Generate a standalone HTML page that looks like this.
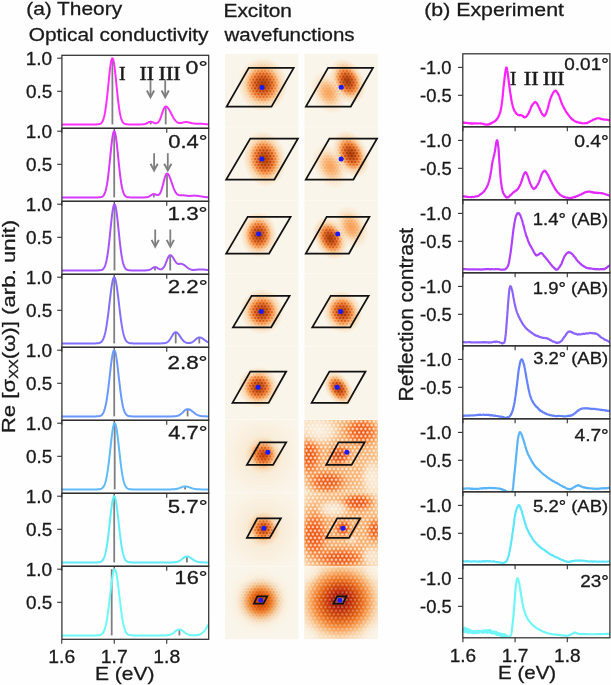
<!DOCTYPE html><html><head><meta charset="utf-8"><style>html,body{margin:0;padding:0;background:#fefefe;width:611px;height:685px;overflow:hidden}svg{display:block}</style></head><body><svg width="611" height="685" viewBox="0 0 611 685"><defs><clipPath id="lc0"><rect x="61.9" y="55.3" width="146.8" height="73"/></clipPath><clipPath id="lc1"><rect x="61.9" y="128.3" width="146.8" height="73"/></clipPath><clipPath id="lc2"><rect x="61.9" y="201.3" width="146.8" height="73"/></clipPath><clipPath id="lc3"><rect x="61.9" y="274.3" width="146.8" height="73"/></clipPath><clipPath id="lc4"><rect x="61.9" y="347.3" width="146.8" height="73"/></clipPath><clipPath id="lc5"><rect x="61.9" y="420.3" width="146.8" height="73"/></clipPath><clipPath id="lc6"><rect x="61.9" y="493.3" width="146.8" height="73"/></clipPath><clipPath id="lc7"><rect x="61.9" y="566.3" width="146.8" height="73"/></clipPath><clipPath id="rc0"><rect x="462.8" y="53.8" width="147.1" height="73"/></clipPath><clipPath id="rc1"><rect x="462.8" y="126.8" width="147.1" height="73"/></clipPath><clipPath id="rc2"><rect x="462.8" y="199.8" width="147.1" height="73"/></clipPath><clipPath id="rc3"><rect x="462.8" y="272.8" width="147.1" height="73"/></clipPath><clipPath id="rc4"><rect x="462.8" y="345.8" width="147.1" height="73"/></clipPath><clipPath id="rc5"><rect x="462.8" y="418.8" width="147.1" height="73"/></clipPath><clipPath id="rc6"><rect x="462.8" y="491.8" width="147.1" height="73"/></clipPath><clipPath id="rc7"><rect x="462.8" y="564.8" width="147.1" height="73"/></clipPath><pattern id="hexD" width="3.4" height="5.89" patternUnits="userSpaceOnUse"><circle cx="0" cy="0" r="1.05" fill="#7a2a05"/><circle cx="3.4" cy="0" r="1.05" fill="#7a2a05"/><circle cx="0" cy="5.89" r="1.05" fill="#7a2a05"/><circle cx="3.4" cy="5.89" r="1.05" fill="#7a2a05"/><circle cx="1.7" cy="2.945" r="1.05" fill="#7a2a05"/></pattern><pattern id="hexW" width="4.2" height="7.27" patternUnits="userSpaceOnUse"><circle cx="0" cy="0" r="1.3" fill="#fff8ef"/><circle cx="4.2" cy="0" r="1.3" fill="#fff8ef"/><circle cx="0" cy="7.27" r="1.3" fill="#fff8ef"/><circle cx="4.2" cy="7.27" r="1.3" fill="#fff8ef"/><circle cx="2.1" cy="3.635" r="1.3" fill="#fff8ef"/></pattern><pattern id="hexG" width="3.4" height="5.89" patternUnits="userSpaceOnUse"><path d="M0 0H3.4V5.89H0ZM-1.15 0a1.15 1.15 0 1 0 2.3 0a1.15 1.15 0 1 0 -2.3 0ZM2.25 0a1.15 1.15 0 1 0 2.3 0a1.15 1.15 0 1 0 -2.3 0ZM-1.15 5.89a1.15 1.15 0 1 0 2.3 0a1.15 1.15 0 1 0 -2.3 0ZM2.25 5.89a1.15 1.15 0 1 0 2.3 0a1.15 1.15 0 1 0 -2.3 0ZM0.55 2.94a1.15 1.15 0 1 0 2.3 0a1.15 1.15 0 1 0 -2.3 0Z" fill="#fff1e2" fill-rule="evenodd"/></pattern><clipPath id="ic0_0"><rect x="225" y="53.9" width="73.5" height="72.8"/></clipPath><clipPath id="ic0_1"><rect x="304.4" y="53.9" width="73.5" height="72.8"/></clipPath><clipPath id="ic1_0"><rect x="225" y="127.1" width="73.5" height="72.8"/></clipPath><clipPath id="ic1_1"><rect x="304.4" y="127.1" width="73.5" height="72.8"/></clipPath><clipPath id="ic2_0"><rect x="225" y="200.3" width="73.5" height="72.8"/></clipPath><clipPath id="ic2_1"><rect x="304.4" y="200.3" width="73.5" height="72.8"/></clipPath><clipPath id="ic3_0"><rect x="225" y="273.5" width="73.5" height="72.8"/></clipPath><clipPath id="ic3_1"><rect x="304.4" y="273.5" width="73.5" height="72.8"/></clipPath><clipPath id="ic4_0"><rect x="225" y="346.7" width="73.5" height="72.8"/></clipPath><clipPath id="ic4_1"><rect x="304.4" y="346.7" width="73.5" height="72.8"/></clipPath><clipPath id="ic5_0"><rect x="225" y="419.9" width="73.5" height="72.8"/></clipPath><clipPath id="ic5_1"><rect x="304.4" y="419.9" width="73.5" height="72.8"/></clipPath><clipPath id="ic6_0"><rect x="225" y="493.1" width="73.5" height="72.8"/></clipPath><clipPath id="ic6_1"><rect x="304.4" y="493.1" width="73.5" height="72.8"/></clipPath><clipPath id="ic7_0"><rect x="225" y="566.3" width="73.5" height="72.8"/></clipPath><clipPath id="ic7_1"><rect x="304.4" y="566.3" width="73.5" height="72.8"/></clipPath><radialGradient id="g1"><stop offset="0" stop-color="#bc4102"/><stop offset="0.07" stop-color="#bd4102"/><stop offset="0.14" stop-color="#c04202"/><stop offset="0.21" stop-color="#c74502"/><stop offset="0.29" stop-color="#d54a01"/><stop offset="0.36" stop-color="#e25709"/><stop offset="0.43" stop-color="#f06b14"/><stop offset="0.5" stop-color="#f98632"/><stop offset="0.57" stop-color="#fda359"/><stop offset="0.64" stop-color="#fdc085"/><stop offset="0.71" stop-color="#fddab2"/><stop offset="0.79" stop-color="#fee8d0"/><stop offset="0.86" stop-color="#fef3e6"/><stop offset="0.93" stop-color="#fff8f1"/><stop offset="1" stop-color="#ffffff"/></radialGradient><radialGradient id="gg2"><stop offset="0" stop-color="#fff" stop-opacity="0"/><stop offset="0.35" stop-color="#fff" stop-opacity="0.29"/><stop offset="0.75" stop-color="#fff" stop-opacity="0.42"/><stop offset="1" stop-color="#fff" stop-opacity="0"/></radialGradient><mask id="gm2" maskUnits="userSpaceOnUse" x="0" y="0" width="611" height="685"><ellipse cx="262.7" cy="84.5" rx="23.6" ry="25.65" fill="url(#gg2)"/></mask><radialGradient id="mg3"><stop offset="0" stop-color="#fff" stop-opacity="0.5"/><stop offset="0.55" stop-color="#fff" stop-opacity="0.23"/><stop offset="1" stop-color="#fff" stop-opacity="0"/></radialGradient><mask id="m3" maskUnits="userSpaceOnUse" x="0" y="0" width="611" height="685"><ellipse cx="262.7" cy="84.5" rx="17" ry="18" fill="url(#mg3)"/></mask><radialGradient id="g4"><stop offset="0" stop-color="#b83e02"/><stop offset="0.07" stop-color="#b93f02"/><stop offset="0.14" stop-color="#bc4102"/><stop offset="0.21" stop-color="#c34302"/><stop offset="0.29" stop-color="#d24801"/><stop offset="0.36" stop-color="#e05507"/><stop offset="0.43" stop-color="#ee6912"/><stop offset="0.5" stop-color="#f88430"/><stop offset="0.57" stop-color="#fda157"/><stop offset="0.64" stop-color="#fdbe83"/><stop offset="0.71" stop-color="#fdd8b1"/><stop offset="0.79" stop-color="#fee8d0"/><stop offset="0.86" stop-color="#fef3e5"/><stop offset="0.93" stop-color="#fff8f1"/><stop offset="1" stop-color="#ffffff"/></radialGradient><radialGradient id="g5"><stop offset="0" stop-color="#fdac66"/><stop offset="0.07" stop-color="#fdac66"/><stop offset="0.14" stop-color="#fdad67"/><stop offset="0.21" stop-color="#fdaf6b"/><stop offset="0.29" stop-color="#fdb472"/><stop offset="0.36" stop-color="#fdbb7f"/><stop offset="0.43" stop-color="#fdc690"/><stop offset="0.5" stop-color="#fdd2a6"/><stop offset="0.57" stop-color="#fddebb"/><stop offset="0.64" stop-color="#fee7ce"/><stop offset="0.71" stop-color="#feefe1"/><stop offset="0.79" stop-color="#fef5ea"/><stop offset="0.86" stop-color="#fff9f2"/><stop offset="0.93" stop-color="#fffcf7"/><stop offset="1" stop-color="#ffffff"/></radialGradient><radialGradient id="gg6"><stop offset="0" stop-color="#fff" stop-opacity="0"/><stop offset="0.35" stop-color="#fff" stop-opacity="0.29"/><stop offset="0.75" stop-color="#fff" stop-opacity="0.42"/><stop offset="1" stop-color="#fff" stop-opacity="0"/></radialGradient><mask id="gm6" maskUnits="userSpaceOnUse" x="0" y="0" width="611" height="685"><ellipse cx="347.5" cy="81.2" rx="15.9" ry="22.57" fill="url(#gg6)" transform="rotate(-26 347.5 81.2)"/></mask><radialGradient id="gg7"><stop offset="0" stop-color="#fff" stop-opacity="0"/><stop offset="0.35" stop-color="#fff" stop-opacity="0.29"/><stop offset="0.75" stop-color="#fff" stop-opacity="0.42"/><stop offset="1" stop-color="#fff" stop-opacity="0"/></radialGradient><mask id="gm7" maskUnits="userSpaceOnUse" x="0" y="0" width="611" height="685"><ellipse cx="328.3" cy="92.6" rx="15.9" ry="21.55" fill="url(#gg7)" transform="rotate(-26 328.3 92.6)"/></mask><radialGradient id="mg8"><stop offset="0" stop-color="#fff" stop-opacity="0.5"/><stop offset="0.55" stop-color="#fff" stop-opacity="0.23"/><stop offset="1" stop-color="#fff" stop-opacity="0"/></radialGradient><mask id="m8" maskUnits="userSpaceOnUse" x="0" y="0" width="611" height="685"><ellipse cx="347.5" cy="81.2" rx="11" ry="16" fill="url(#mg8)" transform="rotate(-26 347.5 81.2)"/></mask><radialGradient id="g9"><stop offset="0" stop-color="#bc4102"/><stop offset="0.07" stop-color="#bd4102"/><stop offset="0.14" stop-color="#c04202"/><stop offset="0.21" stop-color="#c74502"/><stop offset="0.29" stop-color="#d54a01"/><stop offset="0.36" stop-color="#e25709"/><stop offset="0.43" stop-color="#f06b14"/><stop offset="0.5" stop-color="#f98632"/><stop offset="0.57" stop-color="#fda359"/><stop offset="0.64" stop-color="#fdc085"/><stop offset="0.71" stop-color="#fddab2"/><stop offset="0.79" stop-color="#fee8d0"/><stop offset="0.86" stop-color="#fef3e6"/><stop offset="0.93" stop-color="#fff8f1"/><stop offset="1" stop-color="#ffffff"/></radialGradient><radialGradient id="gg10"><stop offset="0" stop-color="#fff" stop-opacity="0"/><stop offset="0.35" stop-color="#fff" stop-opacity="0.29"/><stop offset="0.75" stop-color="#fff" stop-opacity="0.42"/><stop offset="1" stop-color="#fff" stop-opacity="0"/></radialGradient><mask id="gm10" maskUnits="userSpaceOnUse" x="0" y="0" width="611" height="685"><ellipse cx="264.5" cy="159" rx="20.52" ry="26.68" fill="url(#gg10)" transform="rotate(-8 264.5 159)"/></mask><radialGradient id="mg11"><stop offset="0" stop-color="#fff" stop-opacity="0.5"/><stop offset="0.55" stop-color="#fff" stop-opacity="0.23"/><stop offset="1" stop-color="#fff" stop-opacity="0"/></radialGradient><mask id="m11" maskUnits="userSpaceOnUse" x="0" y="0" width="611" height="685"><ellipse cx="264.5" cy="158" rx="14" ry="18" fill="url(#mg11)" transform="rotate(-8 264.5 158)"/></mask><radialGradient id="g12"><stop offset="0" stop-color="#b83e02"/><stop offset="0.07" stop-color="#b93f02"/><stop offset="0.14" stop-color="#bc4102"/><stop offset="0.21" stop-color="#c34302"/><stop offset="0.29" stop-color="#d24801"/><stop offset="0.36" stop-color="#e05507"/><stop offset="0.43" stop-color="#ee6912"/><stop offset="0.5" stop-color="#f88430"/><stop offset="0.57" stop-color="#fda157"/><stop offset="0.64" stop-color="#fdbe83"/><stop offset="0.71" stop-color="#fdd8b1"/><stop offset="0.79" stop-color="#fee8d0"/><stop offset="0.86" stop-color="#fef3e5"/><stop offset="0.93" stop-color="#fff8f1"/><stop offset="1" stop-color="#ffffff"/></radialGradient><radialGradient id="g13"><stop offset="0" stop-color="#fdac66"/><stop offset="0.07" stop-color="#fdac66"/><stop offset="0.14" stop-color="#fdad67"/><stop offset="0.21" stop-color="#fdaf6b"/><stop offset="0.29" stop-color="#fdb472"/><stop offset="0.36" stop-color="#fdbb7f"/><stop offset="0.43" stop-color="#fdc690"/><stop offset="0.5" stop-color="#fdd2a6"/><stop offset="0.57" stop-color="#fddebb"/><stop offset="0.64" stop-color="#fee7ce"/><stop offset="0.71" stop-color="#feefe1"/><stop offset="0.79" stop-color="#fef5ea"/><stop offset="0.86" stop-color="#fff9f2"/><stop offset="0.93" stop-color="#fffcf7"/><stop offset="1" stop-color="#ffffff"/></radialGradient><radialGradient id="gg14"><stop offset="0" stop-color="#fff" stop-opacity="0"/><stop offset="0.35" stop-color="#fff" stop-opacity="0.29"/><stop offset="0.75" stop-color="#fff" stop-opacity="0.42"/><stop offset="1" stop-color="#fff" stop-opacity="0"/></radialGradient><mask id="gm14" maskUnits="userSpaceOnUse" x="0" y="0" width="611" height="685"><ellipse cx="350.8" cy="154" rx="15.9" ry="23.6" fill="url(#gg14)" transform="rotate(-26 350.8 154)"/></mask><radialGradient id="gg15"><stop offset="0" stop-color="#fff" stop-opacity="0"/><stop offset="0.35" stop-color="#fff" stop-opacity="0.29"/><stop offset="0.75" stop-color="#fff" stop-opacity="0.42"/><stop offset="1" stop-color="#fff" stop-opacity="0"/></radialGradient><mask id="gm15" maskUnits="userSpaceOnUse" x="0" y="0" width="611" height="685"><ellipse cx="330.3" cy="166.3" rx="15.9" ry="22.57" fill="url(#gg15)" transform="rotate(-26 330.3 166.3)"/></mask><radialGradient id="mg16"><stop offset="0" stop-color="#fff" stop-opacity="0.5"/><stop offset="0.55" stop-color="#fff" stop-opacity="0.23"/><stop offset="1" stop-color="#fff" stop-opacity="0"/></radialGradient><mask id="m16" maskUnits="userSpaceOnUse" x="0" y="0" width="611" height="685"><ellipse cx="350.8" cy="154" rx="11" ry="16" fill="url(#mg16)" transform="rotate(-26 350.8 154)"/></mask><radialGradient id="g17"><stop offset="0" stop-color="#b83e02"/><stop offset="0.07" stop-color="#b93f02"/><stop offset="0.14" stop-color="#bc4102"/><stop offset="0.21" stop-color="#c34302"/><stop offset="0.29" stop-color="#d24801"/><stop offset="0.36" stop-color="#e05507"/><stop offset="0.43" stop-color="#ee6912"/><stop offset="0.5" stop-color="#f88430"/><stop offset="0.57" stop-color="#fda157"/><stop offset="0.64" stop-color="#fdbe83"/><stop offset="0.71" stop-color="#fdd8b1"/><stop offset="0.79" stop-color="#fee8d0"/><stop offset="0.86" stop-color="#fef3e5"/><stop offset="0.93" stop-color="#fff8f1"/><stop offset="1" stop-color="#ffffff"/></radialGradient><radialGradient id="gg18"><stop offset="0" stop-color="#fff" stop-opacity="0"/><stop offset="0.35" stop-color="#fff" stop-opacity="0.29"/><stop offset="0.75" stop-color="#fff" stop-opacity="0.42"/><stop offset="1" stop-color="#fff" stop-opacity="0"/></radialGradient><mask id="gm18" maskUnits="userSpaceOnUse" x="0" y="0" width="611" height="685"><ellipse cx="258.7" cy="234.7" rx="17.44" ry="21.55" fill="url(#gg18)"/></mask><radialGradient id="mg19"><stop offset="0" stop-color="#fff" stop-opacity="0.45"/><stop offset="0.55" stop-color="#fff" stop-opacity="0.2"/><stop offset="1" stop-color="#fff" stop-opacity="0"/></radialGradient><mask id="m19" maskUnits="userSpaceOnUse" x="0" y="0" width="611" height="685"><ellipse cx="258.7" cy="234.1" rx="12" ry="15" fill="url(#mg19)"/></mask><radialGradient id="g20"><stop offset="0" stop-color="#b83e02"/><stop offset="0.07" stop-color="#b93f02"/><stop offset="0.14" stop-color="#bc4102"/><stop offset="0.21" stop-color="#c34302"/><stop offset="0.29" stop-color="#d24801"/><stop offset="0.36" stop-color="#e05507"/><stop offset="0.43" stop-color="#ee6912"/><stop offset="0.5" stop-color="#f88430"/><stop offset="0.57" stop-color="#fda157"/><stop offset="0.64" stop-color="#fdbe83"/><stop offset="0.71" stop-color="#fdd8b1"/><stop offset="0.79" stop-color="#fee8d0"/><stop offset="0.86" stop-color="#fef3e5"/><stop offset="0.93" stop-color="#fff8f1"/><stop offset="1" stop-color="#ffffff"/></radialGradient><radialGradient id="g21"><stop offset="0" stop-color="#fda55d"/><stop offset="0.07" stop-color="#fda75e"/><stop offset="0.14" stop-color="#fda85f"/><stop offset="0.21" stop-color="#fdaa64"/><stop offset="0.29" stop-color="#fdaf6a"/><stop offset="0.36" stop-color="#fdb676"/><stop offset="0.43" stop-color="#fdc289"/><stop offset="0.5" stop-color="#fdcfa0"/><stop offset="0.57" stop-color="#fddcb7"/><stop offset="0.64" stop-color="#fee6cb"/><stop offset="0.71" stop-color="#feeede"/><stop offset="0.79" stop-color="#fef5e9"/><stop offset="0.86" stop-color="#fff9f2"/><stop offset="0.93" stop-color="#fffbf7"/><stop offset="1" stop-color="#ffffff"/></radialGradient><radialGradient id="gg22"><stop offset="0" stop-color="#fff" stop-opacity="0"/><stop offset="0.35" stop-color="#fff" stop-opacity="0.29"/><stop offset="0.75" stop-color="#fff" stop-opacity="0.42"/><stop offset="1" stop-color="#fff" stop-opacity="0"/></radialGradient><mask id="gm22" maskUnits="userSpaceOnUse" x="0" y="0" width="611" height="685"><ellipse cx="330.3" cy="238.2" rx="15.39" ry="21.55" fill="url(#gg22)" transform="rotate(-26 330.3 238.2)"/></mask><radialGradient id="gg23"><stop offset="0" stop-color="#fff" stop-opacity="0"/><stop offset="0.35" stop-color="#fff" stop-opacity="0.29"/><stop offset="0.75" stop-color="#fff" stop-opacity="0.42"/><stop offset="1" stop-color="#fff" stop-opacity="0"/></radialGradient><mask id="gm23" maskUnits="userSpaceOnUse" x="0" y="0" width="611" height="685"><ellipse cx="351.3" cy="227" rx="15.39" ry="21.55" fill="url(#gg23)" transform="rotate(-26 351.3 227)"/></mask><radialGradient id="mg24"><stop offset="0" stop-color="#fff" stop-opacity="0.5"/><stop offset="0.55" stop-color="#fff" stop-opacity="0.23"/><stop offset="1" stop-color="#fff" stop-opacity="0"/></radialGradient><mask id="m24" maskUnits="userSpaceOnUse" x="0" y="0" width="611" height="685"><ellipse cx="330.5" cy="237.5" rx="10" ry="15" fill="url(#mg24)" transform="rotate(-26 330.5 237.5)"/></mask><radialGradient id="g25"><stop offset="0" stop-color="#bc4102"/><stop offset="0.07" stop-color="#bd4102"/><stop offset="0.14" stop-color="#c04202"/><stop offset="0.21" stop-color="#c74502"/><stop offset="0.29" stop-color="#d54a01"/><stop offset="0.36" stop-color="#e25709"/><stop offset="0.43" stop-color="#f06b14"/><stop offset="0.5" stop-color="#f98632"/><stop offset="0.57" stop-color="#fda359"/><stop offset="0.64" stop-color="#fdc085"/><stop offset="0.71" stop-color="#fddab2"/><stop offset="0.79" stop-color="#fee8d0"/><stop offset="0.86" stop-color="#fef3e6"/><stop offset="0.93" stop-color="#fff8f1"/><stop offset="1" stop-color="#ffffff"/></radialGradient><radialGradient id="gg26"><stop offset="0" stop-color="#fff" stop-opacity="0"/><stop offset="0.35" stop-color="#fff" stop-opacity="0.29"/><stop offset="0.75" stop-color="#fff" stop-opacity="0.42"/><stop offset="1" stop-color="#fff" stop-opacity="0"/></radialGradient><mask id="gm26" maskUnits="userSpaceOnUse" x="0" y="0" width="611" height="685"><ellipse cx="262" cy="311.6" rx="20.52" ry="21.55" fill="url(#gg26)"/></mask><radialGradient id="mg27"><stop offset="0" stop-color="#fff" stop-opacity="0.5"/><stop offset="0.55" stop-color="#fff" stop-opacity="0.23"/><stop offset="1" stop-color="#fff" stop-opacity="0"/></radialGradient><mask id="m27" maskUnits="userSpaceOnUse" x="0" y="0" width="611" height="685"><ellipse cx="261.3" cy="311.6" rx="14" ry="14" fill="url(#mg27)"/></mask><radialGradient id="g28"><stop offset="0" stop-color="#c14202"/><stop offset="0.07" stop-color="#c14302"/><stop offset="0.14" stop-color="#c44302"/><stop offset="0.21" stop-color="#cb4602"/><stop offset="0.29" stop-color="#d94b01"/><stop offset="0.36" stop-color="#e35a0a"/><stop offset="0.43" stop-color="#f16d15"/><stop offset="0.5" stop-color="#fa8835"/><stop offset="0.57" stop-color="#fda45b"/><stop offset="0.64" stop-color="#fdc188"/><stop offset="0.71" stop-color="#fddbb3"/><stop offset="0.79" stop-color="#fee9d1"/><stop offset="0.86" stop-color="#fef3e6"/><stop offset="0.93" stop-color="#fff8f1"/><stop offset="1" stop-color="#ffffff"/></radialGradient><radialGradient id="gg29"><stop offset="0" stop-color="#fff" stop-opacity="0"/><stop offset="0.35" stop-color="#fff" stop-opacity="0.29"/><stop offset="0.75" stop-color="#fff" stop-opacity="0.42"/><stop offset="1" stop-color="#fff" stop-opacity="0"/></radialGradient><mask id="gm29" maskUnits="userSpaceOnUse" x="0" y="0" width="611" height="685"><ellipse cx="342.4" cy="312" rx="18.47" ry="20.52" fill="url(#gg29)" transform="rotate(-20 342.4 312)"/></mask><radialGradient id="mg30"><stop offset="0" stop-color="#fff" stop-opacity="0.5"/><stop offset="0.55" stop-color="#fff" stop-opacity="0.23"/><stop offset="1" stop-color="#fff" stop-opacity="0"/></radialGradient><mask id="m30" maskUnits="userSpaceOnUse" x="0" y="0" width="611" height="685"><ellipse cx="343.5" cy="313" rx="13" ry="14" fill="url(#mg30)" transform="rotate(-20 343.5 313)"/></mask><radialGradient id="g31"><stop offset="0" stop-color="#bc4102"/><stop offset="0.07" stop-color="#bd4102"/><stop offset="0.14" stop-color="#c04202"/><stop offset="0.21" stop-color="#c74502"/><stop offset="0.29" stop-color="#d54a01"/><stop offset="0.36" stop-color="#e25709"/><stop offset="0.43" stop-color="#f06b14"/><stop offset="0.5" stop-color="#f98632"/><stop offset="0.57" stop-color="#fda359"/><stop offset="0.64" stop-color="#fdc085"/><stop offset="0.71" stop-color="#fddab2"/><stop offset="0.79" stop-color="#fee8d0"/><stop offset="0.86" stop-color="#fef3e6"/><stop offset="0.93" stop-color="#fff8f1"/><stop offset="1" stop-color="#ffffff"/></radialGradient><radialGradient id="gg32"><stop offset="0" stop-color="#fff" stop-opacity="0"/><stop offset="0.35" stop-color="#fff" stop-opacity="0.29"/><stop offset="0.75" stop-color="#fff" stop-opacity="0.42"/><stop offset="1" stop-color="#fff" stop-opacity="0"/></radialGradient><mask id="gm32" maskUnits="userSpaceOnUse" x="0" y="0" width="611" height="685"><ellipse cx="258.5" cy="387.2" rx="19.49" ry="19.49" fill="url(#gg32)"/></mask><radialGradient id="mg33"><stop offset="0" stop-color="#fff" stop-opacity="0.5"/><stop offset="0.55" stop-color="#fff" stop-opacity="0.23"/><stop offset="1" stop-color="#fff" stop-opacity="0"/></radialGradient><mask id="m33" maskUnits="userSpaceOnUse" x="0" y="0" width="611" height="685"><ellipse cx="258.3" cy="387.2" rx="13" ry="13" fill="url(#mg33)"/></mask><radialGradient id="g34"><stop offset="0" stop-color="#c14202"/><stop offset="0.07" stop-color="#c14302"/><stop offset="0.14" stop-color="#c44302"/><stop offset="0.21" stop-color="#cb4602"/><stop offset="0.29" stop-color="#d94b01"/><stop offset="0.36" stop-color="#e35a0a"/><stop offset="0.43" stop-color="#f16d15"/><stop offset="0.5" stop-color="#fa8835"/><stop offset="0.57" stop-color="#fda45b"/><stop offset="0.64" stop-color="#fdc188"/><stop offset="0.71" stop-color="#fddbb3"/><stop offset="0.79" stop-color="#fee9d1"/><stop offset="0.86" stop-color="#fef3e6"/><stop offset="0.93" stop-color="#fff8f1"/><stop offset="1" stop-color="#ffffff"/></radialGradient><radialGradient id="gg35"><stop offset="0" stop-color="#fff" stop-opacity="0"/><stop offset="0.35" stop-color="#fff" stop-opacity="0.29"/><stop offset="0.75" stop-color="#fff" stop-opacity="0.42"/><stop offset="1" stop-color="#fff" stop-opacity="0"/></radialGradient><mask id="gm35" maskUnits="userSpaceOnUse" x="0" y="0" width="611" height="685"><ellipse cx="338.5" cy="388.5" rx="12.31" ry="18.47" fill="url(#gg35)" transform="rotate(-35 338.5 388.5)"/></mask><radialGradient id="mg36"><stop offset="0" stop-color="#fff" stop-opacity="0.5"/><stop offset="0.55" stop-color="#fff" stop-opacity="0.23"/><stop offset="1" stop-color="#fff" stop-opacity="0"/></radialGradient><mask id="m36" maskUnits="userSpaceOnUse" x="0" y="0" width="611" height="685"><ellipse cx="338.5" cy="388.5" rx="9" ry="14" fill="url(#mg36)" transform="rotate(-35 338.5 388.5)"/></mask><radialGradient id="g37"><stop offset="0" stop-color="#fef3e6"/><stop offset="0.07" stop-color="#fef3e6"/><stop offset="0.14" stop-color="#fef3e6"/><stop offset="0.21" stop-color="#fef3e7"/><stop offset="0.29" stop-color="#fef4e8"/><stop offset="0.36" stop-color="#fef5e9"/><stop offset="0.43" stop-color="#fef6eb"/><stop offset="0.5" stop-color="#fef7ef"/><stop offset="0.57" stop-color="#fff9f2"/><stop offset="0.64" stop-color="#fffaf4"/><stop offset="0.71" stop-color="#fffbf7"/><stop offset="0.79" stop-color="#fffdfa"/><stop offset="0.86" stop-color="#fffefc"/><stop offset="0.93" stop-color="#fffefd"/><stop offset="1" stop-color="#ffffff"/></radialGradient><radialGradient id="g38"><stop offset="0" stop-color="#db4e02"/><stop offset="0.07" stop-color="#db4e03"/><stop offset="0.14" stop-color="#dc5003"/><stop offset="0.21" stop-color="#df5407"/><stop offset="0.29" stop-color="#e65d0b"/><stop offset="0.36" stop-color="#ef6a12"/><stop offset="0.43" stop-color="#f67e28"/><stop offset="0.5" stop-color="#fd9645"/><stop offset="0.57" stop-color="#fdaf6a"/><stop offset="0.64" stop-color="#fdc995"/><stop offset="0.71" stop-color="#fddebb"/><stop offset="0.79" stop-color="#feebd7"/><stop offset="0.86" stop-color="#fef4e8"/><stop offset="0.93" stop-color="#fff9f2"/><stop offset="1" stop-color="#ffffff"/></radialGradient><radialGradient id="gg39"><stop offset="0" stop-color="#fff" stop-opacity="0"/><stop offset="0.35" stop-color="#fff" stop-opacity="0.29"/><stop offset="0.75" stop-color="#fff" stop-opacity="0.42"/><stop offset="1" stop-color="#fff" stop-opacity="0"/></radialGradient><mask id="gm39" maskUnits="userSpaceOnUse" x="0" y="0" width="611" height="685"><ellipse cx="263.3" cy="455" rx="17.1" ry="17.57" fill="url(#gg39)"/></mask><radialGradient id="mg40"><stop offset="0" stop-color="#fff" stop-opacity="0.55"/><stop offset="0.55" stop-color="#fff" stop-opacity="0.25"/><stop offset="1" stop-color="#fff" stop-opacity="0"/></radialGradient><mask id="m40" maskUnits="userSpaceOnUse" x="0" y="0" width="611" height="685"><ellipse cx="263.3" cy="455" rx="12" ry="13" fill="url(#mg40)"/></mask><radialGradient id="g41"><stop offset="0" stop-color="#fdb97c"/><stop offset="0.07" stop-color="#fdb97c"/><stop offset="0.14" stop-color="#fdb97c"/><stop offset="0.21" stop-color="#fdb97c"/><stop offset="0.29" stop-color="#fdb97c"/><stop offset="0.36" stop-color="#fdba7d"/><stop offset="0.43" stop-color="#fdbc80"/><stop offset="0.5" stop-color="#fdc085"/><stop offset="0.57" stop-color="#fdc58e"/><stop offset="0.64" stop-color="#fdcc9b"/><stop offset="0.71" stop-color="#fdd7ae"/><stop offset="0.79" stop-color="#fde1c0"/><stop offset="0.86" stop-color="#feead5"/><stop offset="0.93" stop-color="#fef3e6"/><stop offset="1" stop-color="#ffffff"/></radialGradient><radialGradient id="g42"><stop offset="0" stop-color="#f3751d"/><stop offset="0.07" stop-color="#f3751d"/><stop offset="0.14" stop-color="#f4771f"/><stop offset="0.21" stop-color="#f57b25"/><stop offset="0.29" stop-color="#f8822e"/><stop offset="0.36" stop-color="#fb8e3c"/><stop offset="0.43" stop-color="#fd9d50"/><stop offset="0.5" stop-color="#fdaf6b"/><stop offset="0.57" stop-color="#fdc48d"/><stop offset="0.64" stop-color="#fdd8b1"/><stop offset="0.71" stop-color="#fee6cb"/><stop offset="0.79" stop-color="#fef0e1"/><stop offset="0.86" stop-color="#fef6ed"/><stop offset="0.93" stop-color="#fffaf4"/><stop offset="1" stop-color="#ffffff"/></radialGradient><radialGradient id="g43"><stop offset="0" stop-color="#f3751d"/><stop offset="0.07" stop-color="#f3751d"/><stop offset="0.14" stop-color="#f4771f"/><stop offset="0.21" stop-color="#f57b25"/><stop offset="0.29" stop-color="#f8822e"/><stop offset="0.36" stop-color="#fb8e3c"/><stop offset="0.43" stop-color="#fd9d50"/><stop offset="0.5" stop-color="#fdaf6b"/><stop offset="0.57" stop-color="#fdc48d"/><stop offset="0.64" stop-color="#fdd8b1"/><stop offset="0.71" stop-color="#fee6cb"/><stop offset="0.79" stop-color="#fef0e1"/><stop offset="0.86" stop-color="#fef6ed"/><stop offset="0.93" stop-color="#fffaf4"/><stop offset="1" stop-color="#ffffff"/></radialGradient><radialGradient id="g44"><stop offset="0" stop-color="#f3751d"/><stop offset="0.07" stop-color="#f3751d"/><stop offset="0.14" stop-color="#f4771f"/><stop offset="0.21" stop-color="#f57b25"/><stop offset="0.29" stop-color="#f8822e"/><stop offset="0.36" stop-color="#fb8e3c"/><stop offset="0.43" stop-color="#fd9d50"/><stop offset="0.5" stop-color="#fdaf6b"/><stop offset="0.57" stop-color="#fdc48d"/><stop offset="0.64" stop-color="#fdd8b1"/><stop offset="0.71" stop-color="#fee6cb"/><stop offset="0.79" stop-color="#fef0e1"/><stop offset="0.86" stop-color="#fef6ed"/><stop offset="0.93" stop-color="#fffaf4"/><stop offset="1" stop-color="#ffffff"/></radialGradient><radialGradient id="g45"><stop offset="0" stop-color="#ee6912"/><stop offset="0.07" stop-color="#ee6912"/><stop offset="0.14" stop-color="#ef6b14"/><stop offset="0.21" stop-color="#f26f17"/><stop offset="0.29" stop-color="#f47721"/><stop offset="0.36" stop-color="#f88430"/><stop offset="0.43" stop-color="#fd9544"/><stop offset="0.5" stop-color="#fda861"/><stop offset="0.57" stop-color="#fdbd83"/><stop offset="0.64" stop-color="#fdd4a9"/><stop offset="0.71" stop-color="#fde3c7"/><stop offset="0.79" stop-color="#feefde"/><stop offset="0.86" stop-color="#fef6eb"/><stop offset="0.93" stop-color="#fffaf4"/><stop offset="1" stop-color="#ffffff"/></radialGradient><radialGradient id="lg46"><stop offset="0" stop-color="#faf5ea" stop-opacity="0.9"/><stop offset="0.5" stop-color="#faf5ea" stop-opacity="0.68"/><stop offset="1" stop-color="#faf5ea" stop-opacity="0"/></radialGradient><radialGradient id="lg47"><stop offset="0" stop-color="#faf5ea" stop-opacity="0.8"/><stop offset="0.5" stop-color="#faf5ea" stop-opacity="0.6"/><stop offset="1" stop-color="#faf5ea" stop-opacity="0"/></radialGradient><radialGradient id="lg48"><stop offset="0" stop-color="#faf5ea" stop-opacity="0.6"/><stop offset="0.5" stop-color="#faf5ea" stop-opacity="0.45"/><stop offset="1" stop-color="#faf5ea" stop-opacity="0"/></radialGradient><radialGradient id="mg50"><stop offset="0" stop-color="#fff" stop-opacity="0.45"/><stop offset="0.55" stop-color="#fff" stop-opacity="0.2"/><stop offset="1" stop-color="#fff" stop-opacity="0"/></radialGradient><mask id="m50" maskUnits="userSpaceOnUse" x="0" y="0" width="611" height="685"><ellipse cx="339.3" cy="455.3" rx="9" ry="7" fill="url(#mg50)" transform="rotate(-20 339.3 455.3)"/></mask><radialGradient id="g51"><stop offset="0" stop-color="#fef3e6"/><stop offset="0.07" stop-color="#fef3e6"/><stop offset="0.14" stop-color="#fef3e6"/><stop offset="0.21" stop-color="#fef3e7"/><stop offset="0.29" stop-color="#fef4e8"/><stop offset="0.36" stop-color="#fef5e9"/><stop offset="0.43" stop-color="#fef6eb"/><stop offset="0.5" stop-color="#fef7ef"/><stop offset="0.57" stop-color="#fff9f2"/><stop offset="0.64" stop-color="#fffaf4"/><stop offset="0.71" stop-color="#fffbf7"/><stop offset="0.79" stop-color="#fffdfa"/><stop offset="0.86" stop-color="#fffefc"/><stop offset="0.93" stop-color="#fffefd"/><stop offset="1" stop-color="#ffffff"/></radialGradient><radialGradient id="g52"><stop offset="0" stop-color="#db4e02"/><stop offset="0.07" stop-color="#db4e03"/><stop offset="0.14" stop-color="#dc5003"/><stop offset="0.21" stop-color="#df5407"/><stop offset="0.29" stop-color="#e65d0b"/><stop offset="0.36" stop-color="#ef6a12"/><stop offset="0.43" stop-color="#f67e28"/><stop offset="0.5" stop-color="#fd9645"/><stop offset="0.57" stop-color="#fdaf6a"/><stop offset="0.64" stop-color="#fdc995"/><stop offset="0.71" stop-color="#fddebb"/><stop offset="0.79" stop-color="#feebd7"/><stop offset="0.86" stop-color="#fef4e8"/><stop offset="0.93" stop-color="#fff9f2"/><stop offset="1" stop-color="#ffffff"/></radialGradient><radialGradient id="gg53"><stop offset="0" stop-color="#fff" stop-opacity="0"/><stop offset="0.35" stop-color="#fff" stop-opacity="0.29"/><stop offset="0.75" stop-color="#fff" stop-opacity="0.42"/><stop offset="1" stop-color="#fff" stop-opacity="0"/></radialGradient><mask id="gm53" maskUnits="userSpaceOnUse" x="0" y="0" width="611" height="685"><ellipse cx="263.5" cy="528.8" rx="16.15" ry="16.62" fill="url(#gg53)"/></mask><radialGradient id="mg54"><stop offset="0" stop-color="#fff" stop-opacity="0.55"/><stop offset="0.55" stop-color="#fff" stop-opacity="0.25"/><stop offset="1" stop-color="#fff" stop-opacity="0"/></radialGradient><mask id="m54" maskUnits="userSpaceOnUse" x="0" y="0" width="611" height="685"><ellipse cx="263.5" cy="528.8" rx="12" ry="12" fill="url(#mg54)"/></mask><radialGradient id="g55"><stop offset="0" stop-color="#fdb472"/><stop offset="0.07" stop-color="#fdb472"/><stop offset="0.14" stop-color="#fdb472"/><stop offset="0.21" stop-color="#fdb472"/><stop offset="0.29" stop-color="#fdb473"/><stop offset="0.36" stop-color="#fdb574"/><stop offset="0.43" stop-color="#fdb676"/><stop offset="0.5" stop-color="#fdb97c"/><stop offset="0.57" stop-color="#fdc085"/><stop offset="0.64" stop-color="#fdc894"/><stop offset="0.71" stop-color="#fdd3a7"/><stop offset="0.79" stop-color="#fddfbc"/><stop offset="0.86" stop-color="#fee9d1"/><stop offset="0.93" stop-color="#fef1e5"/><stop offset="1" stop-color="#ffffff"/></radialGradient><radialGradient id="g56"><stop offset="0" stop-color="#f3751d"/><stop offset="0.07" stop-color="#f3751d"/><stop offset="0.14" stop-color="#f4771f"/><stop offset="0.21" stop-color="#f57b25"/><stop offset="0.29" stop-color="#f8822e"/><stop offset="0.36" stop-color="#fb8e3c"/><stop offset="0.43" stop-color="#fd9d50"/><stop offset="0.5" stop-color="#fdaf6b"/><stop offset="0.57" stop-color="#fdc48d"/><stop offset="0.64" stop-color="#fdd8b1"/><stop offset="0.71" stop-color="#fee6cb"/><stop offset="0.79" stop-color="#fef0e1"/><stop offset="0.86" stop-color="#fef6ed"/><stop offset="0.93" stop-color="#fffaf4"/><stop offset="1" stop-color="#ffffff"/></radialGradient><radialGradient id="g57"><stop offset="0" stop-color="#f3751d"/><stop offset="0.07" stop-color="#f3751d"/><stop offset="0.14" stop-color="#f4771f"/><stop offset="0.21" stop-color="#f57b25"/><stop offset="0.29" stop-color="#f8822e"/><stop offset="0.36" stop-color="#fb8e3c"/><stop offset="0.43" stop-color="#fd9d50"/><stop offset="0.5" stop-color="#fdaf6b"/><stop offset="0.57" stop-color="#fdc48d"/><stop offset="0.64" stop-color="#fdd8b1"/><stop offset="0.71" stop-color="#fee6cb"/><stop offset="0.79" stop-color="#fef0e1"/><stop offset="0.86" stop-color="#fef6ed"/><stop offset="0.93" stop-color="#fffaf4"/><stop offset="1" stop-color="#ffffff"/></radialGradient><radialGradient id="g58"><stop offset="0" stop-color="#ee6912"/><stop offset="0.07" stop-color="#ee6912"/><stop offset="0.14" stop-color="#ef6b14"/><stop offset="0.21" stop-color="#f26f17"/><stop offset="0.29" stop-color="#f47721"/><stop offset="0.36" stop-color="#f88430"/><stop offset="0.43" stop-color="#fd9544"/><stop offset="0.5" stop-color="#fda861"/><stop offset="0.57" stop-color="#fdbd83"/><stop offset="0.64" stop-color="#fdd4a9"/><stop offset="0.71" stop-color="#fde3c7"/><stop offset="0.79" stop-color="#feefde"/><stop offset="0.86" stop-color="#fef6eb"/><stop offset="0.93" stop-color="#fffaf4"/><stop offset="1" stop-color="#ffffff"/></radialGradient><radialGradient id="g59"><stop offset="0" stop-color="#f57b25"/><stop offset="0.07" stop-color="#f57b25"/><stop offset="0.14" stop-color="#f67d27"/><stop offset="0.21" stop-color="#f7802b"/><stop offset="0.29" stop-color="#f98734"/><stop offset="0.36" stop-color="#fd9342"/><stop offset="0.43" stop-color="#fda157"/><stop offset="0.5" stop-color="#fdb371"/><stop offset="0.57" stop-color="#fdc792"/><stop offset="0.64" stop-color="#fddbb4"/><stop offset="0.71" stop-color="#fee7cd"/><stop offset="0.79" stop-color="#fef0e2"/><stop offset="0.86" stop-color="#fef6ed"/><stop offset="0.93" stop-color="#fffaf5"/><stop offset="1" stop-color="#ffffff"/></radialGradient><radialGradient id="g60"><stop offset="0" stop-color="#ea640f"/><stop offset="0.07" stop-color="#ea640f"/><stop offset="0.14" stop-color="#ec6510"/><stop offset="0.21" stop-color="#ee6912"/><stop offset="0.29" stop-color="#f2711a"/><stop offset="0.36" stop-color="#f77f29"/><stop offset="0.43" stop-color="#fc913e"/><stop offset="0.5" stop-color="#fda45b"/><stop offset="0.57" stop-color="#fdba7e"/><stop offset="0.64" stop-color="#fdd2a5"/><stop offset="0.71" stop-color="#fde2c4"/><stop offset="0.79" stop-color="#feeedd"/><stop offset="0.86" stop-color="#fef5ea"/><stop offset="0.93" stop-color="#fff9f3"/><stop offset="1" stop-color="#ffffff"/></radialGradient><radialGradient id="lg61"><stop offset="0" stop-color="#faf5ea" stop-opacity="0.85"/><stop offset="0.5" stop-color="#faf5ea" stop-opacity="0.64"/><stop offset="1" stop-color="#faf5ea" stop-opacity="0"/></radialGradient><radialGradient id="lg62"><stop offset="0" stop-color="#faf5ea" stop-opacity="0.7"/><stop offset="0.5" stop-color="#faf5ea" stop-opacity="0.52"/><stop offset="1" stop-color="#faf5ea" stop-opacity="0"/></radialGradient><radialGradient id="lg63"><stop offset="0" stop-color="#faf5ea" stop-opacity="0.5"/><stop offset="0.5" stop-color="#faf5ea" stop-opacity="0.38"/><stop offset="1" stop-color="#faf5ea" stop-opacity="0"/></radialGradient><radialGradient id="mg65"><stop offset="0" stop-color="#fff" stop-opacity="0.45"/><stop offset="0.55" stop-color="#fff" stop-opacity="0.2"/><stop offset="1" stop-color="#fff" stop-opacity="0"/></radialGradient><mask id="m65" maskUnits="userSpaceOnUse" x="0" y="0" width="611" height="685"><ellipse cx="343" cy="528" rx="8" ry="7" fill="url(#mg65)"/></mask><radialGradient id="g66"><stop offset="0" stop-color="#db4e02"/><stop offset="0.07" stop-color="#dd5004"/><stop offset="0.14" stop-color="#e35a0a"/><stop offset="0.21" stop-color="#f06b14"/><stop offset="0.29" stop-color="#f98733"/><stop offset="0.36" stop-color="#fda75d"/><stop offset="0.43" stop-color="#fdc58f"/><stop offset="0.5" stop-color="#fddfbc"/><stop offset="0.57" stop-color="#feedda"/><stop offset="0.64" stop-color="#fef5eb"/><stop offset="0.71" stop-color="#fffaf4"/><stop offset="0.79" stop-color="#fffdfa"/><stop offset="0.86" stop-color="#fffefd"/><stop offset="0.93" stop-color="#fffffe"/><stop offset="1" stop-color="#ffffff"/></radialGradient><radialGradient id="mg67"><stop offset="0" stop-color="#fff" stop-opacity="0.4"/><stop offset="0.55" stop-color="#fff" stop-opacity="0.18"/><stop offset="1" stop-color="#fff" stop-opacity="0"/></radialGradient><mask id="m67" maskUnits="userSpaceOnUse" x="0" y="0" width="611" height="685"><ellipse cx="260.7" cy="601" rx="24" ry="24" fill="url(#mg67)"/></mask><radialGradient id="g68"><stop offset="0" stop-color="#c54402"/><stop offset="0.07" stop-color="#c54402"/><stop offset="0.14" stop-color="#c94502"/><stop offset="0.21" stop-color="#d24901"/><stop offset="0.29" stop-color="#de5205"/><stop offset="0.36" stop-color="#eb640f"/><stop offset="0.43" stop-color="#f67e28"/><stop offset="0.5" stop-color="#fd9c4e"/><stop offset="0.57" stop-color="#fdba7c"/><stop offset="0.64" stop-color="#fdd7ae"/><stop offset="0.71" stop-color="#fee8cf"/><stop offset="0.79" stop-color="#fef3e6"/><stop offset="0.86" stop-color="#fff9f2"/><stop offset="0.93" stop-color="#fffcf8"/><stop offset="1" stop-color="#ffffff"/></radialGradient><radialGradient id="g69"><stop offset="0" stop-color="#c54402"/><stop offset="0.07" stop-color="#c54402"/><stop offset="0.14" stop-color="#c84502"/><stop offset="0.21" stop-color="#cf4801"/><stop offset="0.29" stop-color="#db4e02"/><stop offset="0.36" stop-color="#e55c0b"/><stop offset="0.43" stop-color="#f27018"/><stop offset="0.5" stop-color="#fa8a37"/><stop offset="0.57" stop-color="#fda55d"/><stop offset="0.64" stop-color="#fdc289"/><stop offset="0.71" stop-color="#fddbb4"/><stop offset="0.79" stop-color="#fee9d3"/><stop offset="0.86" stop-color="#fef3e6"/><stop offset="0.93" stop-color="#fff8f1"/><stop offset="1" stop-color="#ffffff"/></radialGradient><radialGradient id="lg70"><stop offset="0" stop-color="#faf5ea" stop-opacity="0.5"/><stop offset="0.5" stop-color="#faf5ea" stop-opacity="0.38"/><stop offset="1" stop-color="#faf5ea" stop-opacity="0"/></radialGradient><radialGradient id="lg71"><stop offset="0" stop-color="#faf5ea" stop-opacity="0.7"/><stop offset="0.5" stop-color="#faf5ea" stop-opacity="0.52"/><stop offset="1" stop-color="#faf5ea" stop-opacity="0"/></radialGradient><radialGradient id="lg72"><stop offset="0" stop-color="#faf5ea" stop-opacity="0.5"/><stop offset="0.5" stop-color="#faf5ea" stop-opacity="0.38"/><stop offset="1" stop-color="#faf5ea" stop-opacity="0"/></radialGradient><radialGradient id="lg73"><stop offset="0" stop-color="#faf5ea" stop-opacity="0.6"/><stop offset="0.5" stop-color="#faf5ea" stop-opacity="0.45"/><stop offset="1" stop-color="#faf5ea" stop-opacity="0"/></radialGradient><radialGradient id="lg74"><stop offset="0" stop-color="#faf5ea" stop-opacity="0.6"/><stop offset="0.5" stop-color="#faf5ea" stop-opacity="0.45"/><stop offset="1" stop-color="#faf5ea" stop-opacity="0"/></radialGradient><radialGradient id="mg76"><stop offset="0" stop-color="#fff" stop-opacity="0.45"/><stop offset="0.55" stop-color="#fff" stop-opacity="0.2"/><stop offset="1" stop-color="#fff" stop-opacity="0"/></radialGradient><mask id="m76" maskUnits="userSpaceOnUse" x="0" y="0" width="611" height="685"><ellipse cx="340" cy="600" rx="32" ry="30" fill="url(#mg76)" transform="rotate(-10 340 600)"/></mask></defs><rect width="611" height="685" fill="#fefefe"/><line x1="112.4" y1="58.2" x2="112.4" y2="124.4" stroke="#7f7f7f" stroke-width="1.8"/>
<line x1="150.8" y1="121.75" x2="150.8" y2="124.4" stroke="#7f7f7f" stroke-width="1.8"/>
<line x1="165.7" y1="106.53" x2="165.7" y2="124.4" stroke="#7f7f7f" stroke-width="1.8"/>
<path d="M60.9 124.4 L61.4 124.4 L61.9 124.4 L62.4 124.4 L62.9 124.4 L63.4 124.4 L63.9 124.4 L64.4 124.4 L64.9 124.4 L65.4 124.4 L65.9 124.4 L66.4 124.4 L66.9 124.4 L67.4 124.4 L67.9 124.4 L68.4 124.4 L68.9 124.4 L69.4 124.4 L69.9 124.4 L70.4 124.4 L70.9 124.4 L71.4 124.4 L71.9 124.4 L72.4 124.4 L72.9 124.4 L73.4 124.4 L73.9 124.4 L74.4 124.4 L74.9 124.4 L75.4 124.4 L75.9 124.4 L76.4 124.4 L76.9 124.4 L77.4 124.4 L77.9 124.4 L78.4 124.4 L78.9 124.4 L79.4 124.4 L79.9 124.4 L80.4 124.4 L80.9 124.4 L81.4 124.4 L81.9 124.4 L82.4 124.4 L82.9 124.4 L83.4 124.4 L83.9 124.4 L84.4 124.4 L84.9 124.4 L85.4 124.4 L85.9 124.4 L86.4 124.4 L86.9 124.4 L87.4 124.4 L87.9 124.4 L88.4 124.4 L88.9 124.4 L89.4 124.4 L89.9 124.4 L90.4 124.4 L90.9 124.4 L91.4 124.4 L91.9 124.4 L92.4 124.4 L92.9 124.4 L93.4 124.4 L93.9 124.4 L94.4 124.4 L94.9 124.4 L95.4 124.39 L95.9 124.39 L96.4 124.38 L96.9 124.36 L97.4 124.34 L97.9 124.31 L98.4 124.26 L98.9 124.18 L99.4 124.06 L99.9 123.9 L100.4 123.66 L100.9 123.34 L101.4 122.89 L101.9 122.29 L102.4 121.49 L102.9 120.46 L103.4 119.13 L103.9 117.48 L104.4 115.44 L104.9 112.99 L105.4 110.08 L105.9 106.72 L106.4 102.91 L106.9 98.68 L107.4 94.09 L107.9 89.24 L108.4 84.25 L108.9 79.26 L109.4 74.43 L109.9 69.95 L110.4 65.98 L110.9 62.69 L111.4 60.24 L111.9 58.72 L112.4 58.2 L112.9 58.72 L113.4 60.24 L113.9 62.69 L114.4 65.98 L114.9 69.95 L115.4 74.43 L115.9 79.26 L116.4 84.25 L116.9 89.24 L117.4 94.09 L117.9 98.68 L118.4 102.91 L118.9 106.72 L119.4 110.08 L119.9 112.99 L120.4 115.44 L120.9 117.48 L121.4 119.13 L121.9 120.46 L122.4 121.49 L122.9 122.29 L123.4 122.89 L123.9 123.34 L124.4 123.66 L124.9 123.9 L125.4 124.06 L125.9 124.18 L126.4 124.26 L126.9 124.31 L127.4 124.34 L127.9 124.36 L128.4 124.38 L128.9 124.39 L129.4 124.39 L129.9 124.4 L130.4 124.4 L130.9 124.4 L131.4 124.4 L131.9 124.4 L132.4 124.4 L132.9 124.4 L133.4 124.4 L133.9 124.4 L134.4 124.4 L134.9 124.4 L135.4 124.4 L135.9 124.4 L136.4 124.4 L136.9 124.4 L137.4 124.4 L137.9 124.4 L138.4 124.4 L138.9 124.4 L139.4 124.4 L139.9 124.4 L140.4 124.39 L140.9 124.39 L141.4 124.38 L141.9 124.37 L142.4 124.35 L142.9 124.32 L143.4 124.27 L143.9 124.21 L144.4 124.13 L144.9 124.02 L145.4 123.88 L145.9 123.7 L146.4 123.5 L146.9 123.26 L147.4 123.01 L147.9 122.74 L148.4 122.48 L148.9 122.23 L149.4 122.02 L149.9 121.87 L150.4 121.77 L150.9 121.75 L151.4 121.8 L151.9 121.91 L152.4 122.08 L152.9 122.3 L153.4 122.53 L153.9 122.76 L154.4 122.98 L154.9 123.16 L155.4 123.28 L155.9 123.34 L156.4 123.3 L156.9 123.16 L157.4 122.91 L157.9 122.53 L158.4 122.01 L158.9 121.33 L159.4 120.49 L159.9 119.49 L160.4 118.34 L160.9 117.04 L161.4 115.64 L161.9 114.16 L162.4 112.66 L162.9 111.19 L163.4 109.83 L163.9 108.63 L164.4 107.65 L164.9 106.96 L165.4 106.59 L165.9 106.54 L166.4 106.67 L166.9 106.95 L167.4 107.36 L167.9 107.9 L168.4 108.55 L168.9 109.31 L169.4 110.15 L169.9 111.05 L170.4 111.99 L170.9 112.97 L171.4 113.95 L171.9 114.93 L172.4 115.88 L172.9 116.8 L173.4 117.68 L173.9 118.49 L174.4 119.25 L174.9 119.94 L175.4 120.56 L175.9 121.1 L176.4 121.58 L176.9 121.98 L177.4 122.31 L177.9 122.58 L178.4 122.78 L178.9 122.92 L179.4 123 L179.9 123.04 L180.4 123.03 L180.9 122.98 L181.4 122.9 L181.9 122.8 L182.4 122.68 L182.9 122.55 L183.4 122.42 L183.9 122.31 L184.4 122.21 L184.9 122.13 L185.4 122.08 L185.9 122.06 L186.4 122.07 L186.9 122.11 L187.4 122.16 L187.9 122.23 L188.4 122.32 L188.9 122.43 L189.4 122.54 L189.9 122.66 L190.4 122.79 L190.9 122.92 L191.4 123.04 L191.9 123.16 L192.4 123.27 L192.9 123.37 L193.4 123.46 L193.9 123.53 L194.4 123.59 L194.9 123.63 L195.4 123.66 L195.9 123.68 L196.4 123.69 L196.9 123.69 L197.4 123.69 L197.9 123.69 L198.4 123.68 L198.9 123.68 L199.4 123.68 L199.9 123.69 L200.4 123.7 L200.9 123.73 L201.4 123.76 L201.9 123.79 L202.4 123.84 L202.9 123.88 L203.4 123.93 L203.9 123.98 L204.4 124.04 L204.9 124.09 L205.4 124.13 L205.9 124.18 L206.4 124.22 L206.9 124.25 L207.4 124.28 L207.9 124.31 L208.4 124.33 L208.9 124.34 L209.4 124.36" fill="none" stroke="#ff30ff" stroke-width="2" stroke-linejoin="round" stroke-linecap="round" clip-path="url(#lc0)"/>
<rect x="61.9" y="55.3" width="146.8" height="73" fill="none" stroke="#303030" stroke-width="1.25"/>
<line x1="57.2" y1="58.2" x2="61.9" y2="58.2" stroke="#303030" stroke-width="1.1"/>
<line x1="57.2" y1="91.3" x2="61.9" y2="91.3" stroke="#303030" stroke-width="1.1"/>
<line x1="61.75" y1="128.3" x2="61.75" y2="132.8" stroke="#303030" stroke-width="1.1"/>
<line x1="114.25" y1="128.3" x2="114.25" y2="132.8" stroke="#303030" stroke-width="1.1"/>
<line x1="166.75" y1="128.3" x2="166.75" y2="132.8" stroke="#303030" stroke-width="1.1"/>
<text x="25.7" y="65.1" font-family="Liberation Sans" font-size="17.44" fill="#1a1a1a" text-anchor="start" textLength="26.39" lengthAdjust="spacingAndGlyphs" stroke="#1a1a1a" stroke-width="0.3">1.0</text>
<text x="25.91" y="97.6" font-family="Liberation Sans" font-size="17.44" fill="#1a1a1a" text-anchor="start" textLength="26.23" lengthAdjust="spacingAndGlyphs" stroke="#1a1a1a" stroke-width="0.3">0.5</text>
<text x="185.55" y="73.7" font-family="Liberation Sans" font-size="18.75" fill="#1a1a1a" text-anchor="start" textLength="22.09" lengthAdjust="spacingAndGlyphs" stroke="#1a1a1a" stroke-width="0.3">0°</text>
<line x1="114.2" y1="131.2" x2="114.2" y2="197.4" stroke="#7f7f7f" stroke-width="1.8"/>
<line x1="153.8" y1="194.09" x2="153.8" y2="197.4" stroke="#7f7f7f" stroke-width="1.8"/>
<line x1="167" y1="173.57" x2="167" y2="197.4" stroke="#7f7f7f" stroke-width="1.8"/>
<path d="M60.9 197.4 L61.4 197.4 L61.9 197.4 L62.4 197.4 L62.9 197.4 L63.4 197.4 L63.9 197.4 L64.4 197.4 L64.9 197.4 L65.4 197.4 L65.9 197.4 L66.4 197.4 L66.9 197.4 L67.4 197.4 L67.9 197.4 L68.4 197.4 L68.9 197.4 L69.4 197.4 L69.9 197.4 L70.4 197.4 L70.9 197.4 L71.4 197.4 L71.9 197.4 L72.4 197.4 L72.9 197.4 L73.4 197.4 L73.9 197.4 L74.4 197.4 L74.9 197.4 L75.4 197.4 L75.9 197.4 L76.4 197.4 L76.9 197.4 L77.4 197.4 L77.9 197.4 L78.4 197.4 L78.9 197.4 L79.4 197.4 L79.9 197.4 L80.4 197.4 L80.9 197.4 L81.4 197.4 L81.9 197.4 L82.4 197.4 L82.9 197.4 L83.4 197.4 L83.9 197.4 L84.4 197.4 L84.9 197.4 L85.4 197.4 L85.9 197.4 L86.4 197.4 L86.9 197.4 L87.4 197.4 L87.9 197.4 L88.4 197.4 L88.9 197.4 L89.4 197.4 L89.9 197.4 L90.4 197.4 L90.9 197.4 L91.4 197.4 L91.9 197.4 L92.4 197.4 L92.9 197.4 L93.4 197.4 L93.9 197.4 L94.4 197.4 L94.9 197.4 L95.4 197.4 L95.9 197.4 L96.4 197.4 L96.9 197.39 L97.4 197.39 L97.9 197.38 L98.4 197.37 L98.9 197.36 L99.4 197.33 L99.9 197.29 L100.4 197.23 L100.9 197.14 L101.4 197 L101.9 196.81 L102.4 196.55 L102.9 196.18 L103.4 195.67 L103.9 195 L104.4 194.11 L104.9 192.96 L105.4 191.51 L105.9 189.71 L106.4 187.51 L106.9 184.88 L107.4 181.79 L107.9 178.25 L108.4 174.26 L108.9 169.88 L109.4 165.18 L109.9 160.25 L110.4 155.24 L110.9 150.3 L111.4 145.58 L111.9 141.29 L112.4 137.57 L112.9 134.61 L113.4 132.51 L113.9 131.39 L114.4 131.28 L114.9 132.21 L115.4 134.11 L115.9 136.92 L116.4 140.49 L116.9 144.69 L117.4 149.33 L117.9 154.24 L118.4 159.25 L118.9 164.21 L119.4 168.96 L119.9 173.42 L120.4 177.49 L120.9 181.12 L121.4 184.3 L121.9 187.02 L122.4 189.3 L122.9 191.18 L123.4 192.7 L123.9 193.9 L124.4 194.84 L124.9 195.55 L125.4 196.09 L125.9 196.48 L126.4 196.77 L126.9 196.97 L127.4 197.11 L127.9 197.21 L128.4 197.28 L128.9 197.32 L129.4 197.35 L129.9 197.37 L130.4 197.38 L130.9 197.39 L131.4 197.39 L131.9 197.4 L132.4 197.4 L132.9 197.4 L133.4 197.4 L133.9 197.4 L134.4 197.4 L134.9 197.4 L135.4 197.4 L135.9 197.4 L136.4 197.4 L136.9 197.4 L137.4 197.4 L137.9 197.4 L138.4 197.4 L138.9 197.4 L139.4 197.4 L139.9 197.4 L140.4 197.4 L140.9 197.4 L141.4 197.4 L141.9 197.4 L142.4 197.4 L142.9 197.4 L143.4 197.39 L143.9 197.39 L144.4 197.38 L144.9 197.36 L145.4 197.33 L145.9 197.3 L146.4 197.24 L146.9 197.16 L147.4 197.06 L147.9 196.92 L148.4 196.74 L148.9 196.53 L149.4 196.27 L149.9 195.98 L150.4 195.66 L150.9 195.32 L151.4 194.99 L151.9 194.69 L152.4 194.43 L152.9 194.22 L153.4 194.1 L153.9 194.06 L154.4 194.1 L154.9 194.22 L155.4 194.4 L155.9 194.6 L156.4 194.81 L156.9 194.99 L157.4 195.11 L157.9 195.12 L158.4 195 L158.9 194.72 L159.4 194.25 L159.9 193.57 L160.4 192.67 L160.9 191.53 L161.4 190.16 L161.9 188.58 L162.4 186.81 L162.9 184.91 L163.4 182.93 L163.9 180.94 L164.4 179.03 L164.9 177.29 L165.4 175.81 L165.9 174.65 L166.4 173.9 L166.9 173.58 L167.4 173.65 L167.9 173.98 L168.4 174.56 L168.9 175.36 L169.4 176.36 L169.9 177.53 L170.4 178.84 L170.9 180.25 L171.4 181.71 L171.9 183.2 L172.4 184.68 L172.9 186.12 L173.4 187.49 L173.9 188.77 L174.4 189.94 L174.9 190.99 L175.4 191.92 L175.9 192.72 L176.4 193.39 L176.9 193.94 L177.4 194.38 L177.9 194.71 L178.4 194.95 L178.9 195.12 L179.4 195.23 L179.9 195.28 L180.4 195.31 L180.9 195.31 L181.4 195.3 L181.9 195.29 L182.4 195.29 L182.9 195.3 L183.4 195.33 L183.9 195.36 L184.4 195.41 L184.9 195.46 L185.4 195.52 L185.9 195.59 L186.4 195.65 L186.9 195.72 L187.4 195.78 L187.9 195.83 L188.4 195.87 L188.9 195.89 L189.4 195.9 L189.9 195.9 L190.4 195.88 L190.9 195.85 L191.4 195.81 L191.9 195.77 L192.4 195.72 L192.9 195.68 L193.4 195.64 L193.9 195.62 L194.4 195.62 L194.9 195.63 L195.4 195.66 L195.9 195.69 L196.4 195.73 L196.9 195.78 L197.4 195.84 L197.9 195.9 L198.4 195.97 L198.9 196.05 L199.4 196.13 L199.9 196.21 L200.4 196.29 L200.9 196.38 L201.4 196.46 L201.9 196.54 L202.4 196.63 L202.9 196.7 L203.4 196.78 L203.9 196.85 L204.4 196.91 L204.9 196.98 L205.4 197.03 L205.9 197.08 L206.4 197.13 L206.9 197.17 L207.4 197.2 L207.9 197.24 L208.4 197.26 L208.9 197.29 L209.4 197.31" fill="none" stroke="#d838ff" stroke-width="2" stroke-linejoin="round" stroke-linecap="round" clip-path="url(#lc1)"/>
<rect x="61.9" y="128.3" width="146.8" height="73" fill="none" stroke="#303030" stroke-width="1.25"/>
<line x1="57.2" y1="131.2" x2="61.9" y2="131.2" stroke="#303030" stroke-width="1.1"/>
<line x1="57.2" y1="164.3" x2="61.9" y2="164.3" stroke="#303030" stroke-width="1.1"/>
<line x1="61.75" y1="201.3" x2="61.75" y2="205.8" stroke="#303030" stroke-width="1.1"/>
<line x1="114.25" y1="201.3" x2="114.25" y2="205.8" stroke="#303030" stroke-width="1.1"/>
<line x1="166.75" y1="201.3" x2="166.75" y2="205.8" stroke="#303030" stroke-width="1.1"/>
<text x="25.7" y="138.1" font-family="Liberation Sans" font-size="17.44" fill="#1a1a1a" text-anchor="start" textLength="26.39" lengthAdjust="spacingAndGlyphs" stroke="#1a1a1a" stroke-width="0.3">1.0</text>
<text x="25.91" y="170.6" font-family="Liberation Sans" font-size="17.44" fill="#1a1a1a" text-anchor="start" textLength="26.23" lengthAdjust="spacingAndGlyphs" stroke="#1a1a1a" stroke-width="0.3">0.5</text>
<text x="168.29" y="148.4" font-family="Liberation Sans" font-size="18.75" fill="#1a1a1a" text-anchor="start" textLength="39.27" lengthAdjust="spacingAndGlyphs" stroke="#1a1a1a" stroke-width="0.3">0.4°</text>
<line x1="114.5" y1="204.2" x2="114.5" y2="270.4" stroke="#7f7f7f" stroke-width="1.8"/>
<line x1="155" y1="267.09" x2="155" y2="270.4" stroke="#7f7f7f" stroke-width="1.8"/>
<line x1="170.2" y1="255.17" x2="170.2" y2="270.4" stroke="#7f7f7f" stroke-width="1.8"/>
<path d="M60.9 270.4 L61.4 270.4 L61.9 270.4 L62.4 270.4 L62.9 270.4 L63.4 270.4 L63.9 270.4 L64.4 270.4 L64.9 270.4 L65.4 270.4 L65.9 270.4 L66.4 270.4 L66.9 270.4 L67.4 270.4 L67.9 270.4 L68.4 270.4 L68.9 270.4 L69.4 270.4 L69.9 270.4 L70.4 270.4 L70.9 270.4 L71.4 270.4 L71.9 270.4 L72.4 270.4 L72.9 270.4 L73.4 270.4 L73.9 270.4 L74.4 270.4 L74.9 270.4 L75.4 270.4 L75.9 270.4 L76.4 270.4 L76.9 270.4 L77.4 270.4 L77.9 270.4 L78.4 270.4 L78.9 270.4 L79.4 270.4 L79.9 270.4 L80.4 270.4 L80.9 270.4 L81.4 270.4 L81.9 270.4 L82.4 270.4 L82.9 270.4 L83.4 270.4 L83.9 270.4 L84.4 270.4 L84.9 270.4 L85.4 270.4 L85.9 270.4 L86.4 270.4 L86.9 270.4 L87.4 270.4 L87.9 270.4 L88.4 270.4 L88.9 270.4 L89.4 270.4 L89.9 270.4 L90.4 270.4 L90.9 270.4 L91.4 270.4 L91.9 270.4 L92.4 270.4 L92.9 270.4 L93.4 270.4 L93.9 270.4 L94.4 270.4 L94.9 270.4 L95.4 270.4 L95.9 270.4 L96.4 270.4 L96.9 270.39 L97.4 270.39 L97.9 270.38 L98.4 270.37 L98.9 270.35 L99.4 270.32 L99.9 270.28 L100.4 270.22 L100.9 270.13 L101.4 270 L101.9 269.81 L102.4 269.55 L102.9 269.19 L103.4 268.7 L103.9 268.06 L104.4 267.21 L104.9 266.13 L105.4 264.76 L105.9 263.06 L106.4 261 L106.9 258.52 L107.4 255.62 L107.9 252.28 L108.4 248.51 L108.9 244.35 L109.4 239.86 L109.9 235.12 L110.4 230.25 L110.9 225.38 L111.4 220.66 L111.9 216.26 L112.4 212.34 L112.9 209.05 L113.4 206.54 L113.9 204.91 L114.4 204.22 L114.9 204.51 L115.4 205.78 L115.9 207.95 L116.4 210.94 L116.9 214.62 L117.4 218.85 L117.9 223.46 L118.4 228.29 L118.9 233.18 L119.4 237.99 L119.9 242.59 L120.4 246.89 L120.9 250.82 L121.4 254.34 L121.9 257.41 L122.4 260.06 L122.9 262.28 L123.4 264.12 L123.9 265.62 L124.4 266.81 L124.9 267.75 L125.4 268.47 L125.9 269.01 L126.4 269.42 L126.9 269.72 L127.4 269.93 L127.9 270.08 L128.4 270.19 L128.9 270.26 L129.4 270.31 L129.9 270.34 L130.4 270.36 L130.9 270.38 L131.4 270.39 L131.9 270.39 L132.4 270.4 L132.9 270.4 L133.4 270.4 L133.9 270.4 L134.4 270.4 L134.9 270.4 L135.4 270.4 L135.9 270.4 L136.4 270.4 L136.9 270.4 L137.4 270.4 L137.9 270.4 L138.4 270.4 L138.9 270.4 L139.4 270.4 L139.9 270.4 L140.4 270.4 L140.9 270.4 L141.4 270.4 L141.9 270.4 L142.4 270.4 L142.9 270.4 L143.4 270.4 L143.9 270.4 L144.4 270.39 L144.9 270.39 L145.4 270.38 L145.9 270.37 L146.4 270.35 L146.9 270.31 L147.4 270.27 L147.9 270.2 L148.4 270.11 L148.9 269.98 L149.4 269.82 L149.9 269.62 L150.4 269.38 L150.9 269.1 L151.4 268.79 L151.9 268.46 L152.4 268.13 L152.9 267.81 L153.4 267.53 L153.9 267.3 L154.4 267.15 L154.9 267.09 L155.4 267.12 L155.9 267.23 L156.4 267.42 L156.9 267.67 L157.4 267.97 L157.9 268.28 L158.4 268.59 L158.9 268.87 L159.4 269.1 L159.9 269.27 L160.4 269.37 L160.9 269.38 L161.4 269.29 L161.9 269.1 L162.4 268.79 L162.9 268.35 L163.4 267.78 L163.9 267.07 L164.4 266.22 L164.9 265.23 L165.4 264.13 L165.9 262.93 L166.4 261.67 L166.9 260.4 L167.4 259.15 L167.9 257.98 L168.4 256.96 L168.9 256.13 L169.4 255.54 L169.9 255.21 L170.4 255.16 L170.9 255.31 L171.4 255.64 L171.9 256.12 L172.4 256.74 L172.9 257.46 L173.4 258.26 L173.9 259.1 L174.4 259.95 L174.9 260.77 L175.4 261.53 L175.9 262.2 L176.4 262.77 L176.9 263.23 L177.4 263.56 L177.9 263.78 L178.4 263.89 L178.9 263.92 L179.4 263.9 L179.9 263.85 L180.4 263.8 L180.9 263.78 L181.4 263.81 L181.9 263.92 L182.4 264.09 L182.9 264.3 L183.4 264.56 L183.9 264.85 L184.4 265.19 L184.9 265.56 L185.4 265.95 L185.9 266.35 L186.4 266.76 L186.9 267.17 L187.4 267.56 L187.9 267.93 L188.4 268.28 L188.9 268.6 L189.4 268.88 L189.9 269.13 L190.4 269.34 L190.9 269.52 L191.4 269.66 L191.9 269.77 L192.4 269.84 L192.9 269.89 L193.4 269.92 L193.9 269.92 L194.4 269.9 L194.9 269.87 L195.4 269.82 L195.9 269.77 L196.4 269.7 L196.9 269.64 L197.4 269.58 L197.9 269.52 L198.4 269.48 L198.9 269.44 L199.4 269.42 L199.9 269.41 L200.4 269.41 L200.9 269.42 L201.4 269.43 L201.9 269.46 L202.4 269.48 L202.9 269.52 L203.4 269.55 L203.9 269.6 L204.4 269.64 L204.9 269.69 L205.4 269.74 L205.9 269.79 L206.4 269.84 L206.9 269.89 L207.4 269.94 L207.9 269.98 L208.4 270.03 L208.9 270.07 L209.4 270.11" fill="none" stroke="#a455ff" stroke-width="2" stroke-linejoin="round" stroke-linecap="round" clip-path="url(#lc2)"/>
<rect x="61.9" y="201.3" width="146.8" height="73" fill="none" stroke="#303030" stroke-width="1.25"/>
<line x1="57.2" y1="204.2" x2="61.9" y2="204.2" stroke="#303030" stroke-width="1.1"/>
<line x1="57.2" y1="237.3" x2="61.9" y2="237.3" stroke="#303030" stroke-width="1.1"/>
<line x1="61.75" y1="274.3" x2="61.75" y2="278.8" stroke="#303030" stroke-width="1.1"/>
<line x1="114.25" y1="274.3" x2="114.25" y2="278.8" stroke="#303030" stroke-width="1.1"/>
<line x1="166.75" y1="274.3" x2="166.75" y2="278.8" stroke="#303030" stroke-width="1.1"/>
<text x="25.7" y="211.1" font-family="Liberation Sans" font-size="17.44" fill="#1a1a1a" text-anchor="start" textLength="26.39" lengthAdjust="spacingAndGlyphs" stroke="#1a1a1a" stroke-width="0.3">1.0</text>
<text x="25.91" y="243.6" font-family="Liberation Sans" font-size="17.44" fill="#1a1a1a" text-anchor="start" textLength="26.23" lengthAdjust="spacingAndGlyphs" stroke="#1a1a1a" stroke-width="0.3">0.5</text>
<text x="167.44" y="219.7" font-family="Liberation Sans" font-size="18.75" fill="#1a1a1a" text-anchor="start" textLength="40.16" lengthAdjust="spacingAndGlyphs" stroke="#1a1a1a" stroke-width="0.3">1.3°</text>
<line x1="114.2" y1="277.2" x2="114.2" y2="343.4" stroke="#7f7f7f" stroke-width="1.8"/>
<line x1="175.7" y1="332.15" x2="175.7" y2="343.4" stroke="#7f7f7f" stroke-width="1.8"/>
<line x1="199.3" y1="337.44" x2="199.3" y2="343.4" stroke="#7f7f7f" stroke-width="1.8"/>
<path d="M60.9 343.4 L61.4 343.4 L61.9 343.4 L62.4 343.4 L62.9 343.4 L63.4 343.4 L63.9 343.4 L64.4 343.4 L64.9 343.4 L65.4 343.4 L65.9 343.4 L66.4 343.4 L66.9 343.4 L67.4 343.4 L67.9 343.4 L68.4 343.4 L68.9 343.4 L69.4 343.4 L69.9 343.4 L70.4 343.4 L70.9 343.4 L71.4 343.4 L71.9 343.4 L72.4 343.4 L72.9 343.4 L73.4 343.4 L73.9 343.4 L74.4 343.4 L74.9 343.4 L75.4 343.4 L75.9 343.4 L76.4 343.4 L76.9 343.4 L77.4 343.4 L77.9 343.4 L78.4 343.4 L78.9 343.4 L79.4 343.4 L79.9 343.4 L80.4 343.4 L80.9 343.4 L81.4 343.4 L81.9 343.4 L82.4 343.4 L82.9 343.4 L83.4 343.4 L83.9 343.4 L84.4 343.4 L84.9 343.4 L85.4 343.4 L85.9 343.4 L86.4 343.4 L86.9 343.4 L87.4 343.4 L87.9 343.4 L88.4 343.4 L88.9 343.4 L89.4 343.4 L89.9 343.4 L90.4 343.4 L90.9 343.4 L91.4 343.4 L91.9 343.4 L92.4 343.4 L92.9 343.4 L93.4 343.4 L93.9 343.39 L94.4 343.39 L94.9 343.39 L95.4 343.38 L95.9 343.37 L96.4 343.35 L96.9 343.32 L97.4 343.29 L97.9 343.24 L98.4 343.17 L98.9 343.07 L99.4 342.93 L99.9 342.75 L100.4 342.51 L100.9 342.19 L101.4 341.78 L101.9 341.24 L102.4 340.57 L102.9 339.72 L103.4 338.68 L103.9 337.4 L104.4 335.87 L104.9 334.05 L105.4 331.93 L105.9 329.48 L106.4 326.7 L106.9 323.58 L107.4 320.16 L107.9 316.44 L108.4 312.48 L108.9 308.35 L109.4 304.1 L109.9 299.84 L110.4 295.66 L110.9 291.66 L111.4 287.96 L111.9 284.67 L112.4 281.88 L112.9 279.68 L113.4 278.15 L113.9 277.33 L114.4 277.26 L114.9 277.93 L115.4 279.32 L115.9 281.39 L116.4 284.07 L116.9 287.27 L117.4 290.9 L117.9 294.84 L118.4 298.99 L118.9 303.25 L119.4 307.5 L119.9 311.67 L120.4 315.67 L120.9 319.43 L121.4 322.92 L121.9 326.1 L122.4 328.95 L122.9 331.47 L123.4 333.65 L123.9 335.53 L124.4 337.12 L124.9 338.44 L125.4 339.53 L125.9 340.41 L126.4 341.12 L126.9 341.68 L127.4 342.12 L127.9 342.45 L128.4 342.71 L128.9 342.9 L129.4 343.05 L129.9 343.15 L130.4 343.23 L130.9 343.28 L131.4 343.32 L131.9 343.34 L132.4 343.36 L132.9 343.38 L133.4 343.38 L133.9 343.39 L134.4 343.39 L134.9 343.4 L135.4 343.4 L135.9 343.4 L136.4 343.4 L136.9 343.4 L137.4 343.4 L137.9 343.4 L138.4 343.4 L138.9 343.4 L139.4 343.4 L139.9 343.4 L140.4 343.4 L140.9 343.4 L141.4 343.4 L141.9 343.4 L142.4 343.4 L142.9 343.4 L143.4 343.4 L143.9 343.4 L144.4 343.4 L144.9 343.4 L145.4 343.4 L145.9 343.4 L146.4 343.4 L146.9 343.4 L147.4 343.4 L147.9 343.4 L148.4 343.4 L148.9 343.4 L149.4 343.4 L149.9 343.4 L150.4 343.4 L150.9 343.4 L151.4 343.4 L151.9 343.4 L152.4 343.4 L152.9 343.4 L153.4 343.4 L153.9 343.4 L154.4 343.4 L154.9 343.4 L155.4 343.4 L155.9 343.4 L156.4 343.4 L156.9 343.4 L157.4 343.4 L157.9 343.4 L158.4 343.4 L158.9 343.4 L159.4 343.4 L159.9 343.4 L160.4 343.39 L160.9 343.39 L161.4 343.38 L161.9 343.37 L162.4 343.36 L162.9 343.33 L163.4 343.3 L163.9 343.25 L164.4 343.19 L164.9 343.11 L165.4 342.99 L165.9 342.84 L166.4 342.65 L166.9 342.4 L167.4 342.09 L167.9 341.72 L168.4 341.27 L168.9 340.75 L169.4 340.14 L169.9 339.47 L170.4 338.72 L170.9 337.92 L171.4 337.09 L171.9 336.23 L172.4 335.39 L172.9 334.59 L173.4 333.86 L173.9 333.23 L174.4 332.72 L174.9 332.37 L175.4 332.18 L175.9 332.16 L176.4 332.28 L176.9 332.54 L177.4 332.92 L177.9 333.41 L178.4 334 L178.9 334.66 L179.4 335.37 L179.9 336.12 L180.4 336.88 L180.9 337.63 L181.4 338.35 L181.9 339.04 L182.4 339.68 L182.9 340.27 L183.4 340.79 L183.9 341.26 L184.4 341.66 L184.9 342 L185.4 342.28 L185.9 342.52 L186.4 342.7 L186.9 342.84 L187.4 342.95 L187.9 343.01 L188.4 343.04 L188.9 343.04 L189.4 343.01 L189.9 342.95 L190.4 342.84 L190.9 342.71 L191.4 342.53 L191.9 342.31 L192.4 342.04 L192.9 341.74 L193.4 341.39 L193.9 341 L194.4 340.58 L194.9 340.15 L195.4 339.7 L195.9 339.25 L196.4 338.82 L196.9 338.42 L197.4 338.08 L197.9 337.8 L198.4 337.59 L198.9 337.47 L199.4 337.44 L199.9 337.48 L200.4 337.58 L200.9 337.74 L201.4 337.94 L201.9 338.2 L202.4 338.48 L202.9 338.8 L203.4 339.14 L203.9 339.5 L204.4 339.86 L204.9 340.22 L205.4 340.57 L205.9 340.91 L206.4 341.23 L206.9 341.52 L207.4 341.8 L207.9 342.04 L208.4 342.26 L208.9 342.46 L209.4 342.63" fill="none" stroke="#8070ff" stroke-width="2" stroke-linejoin="round" stroke-linecap="round" clip-path="url(#lc3)"/>
<rect x="61.9" y="274.3" width="146.8" height="73" fill="none" stroke="#303030" stroke-width="1.25"/>
<line x1="57.2" y1="277.2" x2="61.9" y2="277.2" stroke="#303030" stroke-width="1.1"/>
<line x1="57.2" y1="310.3" x2="61.9" y2="310.3" stroke="#303030" stroke-width="1.1"/>
<line x1="61.75" y1="347.3" x2="61.75" y2="351.8" stroke="#303030" stroke-width="1.1"/>
<line x1="114.25" y1="347.3" x2="114.25" y2="351.8" stroke="#303030" stroke-width="1.1"/>
<line x1="166.75" y1="347.3" x2="166.75" y2="351.8" stroke="#303030" stroke-width="1.1"/>
<text x="25.7" y="284.1" font-family="Liberation Sans" font-size="17.44" fill="#1a1a1a" text-anchor="start" textLength="26.39" lengthAdjust="spacingAndGlyphs" stroke="#1a1a1a" stroke-width="0.3">1.0</text>
<text x="25.91" y="316.6" font-family="Liberation Sans" font-size="17.44" fill="#1a1a1a" text-anchor="start" textLength="26.23" lengthAdjust="spacingAndGlyphs" stroke="#1a1a1a" stroke-width="0.3">0.5</text>
<text x="167.73" y="293.4" font-family="Liberation Sans" font-size="18.75" fill="#1a1a1a" text-anchor="start" textLength="39.86" lengthAdjust="spacingAndGlyphs" stroke="#1a1a1a" stroke-width="0.3">2.2°</text>
<line x1="114.2" y1="350.2" x2="114.2" y2="416.4" stroke="#7f7f7f" stroke-width="1.8"/>
<line x1="187.6" y1="409.12" x2="187.6" y2="416.4" stroke="#7f7f7f" stroke-width="1.8"/>
<path d="M60.9 416.4 L61.4 416.4 L61.9 416.4 L62.4 416.4 L62.9 416.4 L63.4 416.4 L63.9 416.4 L64.4 416.4 L64.9 416.4 L65.4 416.4 L65.9 416.4 L66.4 416.4 L66.9 416.4 L67.4 416.4 L67.9 416.4 L68.4 416.4 L68.9 416.4 L69.4 416.4 L69.9 416.4 L70.4 416.4 L70.9 416.4 L71.4 416.4 L71.9 416.4 L72.4 416.4 L72.9 416.4 L73.4 416.4 L73.9 416.4 L74.4 416.4 L74.9 416.4 L75.4 416.4 L75.9 416.4 L76.4 416.4 L76.9 416.4 L77.4 416.4 L77.9 416.4 L78.4 416.4 L78.9 416.4 L79.4 416.4 L79.9 416.4 L80.4 416.4 L80.9 416.4 L81.4 416.4 L81.9 416.4 L82.4 416.4 L82.9 416.4 L83.4 416.4 L83.9 416.4 L84.4 416.4 L84.9 416.4 L85.4 416.4 L85.9 416.4 L86.4 416.4 L86.9 416.4 L87.4 416.4 L87.9 416.4 L88.4 416.4 L88.9 416.4 L89.4 416.4 L89.9 416.4 L90.4 416.4 L90.9 416.4 L91.4 416.4 L91.9 416.4 L92.4 416.4 L92.9 416.4 L93.4 416.4 L93.9 416.4 L94.4 416.4 L94.9 416.39 L95.4 416.39 L95.9 416.38 L96.4 416.37 L96.9 416.36 L97.4 416.34 L97.9 416.31 L98.4 416.26 L98.9 416.2 L99.4 416.1 L99.9 415.98 L100.4 415.8 L100.9 415.56 L101.4 415.24 L101.9 414.82 L102.4 414.27 L102.9 413.57 L103.4 412.68 L103.9 411.58 L104.4 410.22 L104.9 408.58 L105.4 406.62 L105.9 404.32 L106.4 401.66 L106.9 398.64 L107.4 395.26 L107.9 391.55 L108.4 387.55 L108.9 383.31 L109.4 378.92 L109.9 374.46 L110.4 370.05 L110.9 365.81 L111.4 361.85 L111.9 358.31 L112.4 355.29 L112.9 352.91 L113.4 351.24 L113.9 350.35 L114.4 350.27 L114.9 351 L115.4 352.51 L115.9 354.76 L116.4 357.66 L116.9 361.11 L117.4 364.99 L117.9 369.19 L118.4 373.57 L118.9 378.03 L119.4 382.45 L119.9 386.72 L120.4 390.78 L120.9 394.55 L121.4 397.99 L121.9 401.09 L122.4 403.82 L122.9 406.19 L123.4 408.21 L123.9 409.92 L124.4 411.33 L124.9 412.48 L125.4 413.41 L125.9 414.15 L126.4 414.72 L126.9 415.17 L127.4 415.5 L127.9 415.76 L128.4 415.94 L128.9 416.08 L129.4 416.18 L129.9 416.25 L130.4 416.3 L130.9 416.33 L131.4 416.36 L131.9 416.37 L132.4 416.38 L132.9 416.39 L133.4 416.39 L133.9 416.4 L134.4 416.4 L134.9 416.4 L135.4 416.4 L135.9 416.4 L136.4 416.4 L136.9 416.4 L137.4 416.4 L137.9 416.4 L138.4 416.4 L138.9 416.4 L139.4 416.4 L139.9 416.4 L140.4 416.4 L140.9 416.4 L141.4 416.4 L141.9 416.4 L142.4 416.4 L142.9 416.4 L143.4 416.4 L143.9 416.4 L144.4 416.4 L144.9 416.4 L145.4 416.4 L145.9 416.4 L146.4 416.4 L146.9 416.4 L147.4 416.4 L147.9 416.4 L148.4 416.4 L148.9 416.4 L149.4 416.4 L149.9 416.4 L150.4 416.4 L150.9 416.4 L151.4 416.4 L151.9 416.4 L152.4 416.4 L152.9 416.4 L153.4 416.4 L153.9 416.4 L154.4 416.4 L154.9 416.4 L155.4 416.4 L155.9 416.4 L156.4 416.4 L156.9 416.4 L157.4 416.4 L157.9 416.4 L158.4 416.4 L158.9 416.4 L159.4 416.4 L159.9 416.4 L160.4 416.4 L160.9 416.4 L161.4 416.4 L161.9 416.4 L162.4 416.4 L162.9 416.4 L163.4 416.4 L163.9 416.4 L164.4 416.4 L164.9 416.4 L165.4 416.4 L165.9 416.4 L166.4 416.4 L166.9 416.4 L167.4 416.4 L167.9 416.4 L168.4 416.4 L168.9 416.4 L169.4 416.4 L169.9 416.4 L170.4 416.4 L170.9 416.39 L171.4 416.39 L171.9 416.38 L172.4 416.38 L172.9 416.36 L173.4 416.35 L173.9 416.33 L174.4 416.3 L174.9 416.26 L175.4 416.22 L175.9 416.15 L176.4 416.07 L176.9 415.97 L177.4 415.84 L177.9 415.69 L178.4 415.5 L178.9 415.28 L179.4 415.02 L179.9 414.72 L180.4 414.38 L180.9 414 L181.4 413.58 L181.9 413.14 L182.4 412.66 L182.9 412.18 L183.4 411.69 L183.9 411.21 L184.4 410.74 L184.9 410.32 L185.4 409.94 L185.9 409.62 L186.4 409.37 L186.9 409.21 L187.4 409.13 L187.9 409.13 L188.4 409.19 L188.9 409.32 L189.4 409.5 L189.9 409.73 L190.4 410 L190.9 410.32 L191.4 410.66 L191.9 411.04 L192.4 411.42 L192.9 411.82 L193.4 412.22 L193.9 412.62 L194.4 413.01 L194.9 413.38 L195.4 413.74 L195.9 414.07 L196.4 414.38 L196.9 414.66 L197.4 414.91 L197.9 415.14 L198.4 415.34 L198.9 415.52 L199.4 415.67 L199.9 415.8 L200.4 415.91 L200.9 416.01 L201.4 416.09 L201.9 416.15 L202.4 416.21 L202.9 416.25 L203.4 416.28 L203.9 416.31 L204.4 416.33 L204.9 416.35 L205.4 416.36 L205.9 416.37 L206.4 416.38 L206.9 416.38 L207.4 416.39 L207.9 416.39 L208.4 416.39 L208.9 416.4 L209.4 416.4" fill="none" stroke="#6a98ff" stroke-width="2" stroke-linejoin="round" stroke-linecap="round" clip-path="url(#lc4)"/>
<rect x="61.9" y="347.3" width="146.8" height="73" fill="none" stroke="#303030" stroke-width="1.25"/>
<line x1="57.2" y1="350.2" x2="61.9" y2="350.2" stroke="#303030" stroke-width="1.1"/>
<line x1="57.2" y1="383.3" x2="61.9" y2="383.3" stroke="#303030" stroke-width="1.1"/>
<line x1="61.75" y1="420.3" x2="61.75" y2="424.8" stroke="#303030" stroke-width="1.1"/>
<line x1="114.25" y1="420.3" x2="114.25" y2="424.8" stroke="#303030" stroke-width="1.1"/>
<line x1="166.75" y1="420.3" x2="166.75" y2="424.8" stroke="#303030" stroke-width="1.1"/>
<text x="25.7" y="357.1" font-family="Liberation Sans" font-size="17.44" fill="#1a1a1a" text-anchor="start" textLength="26.39" lengthAdjust="spacingAndGlyphs" stroke="#1a1a1a" stroke-width="0.3">1.0</text>
<text x="25.91" y="389.6" font-family="Liberation Sans" font-size="17.44" fill="#1a1a1a" text-anchor="start" textLength="26.23" lengthAdjust="spacingAndGlyphs" stroke="#1a1a1a" stroke-width="0.3">0.5</text>
<text x="167.52" y="369.1" font-family="Liberation Sans" font-size="18.75" fill="#1a1a1a" text-anchor="start" textLength="40.07" lengthAdjust="spacingAndGlyphs" stroke="#1a1a1a" stroke-width="0.3">2.8°</text>
<line x1="114.7" y1="423.2" x2="114.7" y2="489.4" stroke="#7f7f7f" stroke-width="1.8"/>
<line x1="185.1" y1="486.42" x2="185.1" y2="489.4" stroke="#7f7f7f" stroke-width="1.8"/>
<path d="M60.9 489.4 L61.4 489.4 L61.9 489.4 L62.4 489.4 L62.9 489.4 L63.4 489.4 L63.9 489.4 L64.4 489.4 L64.9 489.4 L65.4 489.4 L65.9 489.4 L66.4 489.4 L66.9 489.4 L67.4 489.4 L67.9 489.4 L68.4 489.4 L68.9 489.4 L69.4 489.4 L69.9 489.4 L70.4 489.4 L70.9 489.4 L71.4 489.4 L71.9 489.4 L72.4 489.4 L72.9 489.4 L73.4 489.4 L73.9 489.4 L74.4 489.4 L74.9 489.4 L75.4 489.4 L75.9 489.4 L76.4 489.4 L76.9 489.4 L77.4 489.4 L77.9 489.4 L78.4 489.4 L78.9 489.4 L79.4 489.4 L79.9 489.4 L80.4 489.4 L80.9 489.4 L81.4 489.4 L81.9 489.4 L82.4 489.4 L82.9 489.4 L83.4 489.4 L83.9 489.4 L84.4 489.4 L84.9 489.4 L85.4 489.4 L85.9 489.4 L86.4 489.4 L86.9 489.4 L87.4 489.4 L87.9 489.4 L88.4 489.4 L88.9 489.4 L89.4 489.4 L89.9 489.4 L90.4 489.4 L90.9 489.4 L91.4 489.4 L91.9 489.4 L92.4 489.4 L92.9 489.4 L93.4 489.4 L93.9 489.4 L94.4 489.4 L94.9 489.4 L95.4 489.4 L95.9 489.39 L96.4 489.39 L96.9 489.38 L97.4 489.37 L97.9 489.35 L98.4 489.33 L98.9 489.3 L99.4 489.24 L99.9 489.17 L100.4 489.06 L100.9 488.92 L101.4 488.71 L101.9 488.44 L102.4 488.07 L102.9 487.58 L103.4 486.95 L103.9 486.14 L104.4 485.13 L104.9 483.86 L105.4 482.31 L105.9 480.44 L106.4 478.23 L106.9 475.65 L107.4 472.68 L107.9 469.35 L108.4 465.65 L108.9 461.63 L109.4 457.35 L109.9 452.89 L110.4 448.34 L110.9 443.81 L111.4 439.43 L111.9 435.33 L112.4 431.65 L112.9 428.51 L113.4 426.03 L113.9 424.29 L114.4 423.35 L114.9 423.27 L115.4 424.03 L115.9 425.62 L116.4 427.96 L116.9 430.98 L117.4 434.56 L117.9 438.58 L118.4 442.92 L118.9 447.42 L119.4 451.98 L119.9 456.47 L120.4 460.8 L120.9 464.87 L121.4 468.63 L121.9 472.05 L122.4 475.08 L122.9 477.74 L123.4 480.03 L123.9 481.96 L124.4 483.57 L124.9 484.89 L125.4 485.96 L125.9 486.81 L126.4 487.47 L126.9 487.98 L127.4 488.37 L127.9 488.66 L128.4 488.88 L128.9 489.04 L129.4 489.15 L129.9 489.23 L130.4 489.29 L130.9 489.32 L131.4 489.35 L131.9 489.37 L132.4 489.38 L132.9 489.39 L133.4 489.39 L133.9 489.4 L134.4 489.4 L134.9 489.4 L135.4 489.4 L135.9 489.4 L136.4 489.4 L136.9 489.4 L137.4 489.4 L137.9 489.4 L138.4 489.4 L138.9 489.4 L139.4 489.4 L139.9 489.4 L140.4 489.4 L140.9 489.4 L141.4 489.4 L141.9 489.4 L142.4 489.4 L142.9 489.4 L143.4 489.4 L143.9 489.4 L144.4 489.4 L144.9 489.4 L145.4 489.4 L145.9 489.4 L146.4 489.4 L146.9 489.4 L147.4 489.4 L147.9 489.4 L148.4 489.4 L148.9 489.4 L149.4 489.4 L149.9 489.4 L150.4 489.4 L150.9 489.4 L151.4 489.4 L151.9 489.4 L152.4 489.4 L152.9 489.4 L153.4 489.4 L153.9 489.4 L154.4 489.4 L154.9 489.4 L155.4 489.4 L155.9 489.4 L156.4 489.4 L156.9 489.4 L157.4 489.4 L157.9 489.4 L158.4 489.4 L158.9 489.4 L159.4 489.4 L159.9 489.4 L160.4 489.4 L160.9 489.4 L161.4 489.4 L161.9 489.4 L162.4 489.4 L162.9 489.4 L163.4 489.4 L163.9 489.4 L164.4 489.4 L164.9 489.4 L165.4 489.4 L165.9 489.4 L166.4 489.4 L166.9 489.4 L167.4 489.4 L167.9 489.4 L168.4 489.4 L168.9 489.4 L169.4 489.39 L169.9 489.39 L170.4 489.39 L170.9 489.38 L171.4 489.37 L171.9 489.36 L172.4 489.34 L172.9 489.32 L173.4 489.3 L173.9 489.27 L174.4 489.22 L174.9 489.17 L175.4 489.11 L175.9 489.03 L176.4 488.94 L176.9 488.83 L177.4 488.71 L177.9 488.57 L178.4 488.42 L178.9 488.25 L179.4 488.06 L179.9 487.87 L180.4 487.67 L180.9 487.47 L181.4 487.28 L181.9 487.09 L182.4 486.91 L182.9 486.76 L183.4 486.63 L183.9 486.53 L184.4 486.46 L184.9 486.42 L185.4 486.43 L185.9 486.46 L186.4 486.52 L186.9 486.61 L187.4 486.72 L187.9 486.85 L188.4 487 L188.9 487.17 L189.4 487.34 L189.9 487.52 L190.4 487.7 L190.9 487.88 L191.4 488.05 L191.9 488.22 L192.4 488.37 L192.9 488.52 L193.4 488.65 L193.9 488.77 L194.4 488.87 L194.9 488.96 L195.4 489.04 L195.9 489.11 L196.4 489.17 L196.9 489.22 L197.4 489.26 L197.9 489.29 L198.4 489.31 L198.9 489.33 L199.4 489.35 L199.9 489.36 L200.4 489.37 L200.9 489.38 L201.4 489.39 L201.9 489.39 L202.4 489.39 L202.9 489.39 L203.4 489.4 L203.9 489.4 L204.4 489.4 L204.9 489.4 L205.4 489.4 L205.9 489.4 L206.4 489.4 L206.9 489.4 L207.4 489.4 L207.9 489.4 L208.4 489.4 L208.9 489.4 L209.4 489.4" fill="none" stroke="#5fb9fa" stroke-width="2" stroke-linejoin="round" stroke-linecap="round" clip-path="url(#lc5)"/>
<rect x="61.9" y="420.3" width="146.8" height="73" fill="none" stroke="#303030" stroke-width="1.25"/>
<line x1="57.2" y1="423.2" x2="61.9" y2="423.2" stroke="#303030" stroke-width="1.1"/>
<line x1="57.2" y1="456.3" x2="61.9" y2="456.3" stroke="#303030" stroke-width="1.1"/>
<line x1="61.75" y1="493.3" x2="61.75" y2="497.8" stroke="#303030" stroke-width="1.1"/>
<line x1="114.25" y1="493.3" x2="114.25" y2="497.8" stroke="#303030" stroke-width="1.1"/>
<line x1="166.75" y1="493.3" x2="166.75" y2="497.8" stroke="#303030" stroke-width="1.1"/>
<text x="25.7" y="430.1" font-family="Liberation Sans" font-size="17.44" fill="#1a1a1a" text-anchor="start" textLength="26.39" lengthAdjust="spacingAndGlyphs" stroke="#1a1a1a" stroke-width="0.3">1.0</text>
<text x="25.91" y="462.6" font-family="Liberation Sans" font-size="17.44" fill="#1a1a1a" text-anchor="start" textLength="26.23" lengthAdjust="spacingAndGlyphs" stroke="#1a1a1a" stroke-width="0.3">0.5</text>
<text x="168.35" y="439.2" font-family="Liberation Sans" font-size="18.75" fill="#1a1a1a" text-anchor="start" textLength="39.22" lengthAdjust="spacingAndGlyphs" stroke="#1a1a1a" stroke-width="0.3">4.7°</text>
<line x1="114.2" y1="496.2" x2="114.2" y2="562.4" stroke="#7f7f7f" stroke-width="1.8"/>
<line x1="186.9" y1="556.44" x2="186.9" y2="562.4" stroke="#7f7f7f" stroke-width="1.8"/>
<path d="M60.9 562.4 L61.4 562.4 L61.9 562.4 L62.4 562.4 L62.9 562.4 L63.4 562.4 L63.9 562.4 L64.4 562.4 L64.9 562.4 L65.4 562.4 L65.9 562.4 L66.4 562.4 L66.9 562.4 L67.4 562.4 L67.9 562.4 L68.4 562.4 L68.9 562.4 L69.4 562.4 L69.9 562.4 L70.4 562.4 L70.9 562.4 L71.4 562.4 L71.9 562.4 L72.4 562.4 L72.9 562.4 L73.4 562.4 L73.9 562.4 L74.4 562.4 L74.9 562.4 L75.4 562.4 L75.9 562.4 L76.4 562.4 L76.9 562.4 L77.4 562.4 L77.9 562.4 L78.4 562.4 L78.9 562.4 L79.4 562.4 L79.9 562.4 L80.4 562.4 L80.9 562.4 L81.4 562.4 L81.9 562.4 L82.4 562.4 L82.9 562.4 L83.4 562.4 L83.9 562.4 L84.4 562.4 L84.9 562.4 L85.4 562.4 L85.9 562.4 L86.4 562.4 L86.9 562.4 L87.4 562.4 L87.9 562.4 L88.4 562.4 L88.9 562.4 L89.4 562.4 L89.9 562.4 L90.4 562.4 L90.9 562.4 L91.4 562.4 L91.9 562.4 L92.4 562.4 L92.9 562.4 L93.4 562.4 L93.9 562.4 L94.4 562.4 L94.9 562.4 L95.4 562.39 L95.9 562.39 L96.4 562.38 L96.9 562.37 L97.4 562.35 L97.9 562.33 L98.4 562.3 L98.9 562.24 L99.4 562.17 L99.9 562.06 L100.4 561.92 L100.9 561.71 L101.4 561.44 L101.9 561.07 L102.4 560.58 L102.9 559.95 L103.4 559.14 L103.9 558.13 L104.4 556.86 L104.9 555.31 L105.4 553.44 L105.9 551.23 L106.4 548.65 L106.9 545.68 L107.4 542.35 L107.9 538.65 L108.4 534.63 L108.9 530.35 L109.4 525.89 L109.9 521.34 L110.4 516.81 L110.9 512.43 L111.4 508.33 L111.9 504.65 L112.4 501.51 L112.9 499.03 L113.4 497.29 L113.9 496.35 L114.4 496.27 L114.9 497.03 L115.4 498.62 L115.9 500.96 L116.4 503.98 L116.9 507.56 L117.4 511.58 L117.9 515.92 L118.4 520.42 L118.9 524.98 L119.4 529.47 L119.9 533.8 L120.4 537.87 L120.9 541.63 L121.4 545.05 L121.9 548.08 L122.4 550.74 L122.9 553.03 L123.4 554.96 L123.9 556.57 L124.4 557.89 L124.9 558.96 L125.4 559.81 L125.9 560.47 L126.4 560.98 L126.9 561.37 L127.4 561.66 L127.9 561.88 L128.4 562.04 L128.9 562.15 L129.4 562.23 L129.9 562.29 L130.4 562.32 L130.9 562.35 L131.4 562.37 L131.9 562.38 L132.4 562.39 L132.9 562.39 L133.4 562.4 L133.9 562.4 L134.4 562.4 L134.9 562.4 L135.4 562.4 L135.9 562.4 L136.4 562.4 L136.9 562.4 L137.4 562.4 L137.9 562.4 L138.4 562.4 L138.9 562.4 L139.4 562.4 L139.9 562.4 L140.4 562.4 L140.9 562.4 L141.4 562.4 L141.9 562.4 L142.4 562.4 L142.9 562.4 L143.4 562.4 L143.9 562.4 L144.4 562.4 L144.9 562.4 L145.4 562.4 L145.9 562.4 L146.4 562.4 L146.9 562.4 L147.4 562.4 L147.9 562.4 L148.4 562.4 L148.9 562.4 L149.4 562.4 L149.9 562.4 L150.4 562.4 L150.9 562.4 L151.4 562.4 L151.9 562.4 L152.4 562.4 L152.9 562.4 L153.4 562.4 L153.9 562.4 L154.4 562.4 L154.9 562.4 L155.4 562.4 L155.9 562.4 L156.4 562.4 L156.9 562.4 L157.4 562.4 L157.9 562.4 L158.4 562.4 L158.9 562.4 L159.4 562.4 L159.9 562.4 L160.4 562.4 L160.9 562.4 L161.4 562.4 L161.9 562.4 L162.4 562.4 L162.9 562.4 L163.4 562.4 L163.9 562.4 L164.4 562.4 L164.9 562.4 L165.4 562.4 L165.9 562.4 L166.4 562.4 L166.9 562.4 L167.4 562.4 L167.9 562.4 L168.4 562.4 L168.9 562.4 L169.4 562.4 L169.9 562.4 L170.4 562.39 L170.9 562.39 L171.4 562.38 L171.9 562.38 L172.4 562.37 L172.9 562.35 L173.4 562.33 L173.9 562.31 L174.4 562.27 L174.9 562.23 L175.4 562.17 L175.9 562.1 L176.4 562.01 L176.9 561.9 L177.4 561.76 L177.9 561.59 L178.4 561.4 L178.9 561.17 L179.4 560.91 L179.9 560.62 L180.4 560.3 L180.9 559.95 L181.4 559.58 L181.9 559.19 L182.4 558.79 L182.9 558.39 L183.4 558 L183.9 557.63 L184.4 557.29 L184.9 557 L185.4 556.76 L185.9 556.59 L186.4 556.48 L186.9 556.44 L187.4 556.47 L187.9 556.56 L188.4 556.7 L188.9 556.9 L189.4 557.14 L189.9 557.42 L190.4 557.74 L190.9 558.07 L191.4 558.43 L191.9 558.79 L192.4 559.15 L192.9 559.5 L193.4 559.84 L193.9 560.16 L194.4 560.47 L194.9 560.74 L195.4 561 L195.9 561.22 L196.4 561.42 L196.9 561.59 L197.4 561.74 L197.9 561.87 L198.4 561.98 L198.9 562.07 L199.4 562.14 L199.9 562.2 L200.4 562.24 L200.9 562.28 L201.4 562.31 L201.9 562.33 L202.4 562.35 L202.9 562.36 L203.4 562.37 L203.9 562.38 L204.4 562.39 L204.9 562.39 L205.4 562.39 L205.9 562.4 L206.4 562.4 L206.9 562.4 L207.4 562.4 L207.9 562.4 L208.4 562.4 L208.9 562.4 L209.4 562.4" fill="none" stroke="#60ecfa" stroke-width="2" stroke-linejoin="round" stroke-linecap="round" clip-path="url(#lc6)"/>
<rect x="61.9" y="493.3" width="146.8" height="73" fill="none" stroke="#303030" stroke-width="1.25"/>
<line x1="57.2" y1="496.2" x2="61.9" y2="496.2" stroke="#303030" stroke-width="1.1"/>
<line x1="57.2" y1="529.3" x2="61.9" y2="529.3" stroke="#303030" stroke-width="1.1"/>
<line x1="61.75" y1="566.3" x2="61.75" y2="570.8" stroke="#303030" stroke-width="1.1"/>
<line x1="114.25" y1="566.3" x2="114.25" y2="570.8" stroke="#303030" stroke-width="1.1"/>
<line x1="166.75" y1="566.3" x2="166.75" y2="570.8" stroke="#303030" stroke-width="1.1"/>
<text x="25.7" y="503.1" font-family="Liberation Sans" font-size="17.44" fill="#1a1a1a" text-anchor="start" textLength="26.39" lengthAdjust="spacingAndGlyphs" stroke="#1a1a1a" stroke-width="0.3">1.0</text>
<text x="25.91" y="535.6" font-family="Liberation Sans" font-size="17.44" fill="#1a1a1a" text-anchor="start" textLength="26.23" lengthAdjust="spacingAndGlyphs" stroke="#1a1a1a" stroke-width="0.3">0.5</text>
<text x="167.76" y="513.4" font-family="Liberation Sans" font-size="18.75" fill="#1a1a1a" text-anchor="start" textLength="39.83" lengthAdjust="spacingAndGlyphs" stroke="#1a1a1a" stroke-width="0.3">5.7°</text>
<line x1="111.7" y1="569.2" x2="111.7" y2="635.4" stroke="#7f7f7f" stroke-width="1.8"/>
<line x1="179.4" y1="629.44" x2="179.4" y2="635.4" stroke="#7f7f7f" stroke-width="1.8"/>
<path d="M60.9 635.4 L61.4 635.4 L61.9 635.4 L62.4 635.4 L62.9 635.4 L63.4 635.4 L63.9 635.4 L64.4 635.4 L64.9 635.4 L65.4 635.4 L65.9 635.4 L66.4 635.4 L66.9 635.4 L67.4 635.4 L67.9 635.4 L68.4 635.4 L68.9 635.4 L69.4 635.4 L69.9 635.4 L70.4 635.4 L70.9 635.4 L71.4 635.4 L71.9 635.4 L72.4 635.4 L72.9 635.4 L73.4 635.4 L73.9 635.4 L74.4 635.4 L74.9 635.4 L75.4 635.4 L75.9 635.4 L76.4 635.4 L76.9 635.4 L77.4 635.4 L77.9 635.4 L78.4 635.4 L78.9 635.4 L79.4 635.4 L79.9 635.4 L80.4 635.4 L80.9 635.4 L81.4 635.4 L81.9 635.4 L82.4 635.4 L82.9 635.4 L83.4 635.4 L83.9 635.4 L84.4 635.4 L84.9 635.4 L85.4 635.4 L85.9 635.4 L86.4 635.4 L86.9 635.4 L87.4 635.4 L87.9 635.4 L88.4 635.4 L88.9 635.4 L89.4 635.4 L89.9 635.4 L90.4 635.4 L90.9 635.4 L91.4 635.4 L91.9 635.4 L92.4 635.4 L92.9 635.4 L93.4 635.4 L93.9 635.4 L94.4 635.4 L94.9 635.39 L95.4 635.39 L95.9 635.38 L96.4 635.38 L96.9 635.36 L97.4 635.34 L97.9 635.32 L98.4 635.28 L98.9 635.22 L99.4 635.14 L99.9 635.03 L100.4 634.87 L100.9 634.66 L101.4 634.39 L101.9 634.02 L102.4 633.55 L102.9 632.93 L103.4 632.16 L103.9 631.19 L104.4 630 L104.9 628.56 L105.4 626.82 L105.9 624.78 L106.4 622.4 L106.9 619.68 L107.4 616.61 L107.9 613.2 L108.4 609.48 L108.9 605.5 L109.4 601.31 L109.9 596.99 L110.4 592.63 L110.9 588.34 L111.4 584.22 L111.9 580.39 L112.4 576.98 L112.9 574.08 L113.4 571.79 L113.9 570.19 L114.4 569.34 L114.9 569.26 L115.4 569.96 L115.9 571.41 L116.4 573.57 L116.9 576.35 L117.4 579.68 L117.9 583.43 L118.4 587.5 L118.9 591.77 L119.4 596.12 L119.9 600.46 L120.4 604.68 L120.9 608.71 L121.4 612.48 L121.9 615.95 L122.4 619.09 L122.9 621.88 L123.4 624.33 L123.9 626.44 L124.4 628.23 L124.9 629.74 L125.4 630.97 L125.9 631.98 L126.4 632.79 L126.9 633.43 L127.4 633.94 L127.9 634.32 L128.4 634.62 L128.9 634.84 L129.4 635 L129.9 635.12 L130.4 635.2 L130.9 635.27 L131.4 635.31 L131.9 635.34 L132.4 635.36 L132.9 635.37 L133.4 635.38 L133.9 635.39 L134.4 635.39 L134.9 635.4 L135.4 635.4 L135.9 635.4 L136.4 635.4 L136.9 635.4 L137.4 635.4 L137.9 635.4 L138.4 635.4 L138.9 635.4 L139.4 635.4 L139.9 635.4 L140.4 635.4 L140.9 635.4 L141.4 635.4 L141.9 635.4 L142.4 635.4 L142.9 635.4 L143.4 635.4 L143.9 635.4 L144.4 635.4 L144.9 635.4 L145.4 635.4 L145.9 635.4 L146.4 635.4 L146.9 635.4 L147.4 635.4 L147.9 635.4 L148.4 635.4 L148.9 635.4 L149.4 635.4 L149.9 635.4 L150.4 635.4 L150.9 635.4 L151.4 635.4 L151.9 635.4 L152.4 635.4 L152.9 635.4 L153.4 635.4 L153.9 635.4 L154.4 635.4 L154.9 635.4 L155.4 635.4 L155.9 635.4 L156.4 635.4 L156.9 635.4 L157.4 635.4 L157.9 635.4 L158.4 635.4 L158.9 635.4 L159.4 635.4 L159.9 635.4 L160.4 635.4 L160.9 635.4 L161.4 635.4 L161.9 635.4 L162.4 635.4 L162.9 635.39 L163.4 635.39 L163.9 635.38 L164.4 635.38 L164.9 635.37 L165.4 635.35 L165.9 635.33 L166.4 635.31 L166.9 635.27 L167.4 635.23 L167.9 635.17 L168.4 635.1 L168.9 635.01 L169.4 634.9 L169.9 634.76 L170.4 634.59 L170.9 634.4 L171.4 634.17 L171.9 633.91 L172.4 633.62 L172.9 633.3 L173.4 632.95 L173.9 632.58 L174.4 632.19 L174.9 631.79 L175.4 631.39 L175.9 631 L176.4 630.63 L176.9 630.29 L177.4 630 L177.9 629.76 L178.4 629.59 L178.9 629.48 L179.4 629.44 L179.9 629.48 L180.4 629.59 L180.9 629.76 L181.4 630 L181.9 630.29 L182.4 630.63 L182.9 631 L183.4 631.39 L183.9 631.79 L184.4 632.19 L184.9 632.58 L185.4 632.95 L185.9 633.3 L186.4 633.62 L186.9 633.91 L187.4 634.17 L187.9 634.4 L188.4 634.59 L188.9 634.76 L189.4 634.89 L189.9 635 L190.4 635.09 L190.9 635.16 L191.4 635.22 L191.9 635.26 L192.4 635.28 L192.9 635.3 L193.4 635.31 L193.9 635.31 L194.4 635.3 L194.9 635.28 L195.4 635.25 L195.9 635.22 L196.4 635.17 L196.9 635.11 L197.4 635.04 L197.9 634.95 L198.4 634.84 L198.9 634.7 L199.4 634.54 L199.9 634.35 L200.4 634.13 L200.9 633.87 L201.4 633.58 L201.9 633.23 L202.4 632.85 L202.9 632.41 L203.4 631.92 L203.9 631.39 L204.4 630.8 L204.9 630.16 L205.4 629.48 L205.9 628.75 L206.4 627.98 L206.9 627.18 L207.4 626.36 L207.9 625.53 L208.4 624.69 L208.9 623.87 L209.4 623.06" fill="none" stroke="#6cf8f8" stroke-width="2" stroke-linejoin="round" stroke-linecap="round" clip-path="url(#lc7)"/>
<rect x="61.9" y="566.3" width="146.8" height="73" fill="none" stroke="#303030" stroke-width="1.25"/>
<line x1="57.2" y1="569.2" x2="61.9" y2="569.2" stroke="#303030" stroke-width="1.1"/>
<line x1="57.2" y1="602.3" x2="61.9" y2="602.3" stroke="#303030" stroke-width="1.1"/>
<line x1="61.75" y1="639.3" x2="61.75" y2="643.8" stroke="#303030" stroke-width="1.1"/>
<line x1="114.25" y1="639.3" x2="114.25" y2="643.8" stroke="#303030" stroke-width="1.1"/>
<line x1="166.75" y1="639.3" x2="166.75" y2="643.8" stroke="#303030" stroke-width="1.1"/>
<text x="25.7" y="576.1" font-family="Liberation Sans" font-size="17.44" fill="#1a1a1a" text-anchor="start" textLength="26.39" lengthAdjust="spacingAndGlyphs" stroke="#1a1a1a" stroke-width="0.3">1.0</text>
<text x="25.91" y="608.6" font-family="Liberation Sans" font-size="17.44" fill="#1a1a1a" text-anchor="start" textLength="26.23" lengthAdjust="spacingAndGlyphs" stroke="#1a1a1a" stroke-width="0.3">0.5</text>
<text x="174.59" y="584.2" font-family="Liberation Sans" font-size="18.75" fill="#1a1a1a" text-anchor="start" textLength="32.97" lengthAdjust="spacingAndGlyphs" stroke="#1a1a1a" stroke-width="0.3">16°</text>
<path d="M463 122.47 L463.47 122.67 L464.07 122.66 L464.78 122.86 L465.58 122.96 L466.44 122.78 L467.34 122.86 L468.27 123.36 L469.21 123.16 L470.12 123.22 L471 123.65 L471.87 123.41 L472.77 123.6 L473.7 123.41 L474.64 123.47 L475.59 123.21 L476.52 123.43 L477.44 123.53 L478.34 123.35 L479.19 123.48 L480 123.49 L480.77 123.26 L481.51 123.71 L482.23 123.76 L482.92 123.77 L483.59 123.78 L484.24 124.35 L484.86 124.28 L485.47 124.51 L486.04 124.66 L486.6 124.61 L487.12 124.7 L487.61 124.39 L488.06 124.53 L488.48 124.27 L488.89 124.41 L489.28 124.25 L489.68 123.72 L490.07 123.58 L490.48 123.44 L490.9 123.63 L491.34 123.17 L491.79 123.05 L492.25 122.66 L492.71 122.52 L493.16 122.2 L493.61 121.9 L494.06 121.73 L494.49 121.42 L494.9 121.25 L495.3 120.79 L495.68 120.55 L496.05 120.14 L496.41 119.82 L496.75 119.25 L497.09 118.58 L497.41 118.48 L497.73 118.07 L498.03 117.55 L498.32 116.87 L498.6 116.41 L498.87 115.6 L499.12 115.36 L499.36 114.65 L499.59 113.92 L499.81 113.19 L500.02 112.93 L500.22 112.31 L500.42 111.12 L500.61 110.69 L500.8 109.66 L500.99 108.61 L501.17 107.69 L501.34 106.88 L501.51 105.84 L501.67 104.3 L501.82 103.43 L501.98 101.99 L502.12 101.16 L502.26 99.83 L502.4 98.99 L502.53 97.95 L502.65 96.64 L502.75 95.82 L502.86 94.41 L502.96 93.23 L503.06 92.41 L503.16 91.02 L503.26 89.98 L503.38 88.94 L503.5 87.86 L503.63 86.38 L503.78 84.99 L503.93 84.02 L504.08 82.33 L504.24 81.24 L504.4 79.81 L504.55 78.19 L504.71 76.95 L504.86 75.79 L505 74.77 L505.14 73.74 L505.27 72.73 L505.4 71.81 L505.53 71.07 L505.66 70.03 L505.79 69.25 L505.92 68.77 L506.04 68.02 L506.17 67.7 L506.3 67.84 L506.43 67.59 L506.56 67.74 L506.69 67.75 L506.82 68.36 L506.94 68.96 L507.07 69.28 L507.2 70.26 L507.33 71 L507.47 71.49 L507.6 72.56 L507.73 73.33 L507.87 74.38 L508 75.25 L508.14 76.52 L508.28 77.68 L508.41 78.5 L508.55 79.71 L508.7 81.23 L508.85 82.56 L509 83.38 L509.16 84.65 L509.32 85.93 L509.49 87.04 L509.66 88.31 L509.84 89.54 L510.01 90.82 L510.19 92.15 L510.36 93.19 L510.53 94.36 L510.7 95.64 L510.86 96.28 L511.02 97.54 L511.17 98.57 L511.32 99.27 L511.47 100.11 L511.62 101.25 L511.78 101.8 L511.94 102.58 L512.12 103.5 L512.3 104.4 L512.49 104.86 L512.68 105.7 L512.88 106.42 L513.08 107.36 L513.29 107.83 L513.51 108.68 L513.74 108.95 L513.98 109.62 L514.23 110.34 L514.5 110.99 L514.78 111.29 L515.08 111.66 L515.39 112.07 L515.72 112.72 L516.05 112.96 L516.39 113.65 L516.74 114.02 L517.09 114.01 L517.44 114.34 L517.8 114.85 L518.16 114.97 L518.54 115.18 L518.92 115.03 L519.31 114.97 L519.7 115.08 L520.09 115.34 L520.48 115.1 L520.86 115.16 L521.24 115.26 L521.6 115.36 L521.95 115.51 L522.29 115.98 L522.63 115.84 L522.96 116.03 L523.28 116.76 L523.6 116.97 L523.93 117.23 L524.25 117.1 L524.57 117.44 L524.9 117.41 L525.23 116.97 L525.56 117.09 L525.89 116.94 L526.22 116.61 L526.55 116.25 L526.88 115.79 L527.21 115.44 L527.54 114.95 L527.87 114.4 L528.2 114.14 L528.53 113.4 L528.85 112.97 L529.17 111.82 L529.5 111.43 L529.82 110.48 L530.14 109.74 L530.47 108.88 L530.81 108.09 L531.15 107.19 L531.5 106.26 L531.86 106.01 L532.24 105.11 L532.62 104.57 L533.01 104.17 L533.4 103.56 L533.79 103.03 L534.18 102.89 L534.56 102.42 L534.94 102.09 L535.3 101.98 L535.65 102.35 L535.99 102.36 L536.33 102.83 L536.66 103.03 L536.99 103.44 L537.31 104.15 L537.63 104.87 L537.95 105.15 L538.28 106.06 L538.6 106.71 L538.93 107.27 L539.25 107.97 L539.58 108.31 L539.9 109.41 L540.23 110.32 L540.55 110.7 L540.87 111.56 L541.18 112.25 L541.49 113 L541.8 113.46 L542.1 113.94 L542.4 114.52 L542.7 114.52 L542.99 114.9 L543.28 115.23 L543.57 115.45 L543.85 115.58 L544.14 116.1 L544.42 116.01 L544.7 115.49 L544.98 115.46 L545.25 115.02 L545.51 114.57 L545.78 114.07 L546.04 113.61 L546.3 112.91 L546.57 112.07 L546.84 111.21 L547.11 110.46 L547.4 109.51 L547.69 108.8 L547.97 107.84 L548.26 106.55 L548.55 105.22 L548.84 104.05 L549.15 102.91 L549.46 101.82 L549.79 100.74 L550.14 99.44 L550.5 98.65 L550.89 97.6 L551.31 96.51 L551.75 95.5 L552.2 94.6 L552.66 93.8 L553.13 92.83 L553.59 92.24 L554.04 91.52 L554.48 90.95 L554.9 90.82 L555.3 90.8 L555.68 90.54 L556.06 90.91 L556.43 91.23 L556.79 91.88 L557.15 92.42 L557.5 92.73 L557.86 93.63 L558.23 94.25 L558.6 94.68 L558.97 95.54 L559.34 96.25 L559.7 97.56 L560.06 98.51 L560.42 99.7 L560.8 100.75 L561.18 101.79 L561.57 102.9 L561.98 103.86 L562.4 104.6 L562.84 105.78 L563.29 106.41 L563.75 107.39 L564.21 108.6 L564.69 109.12 L565.19 110.02 L565.69 110.87 L566.21 112.09 L566.75 112.55 L567.3 113.26 L567.87 114.45 L568.47 114.86 L569.09 115.99 L569.72 116.65 L570.37 117.46 L571.02 118.21 L571.67 118.68 L572.32 119.39 L572.97 119.57 L573.6 120.43 L574.22 120.74 L574.85 121.22 L575.47 121.24 L576.09 121.83 L576.71 122.17 L577.32 121.94 L577.94 122.25 L578.56 122.54 L579.18 122.82 L579.8 122.67 L580.43 122.78 L581.06 122.93 L581.7 123.22 L582.34 123.37 L582.97 123.25 L583.61 123.27 L584.23 123.29 L584.84 123.25 L585.43 123.24 L586 122.99 L586.54 123.08 L587.06 123.15 L587.55 122.67 L588.03 122.61 L588.5 122.06 L588.97 122.06 L589.45 121.82 L589.94 121.5 L590.46 121.16 L591 120.89 L591.57 120.71 L592.16 120.56 L592.77 119.88 L593.39 119.54 L594.02 119.57 L594.66 119.37 L595.3 118.91 L595.94 118.65 L596.57 118.62 L597.2 118.24 L597.82 118.24 L598.44 118.23 L599.05 118.49 L599.67 118.46 L600.28 118.55 L600.9 118.93 L601.52 119.22 L602.14 119.05 L602.77 119.39 L603.4 119.36 L604.07 119.67 L604.78 119.64 L605.53 119.59 L606.29 119.67 L607.04 119.67 L607.75 120 L608.42 120.04 L609.01 120.02 L609.51 120.18 L609.9 120.21" fill="none" stroke="#ff20ff" stroke-width="2.2" stroke-linejoin="round" stroke-linecap="round" clip-path="url(#rc0)"/>
<rect x="462.8" y="53.8" width="147.1" height="73" fill="none" stroke="#303030" stroke-width="1.25"/>
<line x1="458" y1="67.4" x2="462.8" y2="67.4" stroke="#303030" stroke-width="1.1"/>
<line x1="458" y1="95.3" x2="462.8" y2="95.3" stroke="#303030" stroke-width="1.1"/>
<line x1="462.9" y1="126.8" x2="462.9" y2="131.3" stroke="#303030" stroke-width="1.1"/>
<line x1="515.1" y1="126.8" x2="515.1" y2="131.3" stroke="#303030" stroke-width="1.1"/>
<line x1="567.3" y1="126.8" x2="567.3" y2="131.3" stroke="#303030" stroke-width="1.1"/>
<text x="420.04" y="74.3" font-family="Liberation Sans" font-size="17.44" fill="#1a1a1a" text-anchor="start" textLength="31.53" lengthAdjust="spacingAndGlyphs" stroke="#1a1a1a" stroke-width="0.3">-1.0</text>
<text x="420.04" y="102.3" font-family="Liberation Sans" font-size="17.44" fill="#1a1a1a" text-anchor="start" textLength="31.58" lengthAdjust="spacingAndGlyphs" stroke="#1a1a1a" stroke-width="0.3">-0.5</text>
<text x="564.31" y="69.7" font-family="Liberation Sans" font-size="16.13" fill="#1a1a1a" text-anchor="start" textLength="44.48" lengthAdjust="spacingAndGlyphs" stroke="#1a1a1a" stroke-width="0.3">0.01°</text>
<path d="M463 196.34 L463.46 196.08 L464.05 196.59 L464.75 196.43 L465.54 196.61 L466.38 196.66 L467.26 196.95 L468.16 197.04 L469.05 196.98 L469.9 196.99 L470.7 197.11 L471.46 197.16 L472.23 196.9 L473.01 197.02 L473.78 197.08 L474.54 196.75 L475.3 196.51 L476.05 196.37 L476.79 196.42 L477.5 196.17 L478.2 196.03 L478.88 195.64 L479.56 194.94 L480.23 194.48 L480.89 194.04 L481.54 193.49 L482.16 193.21 L482.76 192.73 L483.34 192.18 L483.89 191.27 L484.4 190.98 L484.88 190.11 L485.32 189.57 L485.73 189.11 L486.12 188.16 L486.48 187.51 L486.83 187.2 L487.16 186.23 L487.48 185.52 L487.79 184.86 L488.1 184.09 L488.4 182.89 L488.69 182.16 L488.96 181.28 L489.22 180.34 L489.46 179.21 L489.7 178.37 L489.93 177.5 L490.16 176.15 L490.38 175.13 L490.6 173.81 L490.81 172.73 L491.02 171.7 L491.21 170.15 L491.39 169.23 L491.58 167.92 L491.75 166.21 L491.93 165.34 L492.12 163.82 L492.3 162.84 L492.5 161.73 L492.7 160.5 L492.91 159.77 L493.11 158.91 L493.32 158.19 L493.53 157.14 L493.74 156.6 L493.96 155.9 L494.17 154.91 L494.39 153.93 L494.6 152.71 L494.82 151.72 L495.04 150.27 L495.27 148.95 L495.51 147.36 L495.74 145.75 L495.97 144.07 L496.19 142.96 L496.4 141.82 L496.61 140.75 L496.8 140.59 L496.98 140.31 L497.15 140.15 L497.32 140.89 L497.47 141.04 L497.62 141.83 L497.77 142.86 L497.91 143.73 L498.04 144.7 L498.17 145.76 L498.3 146.68 L498.42 147.65 L498.53 148.73 L498.63 149.9 L498.72 151.54 L498.81 152.93 L498.9 154.25 L498.99 155.82 L499.09 157.14 L499.19 158.63 L499.3 160.24 L499.42 162.1 L499.53 163.4 L499.65 165.43 L499.77 167.14 L499.9 169.26 L500.03 170.91 L500.16 172.72 L500.3 174.52 L500.45 176.26 L500.6 177.94 L500.76 179.2 L500.92 180.89 L501.08 181.92 L501.25 183.34 L501.43 184.54 L501.61 185.78 L501.79 187.28 L501.99 188.35 L502.19 189.1 L502.4 190.04 L502.62 191.01 L502.86 191.94 L503.1 192.66 L503.35 193.25 L503.61 193.72 L503.87 194 L504.13 194.58 L504.39 194.89 L504.65 195.45 L504.9 195.83 L505.15 195.99 L505.39 196.31 L505.63 196.83 L505.87 196.68 L506.11 197.24 L506.36 197.42 L506.61 197.55 L506.86 197.33 L507.13 197.44 L507.4 197.44 L507.68 197.41 L507.97 197.46 L508.27 197.15 L508.57 196.76 L508.87 196.8 L509.19 196.35 L509.51 196.13 L509.83 195.9 L510.16 195.24 L510.5 195.34 L510.85 194.98 L511.21 194.56 L511.58 194.21 L511.97 193.81 L512.35 193.29 L512.73 193.08 L513.12 192.46 L513.49 192.33 L513.85 192.07 L514.2 191.67 L514.53 191.48 L514.86 191.48 L515.17 191.27 L515.48 190.74 L515.78 190.93 L516.08 190.69 L516.38 190.22 L516.68 190.15 L516.99 189.81 L517.3 189.39 L517.62 189.22 L517.94 188.97 L518.26 188.19 L518.58 187.95 L518.9 187.31 L519.22 186.45 L519.54 186.2 L519.86 185.42 L520.18 184.91 L520.5 184.11 L520.82 183.35 L521.14 182.29 L521.47 181.59 L521.8 180.69 L522.12 179.67 L522.44 178.49 L522.75 177.72 L523.05 176.72 L523.33 175.76 L523.6 175.07 L523.85 174.52 L524.08 174.05 L524.3 173.56 L524.51 173.3 L524.71 173.04 L524.9 172.66 L525.09 172.37 L525.29 172.33 L525.49 172.09 L525.7 172.18 L525.91 172.44 L526.13 172.49 L526.34 172.69 L526.56 173.43 L526.78 173.8 L526.99 174.13 L527.21 174.68 L527.44 175.33 L527.67 175.96 L527.9 176.36 L528.13 176.88 L528.36 177.69 L528.59 178.74 L528.82 179.22 L529.06 180.19 L529.3 180.88 L529.55 181.69 L529.82 182.45 L530.1 183.29 L530.4 183.83 L530.72 184.41 L531.05 185.13 L531.39 185.84 L531.75 186.68 L532.12 187.09 L532.5 187.63 L532.89 188.3 L533.28 188.63 L533.69 188.97 L534.1 188.68 L534.53 188.69 L534.99 188.36 L535.46 187.7 L535.95 187.57 L536.44 186.51 L536.92 185.69 L537.4 185.08 L537.86 184.11 L538.3 183.53 L538.7 182.62 L539.07 181.72 L539.42 180.81 L539.75 180.21 L540.06 179.02 L540.36 178.3 L540.65 177.18 L540.93 176.49 L541.22 175.32 L541.5 174.53 L541.8 173.88 L542.1 173.59 L542.4 172.99 L542.69 172.39 L542.98 171.86 L543.27 171.8 L543.56 171.66 L543.85 171.24 L544.14 170.79 L544.42 170.7 L544.7 170.7 L544.97 170.77 L545.24 170.82 L545.49 171.01 L545.74 171.56 L545.99 171.99 L546.25 172 L546.52 172.79 L546.79 172.99 L547.09 173.64 L547.4 174.21 L547.73 174.79 L548.07 174.97 L548.42 175.79 L548.79 176.68 L549.16 177.62 L549.55 178 L549.94 178.92 L550.35 180.03 L550.77 180.49 L551.2 181.44 L551.64 182.25 L552.1 183.3 L552.57 184.33 L553.05 184.88 L553.54 186.09 L554.04 187 L554.54 187.95 L555.06 188.67 L555.58 189.66 L556.1 190.13 L556.63 190.86 L557.15 191.44 L557.69 192.36 L558.23 192.82 L558.78 193.3 L559.33 193.8 L559.9 194.59 L560.49 195.01 L561.08 195.5 L561.7 195.74 L562.34 196.16 L563.01 196.32 L563.7 196.89 L564.4 196.8 L565.11 197.24 L565.83 197.57 L566.54 197.69 L567.24 197.53 L567.93 197.7 L568.6 198.07 L569.25 198.01 L569.88 198.13 L570.51 198.09 L571.13 197.81 L571.74 197.94 L572.35 197.74 L572.96 197.4 L573.57 197.27 L574.18 196.95 L574.8 196.95 L575.42 197.04 L576.04 196.41 L576.66 196.41 L577.28 195.93 L577.9 195.66 L578.52 195.67 L579.14 195.19 L579.76 194.82 L580.38 194.6 L581 194.57 L581.61 194.26 L582.22 193.65 L582.82 193.43 L583.42 193.45 L584.02 192.74 L584.63 192.59 L585.24 192.23 L585.88 192.16 L586.53 191.88 L587.2 191.84 L587.9 191.67 L588.62 191.51 L589.35 191.57 L590.11 191.64 L590.87 192.15 L591.64 191.95 L592.41 192.07 L593.18 192.7 L593.94 192.45 L594.7 192.9 L595.45 192.56 L596.2 192.8 L596.94 192.71 L597.69 193.04 L598.44 192.96 L599.19 193.01 L599.94 193.12 L600.69 193.25 L601.44 193.09 L602.2 193.35 L603 193.46 L603.85 193.52 L604.74 194.16 L605.64 194.33 L606.52 194.74 L607.36 194.74 L608.15 195.19 L608.85 195.41 L609.44 195.76 L609.9 195.59" fill="none" stroke="#e028ff" stroke-width="2.2" stroke-linejoin="round" stroke-linecap="round" clip-path="url(#rc1)"/>
<rect x="462.8" y="126.8" width="147.1" height="73" fill="none" stroke="#303030" stroke-width="1.25"/>
<line x1="458" y1="140.4" x2="462.8" y2="140.4" stroke="#303030" stroke-width="1.1"/>
<line x1="458" y1="168.3" x2="462.8" y2="168.3" stroke="#303030" stroke-width="1.1"/>
<line x1="462.9" y1="199.8" x2="462.9" y2="204.3" stroke="#303030" stroke-width="1.1"/>
<line x1="515.1" y1="199.8" x2="515.1" y2="204.3" stroke="#303030" stroke-width="1.1"/>
<line x1="567.3" y1="199.8" x2="567.3" y2="204.3" stroke="#303030" stroke-width="1.1"/>
<text x="420.04" y="147.3" font-family="Liberation Sans" font-size="17.44" fill="#1a1a1a" text-anchor="start" textLength="31.53" lengthAdjust="spacingAndGlyphs" stroke="#1a1a1a" stroke-width="0.3">-1.0</text>
<text x="420.04" y="175.3" font-family="Liberation Sans" font-size="17.44" fill="#1a1a1a" text-anchor="start" textLength="31.58" lengthAdjust="spacingAndGlyphs" stroke="#1a1a1a" stroke-width="0.3">-0.5</text>
<text x="574.19" y="146.7" font-family="Liberation Sans" font-size="16.13" fill="#1a1a1a" text-anchor="start" textLength="34.62" lengthAdjust="spacingAndGlyphs" stroke="#1a1a1a" stroke-width="0.3">0.4°</text>
<path d="M463 269.12 L464.07 269.21 L465.45 269.02 L467.1 269.29 L468.94 269.41 L470.92 269.29 L472.97 269.43 L475.04 269.43 L477.06 269.25 L478.96 269.33 L480.7 269.65 L482.33 269.3 L483.96 269.31 L485.57 269.09 L487.16 269.1 L488.71 269.02 L490.22 269.35 L491.67 269.19 L493.06 269.23 L494.37 269.25 L495.6 269.06 L496.74 269.24 L497.82 269.11 L498.82 269.15 L499.77 269.52 L500.65 269.61 L501.48 269.72 L502.25 269.55 L502.98 269.71 L503.66 269.48 L504.3 269.65 L504.88 269.43 L505.39 268.9 L505.83 268.97 L506.23 268.3 L506.57 267.92 L506.89 267.85 L507.18 267.2 L507.46 266.84 L507.73 266.36 L508 265.47 L508.26 265.18 L508.5 264.25 L508.7 263.58 L508.89 262.74 L509.06 262.1 L509.23 261.2 L509.39 260.03 L509.55 258.94 L509.72 257.99 L509.9 256.96 L510.09 255.63 L510.28 254.43 L510.47 253.43 L510.66 252.04 L510.86 250.78 L511.05 249.35 L511.24 247.84 L511.43 246.13 L511.61 244.57 L511.8 243.21 L511.98 241.83 L512.16 240.37 L512.33 238.86 L512.49 237.24 L512.66 235.95 L512.83 234.14 L513.01 232.71 L513.2 231.44 L513.39 229.95 L513.6 228.3 L513.82 226.88 L514.06 225.74 L514.3 223.91 L514.55 222.56 L514.81 221.39 L515.07 220.08 L515.33 218.67 L515.59 217.5 L515.85 216.59 L516.1 216.03 L516.35 215.2 L516.6 214.9 L516.85 214.36 L517.1 214.12 L517.35 213.4 L517.6 213.31 L517.85 213.13 L518.1 213.3 L518.35 213.27 L518.6 213.18 L518.85 213.53 L519.1 213.48 L519.35 213.83 L519.6 214.1 L519.85 214.75 L520.1 214.98 L520.35 215.38 L520.6 215.8 L520.85 216.56 L521.1 217.26 L521.35 217.96 L521.6 218.83 L521.85 219.6 L522.1 220.2 L522.36 221.06 L522.61 222.31 L522.86 223.28 L523.11 224.09 L523.35 225.17 L523.6 225.93 L523.84 226.66 L524.07 227.47 L524.3 228.27 L524.53 229.45 L524.76 230.45 L524.99 231.32 L525.22 231.97 L525.47 232.94 L525.73 233.94 L526 234.76 L526.29 235.54 L526.59 236.35 L526.9 237.32 L527.23 238.06 L527.56 238.99 L527.89 240.14 L528.22 241.16 L528.55 241.78 L528.88 242.51 L529.2 243.23 L529.51 243.96 L529.83 244.77 L530.14 245.18 L530.45 245.99 L530.76 246.12 L531.06 246.72 L531.37 247.33 L531.68 247.79 L531.99 248.53 L532.3 249.06 L532.61 249.7 L532.94 250.16 L533.26 250.5 L533.59 251.42 L533.91 252.04 L534.23 252.61 L534.54 253.08 L534.84 253.8 L535.13 254.35 L535.4 254.3 L535.64 254.86 L535.86 254.92 L536.05 255.13 L536.24 255.42 L536.41 255.5 L536.59 255.35 L536.78 255.11 L536.99 255.43 L537.23 255 L537.5 255.04 L537.8 255.15 L538.14 254.7 L538.49 254.42 L538.86 254.47 L539.24 254.17 L539.64 253.58 L540.03 253.38 L540.43 253.15 L540.82 252.99 L541.2 253.08 L541.57 253.58 L541.94 253.35 L542.3 253.71 L542.66 254.04 L543.03 254.38 L543.4 255.05 L543.78 255.63 L544.17 256.16 L544.58 256.56 L545 257.16 L545.45 257.28 L545.92 258 L546.4 258.95 L546.9 259.15 L547.41 259.91 L547.92 260.68 L548.43 261.24 L548.93 262.02 L549.43 262.39 L549.9 263.07 L550.37 263.99 L550.83 264.16 L551.3 265.11 L551.76 265.31 L552.21 266.26 L552.66 266.62 L553.09 267.09 L553.51 267.28 L553.91 267.64 L554.3 268.33 L554.66 268.34 L554.99 268.63 L555.31 269.2 L555.6 269.44 L555.89 269.2 L556.18 269.78 L556.47 269.63 L556.76 269.56 L557.07 269.35 L557.4 269.34 L557.75 269.41 L558.1 268.75 L558.46 268.29 L558.83 267.85 L559.21 267.33 L559.58 266.89 L559.96 266.57 L560.34 265.52 L560.72 264.92 L561.1 264.62 L561.47 263.9 L561.85 263.05 L562.22 261.77 L562.59 260.86 L562.96 260.18 L563.34 258.98 L563.72 258.15 L564.11 257.07 L564.5 256.14 L564.9 255.62 L565.31 255.23 L565.73 254.7 L566.15 254.08 L566.58 253.57 L567.01 253.21 L567.45 252.82 L567.89 252.59 L568.33 252.54 L568.76 252.09 L569.2 252.25 L569.63 252.47 L570.07 252.58 L570.5 252.49 L570.93 253.2 L571.36 253.51 L571.8 253.6 L572.24 254.11 L572.69 254.57 L573.14 254.99 L573.6 255.94 L574.06 256.17 L574.53 256.97 L574.99 257.21 L575.46 257.8 L575.93 258.89 L576.42 259.52 L576.91 260.29 L577.42 260.79 L577.95 261.33 L578.5 262.03 L579.07 262.26 L579.65 263.05 L580.25 263.56 L580.87 263.96 L581.49 264.72 L582.13 265.09 L582.79 265.67 L583.45 266.05 L584.12 266.44 L584.8 266.83 L585.49 267.27 L586.21 267.74 L586.94 267.96 L587.68 268.14 L588.42 268.31 L589.18 268.19 L589.94 268.68 L590.7 268.45 L591.45 268.5 L592.2 268.8 L592.96 269.02 L593.73 268.91 L594.52 269.13 L595.31 269 L596.1 269.38 L596.88 269.15 L597.63 269.17 L598.36 269.21 L599.05 269.39 L599.7 269.44 L600.31 269.22 L600.88 269.18 L601.42 269.26 L601.94 268.98 L602.44 269.14 L602.91 269.32 L603.37 269.24 L603.82 268.81 L604.26 269.11 L604.7 268.74 L605.13 268.87 L605.54 268.35 L605.94 268.02 L606.33 267.92 L606.7 267.8 L607.06 267.28 L607.41 267.21 L607.75 266.86 L608.08 266.44 L608.4 266.2 L608.72 266.12 L609.03 265.89 L609.34 265.72 L609.64 265.71 L609.93 265.68 L610.2 265.41 L610.45 265.08 L610.66 265.02 L610.85 265.01 L611 265.06" fill="none" stroke="#b040ff" stroke-width="2.2" stroke-linejoin="round" stroke-linecap="round" clip-path="url(#rc2)"/>
<rect x="462.8" y="199.8" width="147.1" height="73" fill="none" stroke="#303030" stroke-width="1.25"/>
<line x1="458" y1="213.4" x2="462.8" y2="213.4" stroke="#303030" stroke-width="1.1"/>
<line x1="458" y1="241.3" x2="462.8" y2="241.3" stroke="#303030" stroke-width="1.1"/>
<line x1="462.9" y1="272.8" x2="462.9" y2="277.3" stroke="#303030" stroke-width="1.1"/>
<line x1="515.1" y1="272.8" x2="515.1" y2="277.3" stroke="#303030" stroke-width="1.1"/>
<line x1="567.3" y1="272.8" x2="567.3" y2="277.3" stroke="#303030" stroke-width="1.1"/>
<text x="420.04" y="220.3" font-family="Liberation Sans" font-size="17.44" fill="#1a1a1a" text-anchor="start" textLength="31.53" lengthAdjust="spacingAndGlyphs" stroke="#1a1a1a" stroke-width="0.3">-1.0</text>
<text x="420.04" y="248.3" font-family="Liberation Sans" font-size="17.44" fill="#1a1a1a" text-anchor="start" textLength="31.58" lengthAdjust="spacingAndGlyphs" stroke="#1a1a1a" stroke-width="0.3">-0.5</text>
<text x="532.84" y="224.6" font-family="Liberation Sans" font-size="16.13" fill="#1a1a1a" text-anchor="start" textLength="75.26" lengthAdjust="spacingAndGlyphs" stroke="#1a1a1a" stroke-width="0.3">1.4° (AB)</text>
<path d="M463 342.22 L464.09 342.18 L465.53 342.28 L467.25 342.23 L469.18 342.08 L471.23 342.31 L473.33 342.47 L475.41 342.25 L477.38 342.34 L479.17 342.37 L480.7 342.37 L482.02 342.41 L483.23 342.2 L484.34 342.35 L485.37 342.1 L486.33 342.51 L487.24 342.3 L488.1 342.37 L488.94 342.6 L489.77 342.3 L490.6 342.24 L491.41 342.53 L492.17 342.35 L492.88 342.01 L493.57 341.9 L494.23 341.96 L494.86 341.7 L495.49 342.04 L496.12 341.66 L496.75 341.68 L497.4 341.74 L498.07 341.89 L498.76 342.02 L499.47 342.34 L500.17 342.61 L500.86 342.76 L501.53 342.81 L502.16 343.41 L502.74 343.34 L503.25 342.99 L503.7 342.97 L504.06 342.81 L504.36 342.53 L504.59 341.59 L504.77 341 L504.91 340.6 L505.03 339.85 L505.14 339.28 L505.24 338.37 L505.36 337.16 L505.5 336.16 L505.65 335.09 L505.79 333.95 L505.93 332.22 L506.06 330.83 L506.19 329.13 L506.31 327.81 L506.43 325.88 L506.55 324.71 L506.68 322.89 L506.8 321.34 L506.92 319.52 L507.04 317.99 L507.16 316.48 L507.28 315.03 L507.4 313.22 L507.52 311.44 L507.64 310.15 L507.76 308.36 L507.88 306.69 L508 304.95 L508.13 303.41 L508.26 302.06 L508.39 300 L508.52 298.53 L508.65 296.93 L508.78 295.23 L508.91 293.95 L509.04 292.65 L509.17 291.41 L509.3 290.32 L509.42 289.19 L509.54 288.39 L509.65 287.97 L509.77 287.42 L509.88 286.98 L510 287.03 L510.11 286.49 L510.24 286.66 L510.36 286.64 L510.5 286.21 L510.64 286.65 L510.79 286.5 L510.93 286.6 L511.09 286.86 L511.24 287.13 L511.4 287.78 L511.57 288.22 L511.74 289.02 L511.92 289.65 L512.1 289.98 L512.29 290.98 L512.48 291.93 L512.68 292.9 L512.88 294.08 L513.09 295.3 L513.31 296.76 L513.52 297.82 L513.75 298.93 L513.97 300.16 L514.2 301.37 L514.43 302.48 L514.65 303.36 L514.88 304.6 L515.11 305.37 L515.34 306.59 L515.59 307.54 L515.84 308.3 L516.11 309.54 L516.4 310.31 L516.7 311.32 L517.02 312.27 L517.36 313.2 L517.71 314.01 L518.07 314.7 L518.45 315.94 L518.84 316.84 L519.24 317.51 L519.65 318.4 L520.07 319.07 L520.5 320.2 L520.94 320.91 L521.41 321.49 L521.89 322.6 L522.38 323.48 L522.88 323.95 L523.38 325.04 L523.89 325.51 L524.4 326.06 L524.9 326.99 L525.4 327.42 L525.9 328.18 L526.4 328.63 L526.91 328.87 L527.41 329.52 L527.92 330.1 L528.42 330.31 L528.93 330.72 L529.42 331.25 L529.92 331.41 L530.4 331.8 L530.87 332.2 L531.32 332.67 L531.76 332.69 L532.19 332.95 L532.62 333.59 L533.06 333.79 L533.51 333.95 L533.98 334.53 L534.48 334.81 L535 334.92 L535.56 335.43 L536.15 335.63 L536.76 335.87 L537.39 335.91 L538.04 336.04 L538.69 336.63 L539.33 336.9 L539.97 336.93 L540.6 337.2 L541.2 337.43 L541.79 337.43 L542.38 337.78 L542.96 337.81 L543.54 337.8 L544.11 337.73 L544.68 338.02 L545.23 337.98 L545.77 338.27 L546.29 338.1 L546.8 338.35 L547.28 338.41 L547.74 338.7 L548.17 338.98 L548.59 338.96 L549 339.15 L549.41 339.59 L549.83 339.68 L550.26 340.06 L550.72 340.11 L551.2 340.3 L551.72 340.75 L552.26 341.2 L552.83 341.45 L553.42 341.56 L554.01 341.77 L554.6 341.86 L555.18 342.2 L555.74 342.4 L556.29 342.85 L556.8 342.51 L557.28 342.94 L557.75 342.68 L558.2 342.6 L558.64 342.42 L559.06 342.63 L559.48 342.07 L559.89 342.06 L560.29 341.79 L560.7 341.36 L561.1 341.06 L561.5 341.08 L561.89 340.56 L562.28 340.06 L562.66 339.63 L563.04 338.69 L563.41 338.44 L563.78 337.91 L564.15 337.09 L564.53 336.68 L564.9 336.44 L565.27 335.61 L565.65 335.3 L566.02 334.45 L566.39 334.15 L566.76 333.42 L567.12 333.03 L567.49 332.5 L567.86 332.35 L568.23 331.96 L568.6 331.6 L568.96 331.56 L569.32 331.38 L569.67 331.59 L570.02 331.4 L570.37 331.67 L570.73 331.85 L571.09 331.93 L571.48 331.95 L571.88 332.18 L572.3 332.57 L572.74 332.51 L573.18 332.97 L573.63 333.05 L574.09 333.5 L574.56 333.67 L575.06 333.82 L575.58 333.84 L576.12 333.85 L576.69 334.24 L577.3 334.42 L577.95 334.55 L578.64 334.18 L579.37 334.13 L580.12 334.47 L580.9 334.27 L581.69 334.05 L582.48 334.07 L583.27 333.68 L584.04 333.79 L584.8 333.78 L585.55 333.68 L586.32 333.38 L587.1 333.28 L587.88 333.44 L588.66 333.48 L589.42 333.03 L590.16 332.9 L590.88 332.9 L591.56 333.23 L592.2 333.05 L592.8 333.11 L593.35 333.43 L593.88 333.3 L594.37 333.21 L594.85 333.53 L595.32 333.3 L595.78 333.58 L596.24 333.96 L596.71 333.9 L597.2 334.07 L597.69 334.58 L598.16 334.8 L598.61 335.48 L599.07 335.42 L599.53 336.17 L600.01 336.38 L600.5 337.01 L601.03 337.25 L601.59 337.78 L602.2 338.01 L602.9 338.38 L603.69 338.94 L604.55 339.59 L605.46 339.84 L606.36 340.25 L607.24 340.8 L608.07 341.06 L608.81 341.55 L609.43 341.99 L609.9 342.22" fill="none" stroke="#8c64ff" stroke-width="2.2" stroke-linejoin="round" stroke-linecap="round" clip-path="url(#rc3)"/>
<rect x="462.8" y="272.8" width="147.1" height="73" fill="none" stroke="#303030" stroke-width="1.25"/>
<line x1="458" y1="286.4" x2="462.8" y2="286.4" stroke="#303030" stroke-width="1.1"/>
<line x1="458" y1="314.3" x2="462.8" y2="314.3" stroke="#303030" stroke-width="1.1"/>
<line x1="462.9" y1="345.8" x2="462.9" y2="350.3" stroke="#303030" stroke-width="1.1"/>
<line x1="515.1" y1="345.8" x2="515.1" y2="350.3" stroke="#303030" stroke-width="1.1"/>
<line x1="567.3" y1="345.8" x2="567.3" y2="350.3" stroke="#303030" stroke-width="1.1"/>
<text x="420.04" y="293.3" font-family="Liberation Sans" font-size="17.44" fill="#1a1a1a" text-anchor="start" textLength="31.53" lengthAdjust="spacingAndGlyphs" stroke="#1a1a1a" stroke-width="0.3">-1.0</text>
<text x="420.04" y="321.3" font-family="Liberation Sans" font-size="17.44" fill="#1a1a1a" text-anchor="start" textLength="31.58" lengthAdjust="spacingAndGlyphs" stroke="#1a1a1a" stroke-width="0.3">-0.5</text>
<text x="532.84" y="293.9" font-family="Liberation Sans" font-size="16.13" fill="#1a1a1a" text-anchor="start" textLength="75.26" lengthAdjust="spacingAndGlyphs" stroke="#1a1a1a" stroke-width="0.3">1.9° (AB)</text>
<path d="M463 416.05 L463.68 415.85 L464.55 415.65 L465.59 415.57 L466.75 415.64 L468 415.47 L469.31 415.56 L470.64 415.32 L471.95 415.48 L473.22 415.32 L474.4 415.28 L475.53 415.25 L476.65 415.08 L477.77 414.96 L478.89 414.84 L480.01 414.66 L481.13 414.97 L482.25 414.79 L483.36 414.57 L484.48 414.99 L485.6 414.84 L486.73 414.92 L487.86 414.9 L489 414.84 L490.14 415.4 L491.28 415.11 L492.41 415.35 L493.53 415.81 L494.64 415.52 L495.73 415.86 L496.8 415.99 L497.87 416.04 L498.97 416.59 L500.07 416.57 L501.16 416.61 L502.23 417.07 L503.27 417.05 L504.26 417.58 L505.18 417.78 L506.04 417.84 L506.8 417.37 L507.47 417.58 L508.04 417.25 L508.55 417.14 L508.99 416.82 L509.38 416.53 L509.74 416.09 L510.08 415.93 L510.41 415.18 L510.74 415.06 L511.1 413.97 L511.46 413.73 L511.81 412.59 L512.14 411.71 L512.46 411.15 L512.76 410.09 L513.06 409.18 L513.35 407.96 L513.64 406.84 L513.92 405.32 L514.2 404.29 L514.48 402.77 L514.74 401.45 L515 399.32 L515.25 397.62 L515.5 396.13 L515.74 394.42 L515.98 392.31 L516.22 390.59 L516.46 388.66 L516.7 386.75 L516.94 384.92 L517.17 383.03 L517.4 380.73 L517.62 378.84 L517.85 377.03 L518.08 374.8 L518.3 373 L518.53 371.1 L518.76 369.5 L519 368.18 L519.24 366.88 L519.48 365.71 L519.73 364.27 L519.98 363.03 L520.23 362.11 L520.48 361.1 L520.73 360.46 L520.98 360.06 L521.24 359.67 L521.5 359.27 L521.76 359.23 L522.03 359.38 L522.3 359.8 L522.58 360.49 L522.85 361.03 L523.12 362.13 L523.4 362.83 L523.67 363.65 L523.94 364.67 L524.2 365.47 L524.46 366.87 L524.7 368.06 L524.95 369.13 L525.19 370.66 L525.42 371.84 L525.67 373.27 L525.91 374.75 L526.16 376.22 L526.43 377.9 L526.7 379.37 L526.98 380.89 L527.27 382.11 L527.57 384.03 L527.87 385.49 L528.17 387.05 L528.49 388.69 L528.81 390.19 L529.13 391.53 L529.46 393 L529.8 394.37 L530.14 395.55 L530.49 396.71 L530.84 397.33 L531.2 398.6 L531.56 399.41 L531.93 400.18 L532.31 401.09 L532.7 401.4 L533.09 402.44 L533.5 403.2 L533.92 403.48 L534.37 404.35 L534.83 405.11 L535.3 405.34 L535.78 406.14 L536.26 406.66 L536.72 406.89 L537.17 407.19 L537.6 407.65 L538 408.36 L538.35 408.54 L538.65 408.82 L538.92 409.19 L539.17 409.7 L539.41 409.62 L539.67 409.75 L539.96 410.47 L540.31 410.41 L540.71 410.73 L541.2 411.34 L541.77 411.34 L542.41 411.62 L543.1 412.42 L543.83 412.51 L544.61 412.92 L545.41 413.68 L546.23 413.71 L547.05 414.41 L547.88 414.44 L548.7 414.7 L549.51 414.88 L550.32 415.24 L551.14 415.41 L551.97 415.47 L552.82 415.63 L553.68 415.63 L554.57 415.98 L555.48 416.09 L556.42 416.07 L557.4 416.16 L558.45 415.84 L559.58 415.98 L560.77 416 L562 416 L563.23 416.42 L564.45 416.39 L565.62 416.38 L566.72 416.16 L567.72 415.89 L568.6 415.96 L569.35 415.68 L570 415.99 L570.56 415.54 L571.05 415.4 L571.49 415.56 L571.9 415 L572.3 415.15 L572.71 414.62 L573.13 414.55 L573.6 414 L574.09 414.09 L574.58 413.49 L575.07 413.08 L575.56 412.82 L576.05 412.37 L576.54 411.77 L577.03 411.29 L577.52 411.12 L578.01 410.48 L578.5 410.59 L578.98 410.03 L579.45 409.66 L579.91 409.48 L580.37 409.12 L580.84 408.99 L581.32 408.89 L581.81 408.64 L582.34 408.44 L582.9 408.29 L583.5 408.29 L584.14 408.38 L584.82 408.2 L585.53 408.38 L586.26 408.29 L587.02 408.18 L587.79 408.29 L588.58 408.72 L589.38 408.63 L590.19 408.67 L591 408.81 L591.81 409.04 L592.64 408.87 L593.47 408.93 L594.32 409 L595.18 408.89 L596.05 409.24 L596.94 409.29 L597.84 409.39 L598.76 409.47 L599.7 409.59 L600.71 409.84 L601.81 409.72 L602.97 410.29 L604.16 410.03 L605.34 410.58 L606.48 410.41 L607.54 410.89 L608.49 410.77 L609.29 410.8 L609.9 411.12" fill="none" stroke="#6482ff" stroke-width="2.2" stroke-linejoin="round" stroke-linecap="round" clip-path="url(#rc4)"/>
<rect x="462.8" y="345.8" width="147.1" height="73" fill="none" stroke="#303030" stroke-width="1.25"/>
<line x1="458" y1="359.4" x2="462.8" y2="359.4" stroke="#303030" stroke-width="1.1"/>
<line x1="458" y1="387.3" x2="462.8" y2="387.3" stroke="#303030" stroke-width="1.1"/>
<line x1="462.9" y1="418.8" x2="462.9" y2="423.3" stroke="#303030" stroke-width="1.1"/>
<line x1="515.1" y1="418.8" x2="515.1" y2="423.3" stroke="#303030" stroke-width="1.1"/>
<line x1="567.3" y1="418.8" x2="567.3" y2="423.3" stroke="#303030" stroke-width="1.1"/>
<text x="420.04" y="366.3" font-family="Liberation Sans" font-size="17.44" fill="#1a1a1a" text-anchor="start" textLength="31.53" lengthAdjust="spacingAndGlyphs" stroke="#1a1a1a" stroke-width="0.3">-1.0</text>
<text x="420.04" y="394.3" font-family="Liberation Sans" font-size="17.44" fill="#1a1a1a" text-anchor="start" textLength="31.58" lengthAdjust="spacingAndGlyphs" stroke="#1a1a1a" stroke-width="0.3">-0.5</text>
<text x="533.15" y="363.8" font-family="Liberation Sans" font-size="16.13" fill="#1a1a1a" text-anchor="start" textLength="74.94" lengthAdjust="spacingAndGlyphs" stroke="#1a1a1a" stroke-width="0.3">3.2° (AB)</text>
<path d="M463 488.57 L463.67 488.59 L464.53 488.64 L465.55 488.73 L466.69 488.31 L467.92 488.52 L469.21 488.43 L470.54 488.79 L471.87 488.66 L473.16 488.82 L474.4 488.85 L475.62 488.93 L476.87 488.73 L478.15 488.78 L479.45 488.56 L480.74 488.26 L482.03 488.6 L483.31 488.13 L484.55 488.07 L485.75 488.4 L486.9 488.09 L488.01 488.25 L489.11 487.91 L490.18 487.97 L491.22 488.2 L492.24 487.84 L493.23 488.07 L494.18 488.29 L495.1 487.95 L495.97 488.24 L496.8 488.32 L497.58 488.35 L498.32 488.53 L499.01 488.63 L499.66 488.43 L500.28 488.68 L500.87 489.02 L501.43 489.41 L501.97 489.21 L502.49 489.57 L503 489.51 L503.48 490.05 L503.93 490.03 L504.35 490.27 L504.75 490.54 L505.12 490.47 L505.47 490.97 L505.82 491.2 L506.15 491.43 L506.48 491.32 L506.8 491.47 L507.11 491.61 L507.41 492.16 L507.68 492.13 L507.95 492.3 L508.21 492.55 L508.46 492.8 L508.71 492.75 L508.96 492.86 L509.23 493.13 L509.5 493.14 L509.79 492.9 L510.08 492.83 L510.39 493.3 L510.7 493.23 L511.01 493.13 L511.31 492.92 L511.6 492.97 L511.89 492.34 L512.15 491.7 L512.4 490.9 L512.62 490.07 L512.83 489.03 L513.02 487.59 L513.19 486.41 L513.36 484.67 L513.53 482.91 L513.69 481.29 L513.85 479.51 L514.02 477.77 L514.2 476 L514.39 474.29 L514.57 472.48 L514.76 470.82 L514.95 468.62 L515.14 467.01 L515.34 464.84 L515.53 463.19 L515.72 460.88 L515.91 459.17 L516.1 457.27 L516.29 455.49 L516.48 453.23 L516.67 451.21 L516.86 449.08 L517.06 447.26 L517.25 445.29 L517.44 443.12 L517.63 441.47 L517.81 439.91 L518 438.93 L518.18 437.51 L518.36 436.54 L518.54 435.52 L518.72 434.95 L518.9 434.39 L519.08 433.78 L519.26 433.01 L519.44 432.87 L519.62 432.61 L519.8 432.17 L519.98 432.42 L520.16 432.17 L520.34 432.24 L520.52 432.59 L520.71 432.83 L520.89 433.12 L521.08 433.68 L521.28 433.95 L521.49 434.33 L521.7 434.68 L521.92 435.46 L522.15 435.97 L522.39 436.73 L522.63 437.35 L522.88 437.94 L523.13 438.76 L523.39 439.65 L523.65 440.46 L523.92 441.71 L524.2 442.44 L524.48 443.17 L524.76 444.35 L525.04 445.3 L525.33 446.03 L525.63 447.4 L525.94 448.18 L526.26 449.59 L526.59 450.18 L526.93 451.24 L527.3 452.17 L527.69 453.42 L528.11 454.34 L528.56 455.15 L529.02 455.87 L529.49 456.92 L529.96 457.94 L530.42 458.48 L530.87 459.73 L531.3 460.46 L531.7 461.22 L532.06 461.74 L532.38 462.28 L532.68 462.97 L532.96 463.09 L533.24 463.56 L533.52 463.9 L533.83 464.37 L534.17 465.13 L534.56 465.27 L535 466.12 L535.49 466.52 L536.01 467.34 L536.57 467.88 L537.15 468.45 L537.76 469.15 L538.4 469.38 L539.06 470.13 L539.75 470.83 L540.47 471.51 L541.2 472.29 L541.96 473.06 L542.76 473.68 L543.59 474.47 L544.44 475.07 L545.31 475.62 L546.21 476.4 L547.12 477.23 L548.04 477.95 L548.97 478.39 L549.9 479.03 L550.85 479.78 L551.84 480.19 L552.85 481.11 L553.87 481.25 L554.9 482.14 L555.93 482.61 L556.95 483 L557.96 483.72 L558.95 484.19 L559.9 484.93 L560.85 485.4 L561.8 485.77 L562.76 486.43 L563.71 486.95 L564.64 487.08 L565.54 487.87 L566.4 488.29 L567.2 488.73 L567.94 488.91 L568.6 488.95 L569.16 488.99 L569.63 489.28 L570.02 489.06 L570.35 489.28 L570.64 489.09 L570.92 489.08 L571.21 488.68 L571.52 488.48 L571.88 488.59 L572.3 488.28 L572.79 487.91 L573.32 487.71 L573.88 487.31 L574.46 487.05 L575.06 486.61 L575.66 486.13 L576.25 486.15 L576.83 485.82 L577.38 485.55 L577.9 485.19 L578.38 485.13 L578.83 485.45 L579.25 485.62 L579.66 485.71 L580.06 485.69 L580.47 486.18 L580.89 486.31 L581.32 486.46 L581.79 486.78 L582.3 486.87 L582.84 487.12 L583.38 487.32 L583.95 487.58 L584.53 487.29 L585.13 487.65 L585.75 487.97 L586.4 487.96 L587.07 488.04 L587.77 488.28 L588.5 487.97 L589.25 488.44 L590.02 488.44 L590.8 488.5 L591.61 488.43 L592.44 488.65 L593.31 488.45 L594.22 488.69 L595.16 488.58 L596.16 488.93 L597.2 488.85 L598.37 488.65 L599.69 488.72 L601.12 488.45 L602.6 488.41 L604.09 488.11 L605.54 488.34 L606.9 488.18 L608.11 488.07 L609.13 487.65 L609.9 487.96" fill="none" stroke="#5ab4fa" stroke-width="2.2" stroke-linejoin="round" stroke-linecap="round" clip-path="url(#rc5)"/>
<rect x="462.8" y="418.8" width="147.1" height="73" fill="none" stroke="#303030" stroke-width="1.25"/>
<line x1="458" y1="432.4" x2="462.8" y2="432.4" stroke="#303030" stroke-width="1.1"/>
<line x1="458" y1="460.3" x2="462.8" y2="460.3" stroke="#303030" stroke-width="1.1"/>
<line x1="462.9" y1="491.8" x2="462.9" y2="496.3" stroke="#303030" stroke-width="1.1"/>
<line x1="515.1" y1="491.8" x2="515.1" y2="496.3" stroke="#303030" stroke-width="1.1"/>
<line x1="567.3" y1="491.8" x2="567.3" y2="496.3" stroke="#303030" stroke-width="1.1"/>
<text x="420.04" y="439.3" font-family="Liberation Sans" font-size="17.44" fill="#1a1a1a" text-anchor="start" textLength="31.53" lengthAdjust="spacingAndGlyphs" stroke="#1a1a1a" stroke-width="0.3">-1.0</text>
<text x="420.04" y="467.3" font-family="Liberation Sans" font-size="17.44" fill="#1a1a1a" text-anchor="start" textLength="31.58" lengthAdjust="spacingAndGlyphs" stroke="#1a1a1a" stroke-width="0.3">-0.5</text>
<text x="574.51" y="440.5" font-family="Liberation Sans" font-size="16.13" fill="#1a1a1a" text-anchor="start" textLength="34.29" lengthAdjust="spacingAndGlyphs" stroke="#1a1a1a" stroke-width="0.3">4.7°</text>
<path d="M463 561.16 L464.08 561.43 L465.49 561.39 L467.18 561.18 L469.06 561.36 L471.07 561.59 L473.15 561.46 L475.22 561.31 L477.22 561.56 L479.06 561.33 L480.7 561.6 L482.16 561.34 L483.54 561.17 L484.85 561.59 L486.1 561.12 L487.31 561.2 L488.48 561.44 L489.64 561.11 L490.78 561.34 L491.93 561.53 L493.1 561.44 L494.3 561.43 L495.54 561.81 L496.78 562.06 L498.03 562.17 L499.24 562.43 L500.42 562.48 L501.53 562.69 L502.56 563.07 L503.49 563.06 L504.3 562.45 L504.98 562.33 L505.54 562.07 L506 562 L506.38 561.3 L506.69 560.82 L506.97 560.58 L507.21 559.69 L507.46 559.44 L507.71 558.46 L508 557.9 L508.3 557.01 L508.58 555.79 L508.84 555.1 L509.09 553.86 L509.32 552.66 L509.56 551.41 L509.79 550.52 L510.02 549.19 L510.26 547.75 L510.5 546.67 L510.75 544.94 L511 543.57 L511.25 541.84 L511.5 540.36 L511.75 538.98 L512 537.11 L512.25 535.23 L512.5 533.57 L512.75 532.06 L513 530.19 L513.25 528.76 L513.49 526.52 L513.73 525.04 L513.97 523.01 L514.21 521.22 L514.46 519.13 L514.71 517.21 L514.96 515.6 L515.23 514.31 L515.5 512.66 L515.79 511.5 L516.09 510.73 L516.4 509.76 L516.73 508.82 L517.05 507.99 L517.37 507.14 L517.7 506.7 L518.01 506.12 L518.31 505.68 L518.6 505.36 L518.87 505.06 L519.14 505.15 L519.39 505.43 L519.64 505.85 L519.89 506.1 L520.13 507.02 L520.37 507.38 L520.61 508.07 L520.85 508.77 L521.1 509.06 L521.35 510.06 L521.59 510.84 L521.83 511.3 L522.07 512.08 L522.31 513.32 L522.56 514.29 L522.81 515.2 L523.06 515.96 L523.33 517.01 L523.6 517.71 L523.88 518.72 L524.17 519.8 L524.47 520.98 L524.77 521.68 L525.08 523.14 L525.39 523.72 L525.71 525.2 L526.03 525.82 L526.36 527.06 L526.7 527.96 L527.05 528.88 L527.4 529.47 L527.77 530.39 L528.14 530.96 L528.51 531.99 L528.89 532.36 L529.27 533.46 L529.65 534.01 L530.03 534.42 L530.4 535.52 L530.77 535.85 L531.14 536.35 L531.5 537.04 L531.87 537.5 L532.24 538.19 L532.61 538.95 L532.98 539.62 L533.35 539.96 L533.72 540.58 L534.1 541.06 L534.49 541.5 L534.88 541.81 L535.28 542.22 L535.68 542.63 L536.08 543.27 L536.48 543.52 L536.88 544.2 L537.26 544.39 L537.64 544.89 L538 545.22 L538.32 545.57 L538.6 545.58 L538.84 545.84 L539.07 546.25 L539.3 546.19 L539.56 546.61 L539.86 546.97 L540.22 546.94 L540.66 547.54 L541.2 547.76 L541.84 548.4 L542.57 548.74 L543.36 549.45 L544.22 550.06 L545.13 550.49 L546.06 551.34 L547.02 552.05 L547.99 552.66 L548.95 553.39 L549.9 554.1 L550.86 554.61 L551.86 555.17 L552.89 555.38 L553.93 556.19 L554.98 556.68 L556.02 557.34 L557.05 557.35 L558.05 557.9 L559 558.73 L559.9 558.84 L560.76 559.39 L561.58 559.7 L562.39 559.95 L563.16 560.31 L563.91 560.67 L564.64 561.17 L565.34 561.19 L566.02 561.53 L566.67 561.47 L567.3 561.81 L567.89 561.84 L568.43 561.94 L568.94 561.99 L569.42 561.54 L569.88 561.9 L570.33 561.63 L570.79 561.35 L571.26 561.35 L571.76 561.07 L572.3 561.07 L572.86 561.3 L573.42 561.16 L573.99 561.14 L574.57 560.7 L575.17 560.58 L575.78 560.63 L576.42 560.61 L577.08 560.66 L577.77 560.41 L578.5 560.62 L579.26 560.56 L580.06 560.45 L580.89 560.76 L581.74 560.48 L582.61 560.82 L583.51 560.71 L584.42 560.73 L585.34 561.04 L586.27 561.14 L587.2 561.26 L588.14 561.2 L589.07 561.54 L590.02 561.53 L590.98 561.28 L591.95 561.26 L592.94 561.8 L593.96 561.57 L595.01 561.46 L596.08 561.52 L597.2 561.8 L598.42 561.54 L599.77 561.62 L601.21 561.75 L602.7 561.55 L604.18 561.66 L605.6 561.76 L606.94 561.64 L608.13 561.52 L609.13 561.48 L609.9 561.3" fill="none" stroke="#60e6fa" stroke-width="2.2" stroke-linejoin="round" stroke-linecap="round" clip-path="url(#rc6)"/>
<rect x="462.8" y="491.8" width="147.1" height="73" fill="none" stroke="#303030" stroke-width="1.25"/>
<line x1="458" y1="505.4" x2="462.8" y2="505.4" stroke="#303030" stroke-width="1.1"/>
<line x1="458" y1="533.3" x2="462.8" y2="533.3" stroke="#303030" stroke-width="1.1"/>
<line x1="462.9" y1="564.8" x2="462.9" y2="569.3" stroke="#303030" stroke-width="1.1"/>
<line x1="515.1" y1="564.8" x2="515.1" y2="569.3" stroke="#303030" stroke-width="1.1"/>
<line x1="567.3" y1="564.8" x2="567.3" y2="569.3" stroke="#303030" stroke-width="1.1"/>
<text x="420.04" y="512.3" font-family="Liberation Sans" font-size="17.44" fill="#1a1a1a" text-anchor="start" textLength="31.53" lengthAdjust="spacingAndGlyphs" stroke="#1a1a1a" stroke-width="0.3">-1.0</text>
<text x="420.04" y="540.3" font-family="Liberation Sans" font-size="17.44" fill="#1a1a1a" text-anchor="start" textLength="31.58" lengthAdjust="spacingAndGlyphs" stroke="#1a1a1a" stroke-width="0.3">-0.5</text>
<text x="533.11" y="511.7" font-family="Liberation Sans" font-size="16.13" fill="#1a1a1a" text-anchor="start" textLength="74.98" lengthAdjust="spacingAndGlyphs" stroke="#1a1a1a" stroke-width="0.3">5.2° (AB)</text>
<path d="M463 630.02 L463.15 630.1 L463.31 629.88 L463.5 629.51 L463.7 630.73 L463.91 628.39 L464.15 630.71 L464.39 631.96 L464.65 627.9 L464.92 628.94 L465.2 632.26 L465.49 628.38 L465.79 631.71 L466.09 630.76 L466.4 628.61 L466.71 631.17 L467.03 628.53 L467.34 632.32 L467.66 630 L467.98 632.82 L468.29 632.79 L468.6 629.51 L468.91 630.75 L469.21 629.72 L469.5 632.43 L469.79 629.57 L470.08 630.12 L470.36 630.29 L470.65 632.57 L470.94 630.77 L471.23 631.04 L471.51 631.44 L471.8 631.8 L472.09 631.41 L472.39 633.04 L472.68 631.25 L472.98 631.68 L473.28 632.87 L473.59 631.03 L473.9 630.84 L474.21 632.85 L474.52 631.3 L474.85 633.04 L475.17 632.84 L475.51 631.5 L475.84 631.39 L476.19 630.7 L476.54 633.02 L476.9 631.73 L477.27 631.42 L477.65 630.92 L478.04 631.05 L478.45 632.97 L478.86 630.71 L479.28 631.96 L479.7 632.13 L480.14 631.78 L480.57 631.69 L481.01 631.34 L481.46 630.68 L481.9 632.53 L482.34 632.71 L482.79 631.67 L483.23 630.7 L483.66 632.65 L484.1 630.48 L484.52 630.36 L484.94 631.71 L485.35 632.3 L485.76 631.51 L486.15 630.12 L486.53 632.73 L486.9 630.27 L487.26 630.85 L487.62 632.8 L487.97 632.24 L488.31 632.15 L488.65 630.15 L488.99 632.51 L489.32 631.2 L489.65 630.07 L489.97 632.45 L490.29 632.93 L490.6 630.33 L490.91 631.61 L491.22 633.01 L491.52 631.36 L491.82 631.33 L492.11 632.82 L492.4 631.87 L492.68 633.6 L492.96 633.24 L493.24 633.31 L493.51 632.93 L493.78 631.45 L494.04 633 L494.3 632.74 L494.55 632.51 L494.8 632.83 L495.03 632.12 L495.26 631.87 L495.48 634.09 L495.69 632.54 L495.9 631.83 L496.1 634.53 L496.3 633.21 L496.49 633.79 L496.68 632.86 L496.88 632.38 L497.06 633.01 L497.25 634.6 L497.44 633.01 L497.63 635.01 L497.83 633.27 L498.02 635.13 L498.22 633.06 L498.43 633.93 L498.63 633.06 L498.85 633.2 L499.07 634.4 L499.3 634 L499.54 634.58 L499.78 633.69 L500.03 634.05 L500.28 634.16 L500.53 635.96 L500.79 633.59 L501.06 634.67 L501.32 636.06 L501.59 635.28 L501.86 634.41 L502.13 636.7 L502.4 634.11 L502.67 634.26 L502.94 633.97 L503.21 635.3 L503.48 636.62 L503.74 634.95 L504.01 635.01 L504.27 636.6 L504.52 634.49 L504.77 634.35 L505.02 636.33 L505.26 634.63 L505.5 635.98 L505.73 634.87 L505.97 636.28 L506.2 636.02 L506.44 636.08 L506.67 636.14 L506.91 636.2 L507.14 636.26 L507.37 636.32 L507.6 636.38 L507.83 636.43 L508.05 636.48 L508.27 636.52 L508.49 636.55 L508.7 636.56 L508.9 636.57 L509.11 636.56 L509.3 636.53 L509.5 636.48 L509.68 636.41 L509.86 636.32 L510.03 636.21 L510.2 636.07 L510.35 635.9 L510.5 635.7 L510.64 635.48 L510.77 635.24 L510.89 634.98 L511 634.7 L511.1 634.41 L511.2 634.09 L511.28 633.76 L511.37 633.41 L511.44 633.05 L511.52 632.67 L511.58 632.27 L511.65 631.86 L511.71 631.43 L511.77 630.98 L511.83 630.52 L511.89 630.04 L511.95 629.55 L512 629.04 L512.06 628.52 L512.12 627.98 L512.19 627.43 L512.26 626.87 L512.33 626.29 L512.4 625.7 L512.48 625.09 L512.55 624.45 L512.63 623.79 L512.71 623.1 L512.79 622.39 L512.86 621.66 L512.94 620.92 L513.02 620.16 L513.1 619.38 L513.17 618.59 L513.25 617.78 L513.33 616.97 L513.4 616.15 L513.48 615.32 L513.55 614.48 L513.63 613.64 L513.7 612.8 L513.77 611.96 L513.85 611.12 L513.92 610.29 L513.99 609.45 L514.06 608.63 L514.13 607.81 L514.2 607 L514.27 606.18 L514.34 605.35 L514.4 604.49 L514.47 603.62 L514.53 602.74 L514.59 601.85 L514.66 600.95 L514.72 600.04 L514.78 599.13 L514.84 598.23 L514.9 597.32 L514.96 596.43 L515.02 595.54 L515.08 594.66 L515.14 593.79 L515.2 592.95 L515.26 592.12 L515.33 591.32 L515.39 590.54 L515.45 589.78 L515.51 589.06 L515.57 588.37 L515.64 587.72 L515.7 587.1 L515.76 586.51 L515.83 585.94 L515.89 585.39 L515.96 584.86 L516.03 584.34 L516.09 583.84 L516.16 583.37 L516.22 582.91 L516.29 582.47 L516.35 582.05 L516.42 581.65 L516.49 581.27 L516.55 580.91 L516.62 580.57 L516.69 580.25 L516.76 579.96 L516.82 579.69 L516.89 579.43 L516.96 579.2 L517.03 579 L517.09 578.81 L517.16 578.65 L517.23 578.51 L517.3 578.4 L517.37 578.32 L517.44 578.26 L517.51 578.24 L517.58 578.25 L517.65 578.29 L517.72 578.36 L517.79 578.45 L517.87 578.56 L517.94 578.69 L518.01 578.85 L518.08 579.02 L518.16 579.21 L518.23 579.42 L518.3 579.64 L518.37 579.87 L518.44 580.11 L518.52 580.36 L518.59 580.61 L518.66 580.87 L518.73 581.14 L518.8 581.41 L518.87 581.67 L518.93 581.94 L519 582.2 L519.07 582.46 L519.13 582.73 L519.19 583.01 L519.25 583.29 L519.31 583.59 L519.37 583.89 L519.42 584.19 L519.48 584.51 L519.53 584.83 L519.59 585.16 L519.64 585.51 L519.7 585.86 L519.76 586.22 L519.81 586.59 L519.87 586.97 L519.93 587.36 L520 587.76 L520.06 588.17 L520.13 588.6 L520.19 589.03 L520.27 589.48 L520.34 589.94 L520.42 590.41 L520.5 590.9 L520.58 591.41 L520.67 591.94 L520.76 592.49 L520.84 593.07 L520.93 593.66 L521.03 594.28 L521.12 594.9 L521.21 595.54 L521.31 596.2 L521.41 596.86 L521.51 597.52 L521.61 598.19 L521.72 598.87 L521.82 599.54 L521.93 600.21 L522.04 600.88 L522.15 601.54 L522.27 602.19 L522.38 602.83 L522.5 603.46 L522.62 604.07 L522.75 604.67 L522.87 605.24 L523 605.8 L523.13 606.34 L523.26 606.88 L523.4 607.41 L523.54 607.94 L523.68 608.46 L523.83 608.98 L523.97 609.49 L524.12 609.99 L524.27 610.49 L524.43 610.98 L524.58 611.47 L524.74 611.94 L524.9 612.41 L525.06 612.88 L525.22 613.33 L525.38 613.77 L525.54 614.21 L525.7 614.64 L525.87 615.06 L526.03 615.47 L526.2 615.86 L526.37 616.25 L526.53 616.63 L526.7 617 L526.87 617.36 L527.04 617.7 L527.21 618.03 L527.39 618.35 L527.56 618.66 L527.74 618.96 L527.92 619.25 L528.1 619.53 L528.28 619.8 L528.46 620.06 L528.65 620.32 L528.83 620.57 L529.02 620.81 L529.2 621.05 L529.38 621.28 L529.57 621.5 L529.75 621.73 L529.93 621.94 L530.11 622.16 L530.29 622.37 L530.47 622.58 L530.65 622.79 L530.83 622.99 L531 623.2 L531.17 623.4 L531.34 623.6 L531.5 623.78 L531.66 623.96 L531.82 624.13 L531.97 624.3 L532.12 624.46 L532.27 624.61 L532.43 624.77 L532.58 624.91 L532.73 625.06 L532.88 625.2 L533.04 625.34 L533.19 625.48 L533.35 625.62 L533.51 625.75 L533.68 625.89 L533.85 626.03 L534.03 626.17 L534.21 626.31 L534.4 626.45 L534.59 626.6 L534.79 626.75 L535 626.9 L535.21 627.06 L535.43 627.22 L535.65 627.37 L535.88 627.54 L536.11 627.7 L536.34 627.86 L536.57 628.02 L536.81 628.19 L537.05 628.35 L537.3 628.51 L537.55 628.67 L537.81 628.84 L538.07 629 L538.33 629.16 L538.6 629.32 L538.87 629.48 L539.14 629.64 L539.42 629.8 L539.71 629.95 L540 630.11 L540.29 630.26 L540.59 630.41 L540.89 630.55 L541.2 630.7 L541.51 630.84 L541.83 630.99 L542.16 631.13 L542.49 631.28 L542.83 631.42 L543.17 631.57 L543.52 631.71 L543.87 631.86 L544.22 632 L544.58 632.14 L544.95 632.28 L545.31 632.41 L545.68 632.55 L546.06 632.68 L546.43 632.81 L546.81 632.93 L547.19 633.06 L547.58 633.17 L547.96 633.29 L548.35 633.4 L548.73 633.51 L549.12 633.61 L549.51 633.71 L549.9 633.8 L550.29 633.89 L550.7 633.97 L551.11 634.04 L551.52 634.12 L551.94 634.18 L552.37 634.25 L552.8 634.3 L553.23 634.36 L553.67 634.41 L554.11 634.46 L554.54 634.51 L554.98 634.55 L555.42 634.59 L555.85 634.63 L556.28 634.67 L556.71 634.71 L557.13 634.74 L557.55 634.78 L557.96 634.82 L558.37 634.85 L558.77 634.89 L559.15 634.92 L559.53 634.96 L559.9 635 L560.26 635.04 L560.62 635.08 L560.97 635.13 L561.31 635.18 L561.65 635.22 L561.99 635.27 L562.32 635.32 L562.65 635.37 L562.97 635.41 L563.29 635.46 L563.6 635.5 L563.91 635.54 L564.22 635.58 L564.52 635.62 L564.82 635.65 L565.11 635.68 L565.4 635.7 L565.68 635.72 L565.96 635.73 L566.24 635.74 L566.51 635.74 L566.78 635.73 L567.04 635.72 L567.3 635.7 L567.56 635.67 L567.81 635.63 L568.06 635.58 L568.3 635.53 L568.54 635.46 L568.78 635.39 L569.01 635.32 L569.24 635.24 L569.46 635.15 L569.68 635.06 L569.9 634.97 L570.11 634.88 L570.31 634.78 L570.52 634.68 L570.71 634.58 L570.91 634.49 L571.1 634.39 L571.28 634.29 L571.46 634.2 L571.64 634.11 L571.81 634.03 L571.98 633.95 L572.14 633.87 L572.3 633.8 L572.45 633.73 L572.59 633.66 L572.72 633.59 L572.85 633.52 L572.96 633.45 L573.07 633.37 L573.18 633.3 L573.27 633.23 L573.37 633.15 L573.46 633.08 L573.55 633.02 L573.63 632.95 L573.72 632.89 L573.8 632.83 L573.88 632.77 L573.97 632.72 L574.06 632.67 L574.15 632.63 L574.24 632.59 L574.34 632.56 L574.45 632.53 L574.56 632.52 L574.67 632.5 L574.8 632.5 L574.93 632.51 L575.05 632.52 L575.17 632.54 L575.29 632.58 L575.41 632.62 L575.52 632.66 L575.64 632.72 L575.76 632.77 L575.88 632.84 L576 632.9 L576.13 632.97 L576.26 633.04 L576.4 633.12 L576.54 633.19 L576.69 633.26 L576.85 633.34 L577.02 633.41 L577.2 633.48 L577.38 633.54 L577.58 633.61 L577.79 633.66 L578.01 633.71 L578.25 633.76 L578.5 633.8 L578.77 633.83 L579.05 633.87 L579.34 633.9 L579.65 633.92 L579.96 633.95 L580.29 633.97 L580.63 633.99 L580.98 634.01 L581.34 634.03 L581.7 634.05 L582.08 634.07 L582.46 634.08 L582.84 634.09 L583.23 634.11 L583.62 634.12 L584.02 634.13 L584.42 634.14 L584.82 634.15 L585.22 634.16 L585.62 634.17 L586.02 634.18 L586.41 634.18 L586.81 634.19 L587.2 634.2 L587.59 634.21 L587.98 634.22 L588.37 634.22 L588.76 634.23 L589.15 634.23 L589.55 634.24 L589.94 634.24 L590.34 634.24 L590.74 634.25 L591.14 634.25 L591.54 634.25 L591.95 634.25 L592.36 634.25 L592.78 634.25 L593.2 634.25 L593.62 634.24 L594.05 634.24 L594.48 634.24 L594.92 634.23 L595.36 634.23 L595.81 634.22 L596.27 634.22 L596.73 634.21 L597.2 634.2 L597.69 634.19 L598.2 634.18 L598.75 634.17 L599.31 634.15 L599.89 634.14 L600.48 634.12 L601.09 634.1 L601.7 634.08 L602.32 634.06 L602.94 634.04 L603.56 634.02 L604.18 634 L604.78 633.98 L605.37 633.96 L605.95 633.94 L606.51 633.92 L607.04 633.9 L607.55 633.88 L608.04 633.86 L608.49 633.85 L608.9 633.83 L609.28 633.82 L609.61 633.81 L609.9 633.8" fill="none" stroke="#70f6f8" stroke-width="2.2" stroke-linejoin="round" stroke-linecap="round" clip-path="url(#rc7)"/>
<rect x="462.8" y="564.8" width="147.1" height="73" fill="none" stroke="#303030" stroke-width="1.25"/>
<line x1="458" y1="578.4" x2="462.8" y2="578.4" stroke="#303030" stroke-width="1.1"/>
<line x1="458" y1="606.3" x2="462.8" y2="606.3" stroke="#303030" stroke-width="1.1"/>
<line x1="462.9" y1="637.8" x2="462.9" y2="642.3" stroke="#303030" stroke-width="1.1"/>
<line x1="515.1" y1="637.8" x2="515.1" y2="642.3" stroke="#303030" stroke-width="1.1"/>
<line x1="567.3" y1="637.8" x2="567.3" y2="642.3" stroke="#303030" stroke-width="1.1"/>
<text x="420.04" y="585.3" font-family="Liberation Sans" font-size="17.44" fill="#1a1a1a" text-anchor="start" textLength="31.53" lengthAdjust="spacingAndGlyphs" stroke="#1a1a1a" stroke-width="0.3">-1.0</text>
<text x="420.04" y="613.3" font-family="Liberation Sans" font-size="17.44" fill="#1a1a1a" text-anchor="start" textLength="31.58" lengthAdjust="spacingAndGlyphs" stroke="#1a1a1a" stroke-width="0.3">-0.5</text>
<text x="580.2" y="586.5" font-family="Liberation Sans" font-size="16.13" fill="#1a1a1a" text-anchor="start" textLength="28.59" lengthAdjust="spacingAndGlyphs" stroke="#1a1a1a" stroke-width="0.3">23°</text>
<rect x="225" y="53.9" width="73.5" height="72.8" fill="#faf5ea"/>
<rect x="304.4" y="53.9" width="73.5" height="72.8" fill="#faf5ea"/>
<rect x="225" y="127.1" width="73.5" height="72.8" fill="#faf5ea"/>
<rect x="304.4" y="127.1" width="73.5" height="72.8" fill="#faf5ea"/>
<rect x="225" y="200.3" width="73.5" height="72.8" fill="#faf5ea"/>
<rect x="304.4" y="200.3" width="73.5" height="72.8" fill="#faf5ea"/>
<rect x="225" y="273.5" width="73.5" height="72.8" fill="#faf5ea"/>
<rect x="304.4" y="273.5" width="73.5" height="72.8" fill="#faf5ea"/>
<rect x="225" y="346.7" width="73.5" height="72.8" fill="#faf5ea"/>
<rect x="304.4" y="346.7" width="73.5" height="72.8" fill="#faf5ea"/>
<rect x="225" y="419.9" width="73.5" height="72.8" fill="#faf5ea"/>
<rect x="304.4" y="419.9" width="73.5" height="72.8" fill="#faf5ea"/>
<rect x="225" y="493.1" width="73.5" height="72.8" fill="#faf5ea"/>
<rect x="304.4" y="493.1" width="73.5" height="72.8" fill="#faf5ea"/>
<rect x="225" y="566.3" width="73.5" height="72.8" fill="#faf5ea"/>
<rect x="304.4" y="566.3" width="73.5" height="72.8" fill="#faf5ea"/>
<g clip-path="url(#ic0_0)" style="mix-blend-mode:multiply"><ellipse cx="262.7" cy="84.5" rx="24.84" ry="27" fill="url(#g1)"/></g>
<g clip-path="url(#ic0_0)"><rect x="237.05" y="58.85" width="51.3" height="51.3" fill="url(#hexG)" mask="url(#gm2)"/></g>
<g clip-path="url(#ic0_0)"><rect x="244.7" y="66.5" width="36" height="36" fill="url(#hexD)" mask="url(#m3)"/></g>
<path d="M248.8 67.9 L293.7 67.9 L271.5 106.6 L226.6 106.6 Z" fill="none" stroke="#111" stroke-width="1.75" stroke-linejoin="miter"/>
<circle cx="262" cy="87.4" r="2.5" fill="#1a1aff"/>
<g clip-path="url(#ic0_1)" style="mix-blend-mode:multiply"><ellipse cx="347.5" cy="81.2" rx="16.74" ry="23.76" fill="url(#g4)" transform="rotate(-26 347.5 81.2)"/></g>
<g clip-path="url(#ic0_1)" style="mix-blend-mode:multiply"><ellipse cx="328.3" cy="92.6" rx="16.74" ry="22.68" fill="url(#g5)" transform="rotate(-26 328.3 92.6)"/></g>
<g clip-path="url(#ic0_1)"><rect x="324.93" y="58.63" width="45.14" height="45.14" fill="url(#hexG)" mask="url(#gm6)"/></g>
<g clip-path="url(#ic0_1)"><rect x="306.75" y="71.05" width="43.09" height="43.09" fill="url(#hexG)" mask="url(#gm7)"/></g>
<g clip-path="url(#ic0_1)"><rect x="331.5" y="65.2" width="32" height="32" fill="url(#hexD)" mask="url(#m8)"/></g>
<path d="M328.1 67.9 L372.9 67.9 L350.8 106.5 L305.9 106.5 Z" fill="none" stroke="#111" stroke-width="1.75" stroke-linejoin="miter"/>
<circle cx="341.2" cy="87.3" r="2.5" fill="#1a1aff"/>
<g clip-path="url(#ic1_0)" style="mix-blend-mode:multiply"><ellipse cx="264.5" cy="159" rx="21.6" ry="28.08" fill="url(#g9)" transform="rotate(-8 264.5 159)"/></g>
<g clip-path="url(#ic1_0)"><rect x="237.82" y="132.32" width="53.35" height="53.35" fill="url(#hexG)" mask="url(#gm10)"/></g>
<g clip-path="url(#ic1_0)"><rect x="246.5" y="140" width="36" height="36" fill="url(#hexD)" mask="url(#m11)"/></g>
<path d="M250.3 138.6 L297.9 138.6 L274.4 179.5 L226.2 179.5 Z" fill="none" stroke="#111" stroke-width="1.75" stroke-linejoin="miter"/>
<circle cx="261.8" cy="159" r="2.5" fill="#1a1aff"/>
<g clip-path="url(#ic1_1)" style="mix-blend-mode:multiply"><ellipse cx="350.8" cy="154" rx="16.74" ry="24.84" fill="url(#g12)" transform="rotate(-26 350.8 154)"/></g>
<g clip-path="url(#ic1_1)" style="mix-blend-mode:multiply"><ellipse cx="330.3" cy="166.3" rx="16.74" ry="23.76" fill="url(#g13)" transform="rotate(-26 330.3 166.3)"/></g>
<g clip-path="url(#ic1_1)"><rect x="327.2" y="130.4" width="47.2" height="47.2" fill="url(#hexG)" mask="url(#gm14)"/></g>
<g clip-path="url(#ic1_1)"><rect x="307.73" y="143.73" width="45.14" height="45.14" fill="url(#hexG)" mask="url(#gm15)"/></g>
<g clip-path="url(#ic1_1)"><rect x="334.8" y="138" width="32" height="32" fill="url(#hexD)" mask="url(#m16)"/></g>
<path d="M329.4 138.6 L377 138.6 L353.4 179.5 L305.8 179.5 Z" fill="none" stroke="#111" stroke-width="1.75" stroke-linejoin="miter"/>
<circle cx="341.1" cy="159" r="2.5" fill="#1a1aff"/>
<g clip-path="url(#ic2_0)" style="mix-blend-mode:multiply"><ellipse cx="258.7" cy="234.7" rx="18.36" ry="22.68" fill="url(#g17)"/></g>
<g clip-path="url(#ic2_0)"><rect x="237.15" y="213.15" width="43.09" height="43.09" fill="url(#hexG)" mask="url(#gm18)"/></g>
<g clip-path="url(#ic2_0)"><rect x="243.7" y="219.1" width="30" height="30" fill="url(#hexD)" mask="url(#m19)"/></g>
<path d="M247.7 216.9 L290.6 216.9 L269.1 253.5 L226.2 253.5 Z" fill="none" stroke="#111" stroke-width="1.75" stroke-linejoin="miter"/>
<circle cx="258.7" cy="234.1" r="2.5" fill="#1a1aff"/>
<g clip-path="url(#ic2_1)" style="mix-blend-mode:multiply"><ellipse cx="330.3" cy="238.2" rx="16.2" ry="22.68" fill="url(#g20)" transform="rotate(-26 330.3 238.2)"/></g>
<g clip-path="url(#ic2_1)" style="mix-blend-mode:multiply"><ellipse cx="351.3" cy="227" rx="16.2" ry="22.68" fill="url(#g21)" transform="rotate(-26 351.3 227)"/></g>
<g clip-path="url(#ic2_1)"><rect x="308.75" y="216.65" width="43.09" height="43.09" fill="url(#hexG)" mask="url(#gm22)"/></g>
<g clip-path="url(#ic2_1)"><rect x="329.75" y="205.45" width="43.09" height="43.09" fill="url(#hexG)" mask="url(#gm23)"/></g>
<g clip-path="url(#ic2_1)"><rect x="315.5" y="222.5" width="30" height="30" fill="url(#hexD)" mask="url(#m24)"/></g>
<path d="M326.7 216.9 L369.4 216.9 L349 253.5 L305.8 253.5 Z" fill="none" stroke="#111" stroke-width="1.75" stroke-linejoin="miter"/>
<circle cx="337.7" cy="234.1" r="2.5" fill="#1a1aff"/>
<g clip-path="url(#ic3_0)" style="mix-blend-mode:multiply"><ellipse cx="262" cy="311.6" rx="21.6" ry="22.68" fill="url(#g25)"/></g>
<g clip-path="url(#ic3_0)"><rect x="240.45" y="290.05" width="43.09" height="43.09" fill="url(#hexG)" mask="url(#gm26)"/></g>
<g clip-path="url(#ic3_0)"><rect x="247.3" y="297.6" width="28" height="28" fill="url(#hexD)" mask="url(#m27)"/></g>
<path d="M251.6 295.9 L289.6 295.9 L271.2 327.3 L233 327.3 Z" fill="none" stroke="#111" stroke-width="1.75" stroke-linejoin="miter"/>
<circle cx="261.3" cy="311.6" r="2.5" fill="#1a1aff"/>
<g clip-path="url(#ic3_1)" style="mix-blend-mode:multiply"><ellipse cx="342.4" cy="312" rx="19.44" ry="21.6" fill="url(#g28)" transform="rotate(-20 342.4 312)"/></g>
<g clip-path="url(#ic3_1)"><rect x="321.88" y="291.48" width="41.04" height="41.04" fill="url(#hexG)" mask="url(#gm29)"/></g>
<g clip-path="url(#ic3_1)"><rect x="329.5" y="299" width="28" height="28" fill="url(#hexD)" mask="url(#m30)"/></g>
<path d="M330.7 295.9 L368.6 295.9 L350.3 327.3 L312.3 327.3 Z" fill="none" stroke="#111" stroke-width="1.75" stroke-linejoin="miter"/>
<circle cx="340.6" cy="311.6" r="2.5" fill="#1a1aff"/>
<g clip-path="url(#ic4_0)" style="mix-blend-mode:multiply"><ellipse cx="258.5" cy="387.2" rx="20.52" ry="20.52" fill="url(#g31)"/></g>
<g clip-path="url(#ic4_0)"><rect x="239.01" y="367.71" width="38.99" height="38.99" fill="url(#hexG)" mask="url(#gm32)"/></g>
<g clip-path="url(#ic4_0)"><rect x="245.3" y="374.2" width="26" height="26" fill="url(#hexD)" mask="url(#m33)"/></g>
<path d="M250.3 371.5 L286.2 371.5 L268.6 402.9 L232.5 402.9 Z" fill="none" stroke="#111" stroke-width="1.75" stroke-linejoin="miter"/>
<circle cx="258.1" cy="387.2" r="2.5" fill="#1a1aff"/>
<g clip-path="url(#ic4_1)" style="mix-blend-mode:multiply"><ellipse cx="338.5" cy="388.5" rx="12.96" ry="19.44" fill="url(#g34)" transform="rotate(-35 338.5 388.5)"/></g>
<g clip-path="url(#ic4_1)"><rect x="320.03" y="370.03" width="36.94" height="36.94" fill="url(#hexG)" mask="url(#gm35)"/></g>
<g clip-path="url(#ic4_1)"><rect x="324.5" y="374.5" width="28" height="28" fill="url(#hexD)" mask="url(#m36)"/></g>
<path d="M329.4 371.5 L365.5 371.5 L347.7 402.9 L311.6 402.9 Z" fill="none" stroke="#111" stroke-width="1.75" stroke-linejoin="miter"/>
<circle cx="337.2" cy="387.2" r="2.5" fill="#1a1aff"/>
<g clip-path="url(#ic5_0)" style="mix-blend-mode:multiply"><ellipse cx="262" cy="455" rx="42" ry="44" fill="url(#g37)"/></g>
<g clip-path="url(#ic5_0)" style="mix-blend-mode:multiply"><ellipse cx="263.3" cy="455" rx="18" ry="18.5" fill="url(#g38)"/></g>
<g clip-path="url(#ic5_0)"><rect x="245.73" y="437.43" width="35.15" height="35.15" fill="url(#hexG)" mask="url(#gm39)"/></g>
<g clip-path="url(#ic5_0)"><rect x="250.3" y="442" width="26" height="26" fill="url(#hexD)" mask="url(#m40)"/></g>
<path d="M260 442.4 L286.2 442.4 L273.1 464.9 L246.9 464.9 Z" fill="none" stroke="#111" stroke-width="1.75" stroke-linejoin="miter"/>
<circle cx="267.8" cy="452.3" r="2.5" fill="#1a1aff"/>
<g clip-path="url(#ic5_1)" style="mix-blend-mode:multiply"><ellipse cx="341" cy="457" rx="62" ry="62" fill="url(#g41)"/></g>
<g clip-path="url(#ic5_1)" style="mix-blend-mode:multiply"><ellipse cx="362" cy="431" rx="26" ry="22" fill="url(#g42)"/></g>
<g clip-path="url(#ic5_1)" style="mix-blend-mode:multiply"><ellipse cx="309" cy="456" rx="17" ry="28" fill="url(#g43)"/></g>
<g clip-path="url(#ic5_1)" style="mix-blend-mode:multiply"><ellipse cx="327" cy="482" rx="28" ry="17" fill="url(#g44)"/></g>
<g clip-path="url(#ic5_1)" style="mix-blend-mode:multiply"><ellipse cx="339.3" cy="455.3" rx="17" ry="14" fill="url(#g45)" transform="rotate(-20 339.3 455.3)"/></g>
<g clip-path="url(#ic5_1)"><ellipse cx="320" cy="431" rx="22" ry="15" fill="url(#lg46)"/></g>
<g clip-path="url(#ic5_1)"><ellipse cx="372" cy="477" rx="12" ry="20" fill="url(#lg47)"/></g>
<g clip-path="url(#ic5_1)"><ellipse cx="302" cy="494" rx="10" ry="8" fill="url(#lg48)"/></g>
<g clip-path="url(#ic5_1)"><rect x="304.4" y="419.9" width="73.5" height="73.2" fill="url(#hexW)" opacity="0.8"/></g>
<g clip-path="url(#ic5_1)"><rect x="330.3" y="446.3" width="18" height="18" fill="url(#hexD)" mask="url(#m50)"/></g>
<path d="M338.5 442.4 L364.7 442.4 L351.6 464.9 L326.2 464.9 Z" fill="none" stroke="#111" stroke-width="1.75" stroke-linejoin="miter"/>
<circle cx="346.9" cy="452.3" r="2.5" fill="#1a1aff"/>
<g clip-path="url(#ic6_0)" style="mix-blend-mode:multiply"><ellipse cx="263" cy="529" rx="42" ry="44" fill="url(#g51)"/></g>
<g clip-path="url(#ic6_0)" style="mix-blend-mode:multiply"><ellipse cx="263.5" cy="528.8" rx="17" ry="17.5" fill="url(#g52)"/></g>
<g clip-path="url(#ic6_0)"><rect x="246.88" y="512.17" width="33.25" height="33.25" fill="url(#hexG)" mask="url(#gm53)"/></g>
<g clip-path="url(#ic6_0)"><rect x="251.5" y="516.8" width="24" height="24" fill="url(#hexD)" mask="url(#m54)"/></g>
<path d="M257.3 518.3 L280.9 518.3 L269.7 537.9 L246.9 537.9 Z" fill="none" stroke="#111" stroke-width="1.75" stroke-linejoin="miter"/>
<circle cx="263.9" cy="528.2" r="2.5" fill="#1a1aff"/>
<g clip-path="url(#ic6_1)" style="mix-blend-mode:multiply"><ellipse cx="341" cy="530" rx="62" ry="62" fill="url(#g55)"/></g>
<g clip-path="url(#ic6_1)" style="mix-blend-mode:multiply"><ellipse cx="314" cy="535" rx="19" ry="34" fill="url(#g56)"/></g>
<g clip-path="url(#ic6_1)" style="mix-blend-mode:multiply"><ellipse cx="340" cy="558" rx="36" ry="15" fill="url(#g57)"/></g>
<g clip-path="url(#ic6_1)" style="mix-blend-mode:multiply"><ellipse cx="358" cy="502" rx="24" ry="12" fill="url(#g58)"/></g>
<g clip-path="url(#ic6_1)" style="mix-blend-mode:multiply"><ellipse cx="375" cy="530" rx="12" ry="17" fill="url(#g59)"/></g>
<g clip-path="url(#ic6_1)" style="mix-blend-mode:multiply"><ellipse cx="343" cy="528" rx="12" ry="11" fill="url(#g60)"/></g>
<g clip-path="url(#ic6_1)"><ellipse cx="333" cy="509" rx="18" ry="10" fill="url(#lg61)"/></g>
<g clip-path="url(#ic6_1)"><ellipse cx="371" cy="556" rx="11" ry="11" fill="url(#lg62)"/></g>
<g clip-path="url(#ic6_1)"><ellipse cx="352" cy="540" rx="7" ry="5" fill="url(#lg63)"/></g>
<g clip-path="url(#ic6_1)"><rect x="304.4" y="493.1" width="73.5" height="73.2" fill="url(#hexW)" opacity="0.8"/></g>
<g clip-path="url(#ic6_1)"><rect x="335" y="520" width="16" height="16" fill="url(#hexD)" mask="url(#m65)"/></g>
<path d="M337.2 518.3 L360.3 518.3 L349 537.9 L326.2 537.9 Z" fill="none" stroke="#111" stroke-width="1.75" stroke-linejoin="miter"/>
<circle cx="343" cy="528.2" r="2.5" fill="#1a1aff"/>
<g clip-path="url(#ic7_0)" style="mix-blend-mode:multiply"><ellipse cx="260.7" cy="601" rx="36" ry="36" fill="url(#g66)"/></g>
<g clip-path="url(#ic7_0)"><rect x="236.7" y="577" width="48" height="48" fill="url(#hexD)" mask="url(#m67)"/></g>
<path d="M257.3 596.3 L267.3 596.3 L263.4 603.6 L254 603.6 Z" fill="none" stroke="#111" stroke-width="1.75" stroke-linejoin="miter"/>
<circle cx="260.8" cy="600.2" r="2.5" fill="#1a1aff"/>
<g clip-path="url(#ic7_1)" style="mix-blend-mode:multiply"><ellipse cx="340.5" cy="601.5" rx="56" ry="54" fill="url(#g68)" transform="rotate(-20 340.5 601.5)"/></g>
<g clip-path="url(#ic7_1)" style="mix-blend-mode:multiply"><ellipse cx="340" cy="600" rx="22" ry="20" fill="url(#g69)" transform="rotate(-20 340 600)"/></g>
<g clip-path="url(#ic7_1)"><ellipse cx="340" cy="600" rx="6" ry="5" fill="url(#lg70)"/></g>
<g clip-path="url(#ic7_1)"><ellipse cx="306" cy="570" rx="16" ry="14" fill="url(#lg71)"/></g>
<g clip-path="url(#ic7_1)"><ellipse cx="375" cy="570" rx="12" ry="12" fill="url(#lg72)"/></g>
<g clip-path="url(#ic7_1)"><ellipse cx="306" cy="636" rx="14" ry="12" fill="url(#lg73)"/></g>
<g clip-path="url(#ic7_1)"><ellipse cx="375" cy="636" rx="14" ry="14" fill="url(#lg74)"/></g>
<g clip-path="url(#ic7_1)"><rect x="304.4" y="566.3" width="73.5" height="73.2" fill="url(#hexW)" opacity="0.35"/></g>
<g clip-path="url(#ic7_1)"><rect x="308" y="568" width="64" height="64" fill="url(#hexD)" mask="url(#m76)"/></g>
<path d="M337.2 596.3 L346.4 596.3 L343 603.6 L333.3 603.6 Z" fill="none" stroke="#111" stroke-width="1.75" stroke-linejoin="miter"/>
<circle cx="339.8" cy="600.2" r="2.5" fill="#1a1aff"/>
<line x1="150.5" y1="80.3" x2="150.5" y2="96.5" stroke="#7f7f7f" stroke-width="1.8"/>
<path d="M146.9 90.5 L150.5 97.3 L154.1 90.5" fill="none" stroke="#7f7f7f" stroke-width="1.9" stroke-linejoin="miter"/>
<line x1="165.2" y1="80.3" x2="165.2" y2="96.5" stroke="#7f7f7f" stroke-width="1.8"/>
<path d="M161.6 90.5 L165.2 97.3 L168.8 90.5" fill="none" stroke="#7f7f7f" stroke-width="1.9" stroke-linejoin="miter"/>
<line x1="154.1" y1="153.2" x2="154.1" y2="169.7" stroke="#7f7f7f" stroke-width="1.8"/>
<path d="M150.5 163.7 L154.1 170.5 L157.7 163.7" fill="none" stroke="#7f7f7f" stroke-width="1.9" stroke-linejoin="miter"/>
<line x1="167.8" y1="153.2" x2="167.8" y2="169.7" stroke="#7f7f7f" stroke-width="1.8"/>
<path d="M164.2 163.7 L167.8 170.5 L171.4 163.7" fill="none" stroke="#7f7f7f" stroke-width="1.9" stroke-linejoin="miter"/>
<line x1="155.2" y1="229.5" x2="155.2" y2="245.9" stroke="#7f7f7f" stroke-width="1.8"/>
<path d="M151.6 239.9 L155.2 246.7 L158.8 239.9" fill="none" stroke="#7f7f7f" stroke-width="1.9" stroke-linejoin="miter"/>
<line x1="170.3" y1="229.5" x2="170.3" y2="245.9" stroke="#7f7f7f" stroke-width="1.8"/>
<path d="M166.7 239.9 L170.3 246.7 L173.9 239.9" fill="none" stroke="#7f7f7f" stroke-width="1.9" stroke-linejoin="miter"/>
<text x="118.96" y="79.7" font-family="Liberation Serif" font-size="19.54" fill="#1a1a1a" text-anchor="start" textLength="6.55" lengthAdjust="spacingAndGlyphs" stroke="#1a1a1a" stroke-width="0.55">I</text>
<text x="139.49" y="79.7" font-family="Liberation Serif" font-size="19.54" fill="#1a1a1a" text-anchor="start" textLength="14.39" lengthAdjust="spacingAndGlyphs" stroke="#1a1a1a" stroke-width="0.55">II</text>
<text x="158.58" y="79.7" font-family="Liberation Serif" font-size="19.54" fill="#1a1a1a" text-anchor="start" textLength="22.02" lengthAdjust="spacingAndGlyphs" stroke="#1a1a1a" stroke-width="0.55">III</text>
<text x="510.09" y="85.4" font-family="Liberation Serif" font-size="19.85" fill="#1a1a1a" text-anchor="start" textLength="6.3" lengthAdjust="spacingAndGlyphs" stroke="#1a1a1a" stroke-width="0.55">I</text>
<text x="523.78" y="85.4" font-family="Liberation Serif" font-size="19.85" fill="#1a1a1a" text-anchor="start" textLength="14.73" lengthAdjust="spacingAndGlyphs" stroke="#1a1a1a" stroke-width="0.55">II</text>
<text x="542.78" y="85.4" font-family="Liberation Serif" font-size="19.85" fill="#1a1a1a" text-anchor="start" textLength="21.91" lengthAdjust="spacingAndGlyphs" stroke="#1a1a1a" stroke-width="0.55">III</text>
<text x="26.2" y="15.4" font-family="Liberation Sans" font-size="18.6" fill="#1a1a1a" text-anchor="start" textLength="95.9" lengthAdjust="spacingAndGlyphs" stroke="#1a1a1a" stroke-width="0.3">(a) Theory</text>
<text x="28.8" y="40.9" font-family="Liberation Sans" font-size="18.9" fill="#1a1a1a" text-anchor="start" textLength="179.7" lengthAdjust="spacingAndGlyphs" stroke="#1a1a1a" stroke-width="0.3">Optical conductivity</text>
<text x="223.5" y="17.2" font-family="Liberation Sans" font-size="17.88" fill="#1a1a1a" text-anchor="start" textLength="68.5" lengthAdjust="spacingAndGlyphs" stroke="#1a1a1a" stroke-width="0.3">Exciton</text>
<text x="224.5" y="40.9" font-family="Liberation Sans" font-size="17.88" fill="#1a1a1a" text-anchor="start" textLength="130.1" lengthAdjust="spacingAndGlyphs" stroke="#1a1a1a" stroke-width="0.3">wavefunctions</text>
<text x="424.2" y="15.5" font-family="Liberation Sans" font-size="18.6" fill="#1a1a1a" text-anchor="start" textLength="139.8" lengthAdjust="spacingAndGlyphs" stroke="#1a1a1a" stroke-width="0.3">(b) Experiment</text>
<text x="61.75" y="662.5" font-family="Liberation Sans" font-size="19.19" fill="#1a1a1a" text-anchor="middle" textLength="26.9" lengthAdjust="spacingAndGlyphs" stroke="#1a1a1a" stroke-width="0.3">1.6</text>
<text x="114.2" y="662.5" font-family="Liberation Sans" font-size="19.19" fill="#1a1a1a" text-anchor="middle" textLength="26.9" lengthAdjust="spacingAndGlyphs" stroke="#1a1a1a" stroke-width="0.3">1.7</text>
<text x="166.8" y="662.5" font-family="Liberation Sans" font-size="19.19" fill="#1a1a1a" text-anchor="middle" textLength="26.9" lengthAdjust="spacingAndGlyphs" stroke="#1a1a1a" stroke-width="0.3">1.8</text>
<text x="462.9" y="661.5" font-family="Liberation Sans" font-size="18.9" fill="#1a1a1a" text-anchor="middle" textLength="26.5" lengthAdjust="spacingAndGlyphs" stroke="#1a1a1a" stroke-width="0.3">1.6</text>
<text x="515.1" y="661.5" font-family="Liberation Sans" font-size="18.9" fill="#1a1a1a" text-anchor="middle" textLength="26.5" lengthAdjust="spacingAndGlyphs" stroke="#1a1a1a" stroke-width="0.3">1.7</text>
<text x="567.3" y="661.5" font-family="Liberation Sans" font-size="18.9" fill="#1a1a1a" text-anchor="middle" textLength="26.5" lengthAdjust="spacingAndGlyphs" stroke="#1a1a1a" stroke-width="0.3">1.8</text>
<text x="95" y="679.9" font-family="Liberation Sans" font-size="18.17" fill="#1a1a1a" text-anchor="start" textLength="59.6" lengthAdjust="spacingAndGlyphs" stroke="#1a1a1a" stroke-width="0.3">E (eV)</text>
<text x="498" y="679" font-family="Liberation Sans" font-size="18.17" fill="#1a1a1a" text-anchor="start" textLength="58.2" lengthAdjust="spacingAndGlyphs" stroke="#1a1a1a" stroke-width="0.3">E (eV)</text>
<text x="14.6" y="433.3" font-family="Liberation Sans" font-size="19.19" fill="#1a1a1a" text-anchor="start" textLength="213.5" lengthAdjust="spacingAndGlyphs" transform="rotate(-90 14.6 433.3)" stroke="#1a1a1a" stroke-width="0.3">Re [σ<tspan font-size="12.6" dy="3.6">XX</tspan><tspan dy="-3.6">(ω)] (arb. unit)</tspan></text>
<text x="412.9" y="401.4" font-family="Liberation Sans" font-size="19.77" fill="#1a1a1a" text-anchor="start" textLength="173.6" lengthAdjust="spacingAndGlyphs" transform="rotate(-90 412.9 401.4)" stroke="#1a1a1a" stroke-width="0.3">Reflection contrast</text></svg></body></html>
